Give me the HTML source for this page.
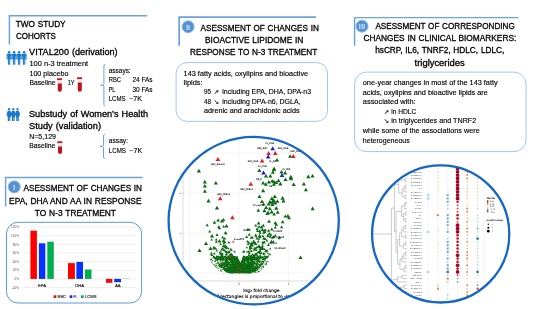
<!DOCTYPE html>
<html lang="en"><head><meta charset="utf-8"><title>Graphical abstract</title>
<style>html,body{margin:0;padding:0;background:#fff;overflow:hidden}svg{display:block}</style>
</head><body>
<svg width="550" height="309" viewBox="0 0 550 309" font-family='"Liberation Sans", "DejaVu Sans", sans-serif'>
<rect width="550" height="309" fill="#fff"/>
<path d="M9.4 44.6 V15.7 H147.2" fill="none" stroke="#6aa3de" stroke-width="1.45"/>
<text x="15.8" y="27.4" font-size="9.0" text-anchor="start" fill="#000" stroke="#000" stroke-width="0.31" textLength="49.8" lengthAdjust="spacingAndGlyphs" word-spacing="0.5">TWO STUDY</text>
<text x="16.1" y="39.3" font-size="9.0" text-anchor="start" fill="#000" stroke="#000" stroke-width="0.31" textLength="39.8" lengthAdjust="spacingAndGlyphs">COHORTS</text>
<text x="29.1" y="55.2" font-size="9.0" text-anchor="start" fill="#000" stroke="#000" stroke-width="0.31" textLength="88.5" lengthAdjust="spacingAndGlyphs" word-spacing="0.5">VITAL200 (derivation)</text>
<text x="29.4" y="66.0" font-size="7.25" text-anchor="start" fill="#000" stroke="#000" stroke-width="0.14" textLength="58.8" lengthAdjust="spacingAndGlyphs">100 n-3 treatment</text>
<text x="29.4" y="75.7" font-size="7.25" text-anchor="start" fill="#000" stroke="#000" stroke-width="0.14" textLength="39.1" lengthAdjust="spacingAndGlyphs">100 placebo</text>
<text x="29.4" y="85.2" font-size="7.25" text-anchor="start" fill="#000" stroke="#000" stroke-width="0.14" textLength="26.1" lengthAdjust="spacingAndGlyphs">Baseline</text>
<text x="67.7" y="85.2" font-size="7.25" text-anchor="start" fill="#000" stroke="#000" stroke-width="0.14" textLength="6.9" lengthAdjust="spacingAndGlyphs">1Y</text>
<rect x="57.0" y="78.3" width="5.1" height="2.0" rx="0.3" fill="#c9151c"/>
<rect x="57.76" y="80.30" width="4.08" height="3.4" fill="#f8e4e4"/>
<path d="M57.76 83.60 h4.08 v6.16 a2.04 2.04 0 0 1 -4.08 0 z" fill="#bd141b"/>
<rect x="77.0" y="77.3" width="5.1" height="2.0" rx="0.3" fill="#c9151c"/>
<rect x="77.76" y="79.30" width="4.08" height="3.4" fill="#f8e4e4"/>
<path d="M77.76 82.60 h4.08 v7.16 a2.04 2.04 0 0 1 -4.08 0 z" fill="#bd141b"/>
<text x="29.0" y="116.6" font-size="9.0" text-anchor="start" fill="#000" stroke="#000" stroke-width="0.31" textLength="119.0" lengthAdjust="spacingAndGlyphs" word-spacing="0.5">Substudy of Women’s Health</text>
<text x="29.0" y="128.7" font-size="9.0" text-anchor="start" fill="#000" stroke="#000" stroke-width="0.31" textLength="72.0" lengthAdjust="spacingAndGlyphs" word-spacing="0.5">Study (validation)</text>
<text x="29.2" y="138.7" font-size="7.25" text-anchor="start" fill="#000" stroke="#000" stroke-width="0.14" textLength="26.8" lengthAdjust="spacingAndGlyphs">N=5,129</text>
<text x="29.2" y="148.3" font-size="7.25" text-anchor="start" fill="#000" stroke="#000" stroke-width="0.14" textLength="26.1" lengthAdjust="spacingAndGlyphs">Baseline</text>
<rect x="57.3" y="141.2" width="5.0" height="2.0" rx="0.3" fill="#c9151c"/>
<rect x="58.05" y="143.20" width="4.00" height="3.4" fill="#f8e4e4"/>
<path d="M58.05 146.50 h4.00 v5.60 a2.00 2.00 0 0 1 -4.00 0 z" fill="#bd141b"/>
<path d="M105.2 64.5 q-1.3 0 -1.3 1.4 V84.4 q0 0.9 -3.3 0.9 q3.3 0 3.3 0.9 V104.7 q0 1.4 1.3 1.4" fill="none" stroke="#5b9bd5" stroke-width="0.9"/>
<text x="108.7" y="72.5" font-size="7.25" text-anchor="start" fill="#000" stroke="#000" stroke-width="0.14" textLength="22.0" lengthAdjust="spacingAndGlyphs">assays:</text>
<text x="108.7" y="82.1" font-size="7.25" text-anchor="start" fill="#000" stroke="#000" stroke-width="0.14" textLength="12.3" lengthAdjust="spacingAndGlyphs">RBC</text>
<text x="132.4" y="82.1" font-size="7.25" text-anchor="start" fill="#000" stroke="#000" stroke-width="0.14" textLength="20.2" lengthAdjust="spacingAndGlyphs">24 FAs</text>
<text x="108.7" y="91.6" font-size="7.25" text-anchor="start" fill="#000" stroke="#000" stroke-width="0.14" textLength="6.6" lengthAdjust="spacingAndGlyphs">PL</text>
<text x="132.4" y="91.6" font-size="7.25" text-anchor="start" fill="#000" stroke="#000" stroke-width="0.14" textLength="20.2" lengthAdjust="spacingAndGlyphs">30 FAs</text>
<text x="108.7" y="101.0" font-size="7.25" text-anchor="start" fill="#000" stroke="#000" stroke-width="0.14" textLength="17.0" lengthAdjust="spacingAndGlyphs">LCMS</text>
<text x="129.0" y="101.0" font-size="7.25" text-anchor="start" fill="#000" stroke="#000" stroke-width="0.14" textLength="12.9" lengthAdjust="spacingAndGlyphs">~7K</text>
<path d="M104.8 134.4 q-1.3 0 -1.3 1.4 V145.5 q0 0.9 -3.3 0.9 q3.3 0 3.3 0.9 V157.1 q0 1.4 1.3 1.4" fill="none" stroke="#5b9bd5" stroke-width="0.9"/>
<text x="108.8" y="143.2" font-size="7.25" text-anchor="start" fill="#000" stroke="#000" stroke-width="0.14" textLength="19.2" lengthAdjust="spacingAndGlyphs">assay:</text>
<text x="108.8" y="153.1" font-size="7.25" text-anchor="start" fill="#000" stroke="#000" stroke-width="0.14" textLength="17.2" lengthAdjust="spacingAndGlyphs">LCMS</text>
<text x="129.2" y="153.1" font-size="7.25" text-anchor="start" fill="#000" stroke="#000" stroke-width="0.14" textLength="13.0" lengthAdjust="spacingAndGlyphs">~7K</text>
<g fill="#1878cc"><circle cx="9.10" cy="52.20" r="1.25"/><path d="M6.65 54.55 q0 -0.8 0.8 -0.8 h3.3 q0.8 0 0.8 0.8 v4.9 h-1.0 v-3.6 h-0.25 v8.8 h-1.05 v-5.4 h-0.3 v5.4 h-1.05 v-8.8 h-0.25 v3.6 h-1.0 z"/></g>
<g fill="#1878cc"><circle cx="14.10" cy="52.20" r="1.25"/><path d="M11.65 54.55 q0 -0.8 0.8 -0.8 h3.3 q0.8 0 0.8 0.8 v4.9 h-1.0 v-3.6 h-0.25 v8.8 h-1.05 v-5.4 h-0.3 v5.4 h-1.05 v-8.8 h-0.25 v3.6 h-1.0 z"/></g>
<g fill="#1878cc"><circle cx="19.10" cy="52.20" r="1.25"/><path d="M16.65 54.55 q0 -0.8 0.8 -0.8 h3.3 q0.8 0 0.8 0.8 v4.9 h-1.0 v-3.6 h-0.25 v8.8 h-1.05 v-5.4 h-0.3 v5.4 h-1.05 v-8.8 h-0.25 v3.6 h-1.0 z"/></g>
<g fill="#1878cc"><circle cx="24.10" cy="52.20" r="1.25"/><path d="M21.65 54.55 q0 -0.8 0.8 -0.8 h3.3 q0.8 0 0.8 0.8 v4.9 h-1.0 v-3.6 h-0.25 v8.8 h-1.05 v-5.4 h-0.3 v5.4 h-1.05 v-8.8 h-0.25 v3.6 h-1.0 z"/></g>
<g fill="#1878cc"><circle cx="9.10" cy="109.20" r="1.15"/><path d="M7.80 110.70L10.40 110.70L11.80 114.60L11.05 115.20L10.65 117.30L10.40 117.30L10.40 121.10L9.25 121.10L9.25 117.50L8.95 117.50L8.95 121.10L7.80 121.10L7.80 117.30L7.55 117.30L7.15 115.20L6.40 114.60z"/></g>
<g fill="#1878cc"><circle cx="13.30" cy="109.20" r="1.15"/><path d="M12.00 110.70L14.60 110.70L16.00 114.60L15.25 115.20L14.85 117.30L14.60 117.30L14.60 121.10L13.45 121.10L13.45 117.50L13.15 117.50L13.15 121.10L12.00 121.10L12.00 117.30L11.75 117.30L11.35 115.20L10.60 114.60z"/></g>
<g fill="#1878cc"><circle cx="17.50" cy="109.20" r="1.15"/><path d="M16.20 110.70L18.80 110.70L20.20 114.60L19.45 115.20L19.05 117.30L18.80 117.30L18.80 121.10L17.65 121.10L17.65 117.50L17.35 117.50L17.35 121.10L16.20 121.10L16.20 117.30L15.95 117.30L15.55 115.20L14.80 114.60z"/></g>
<path d="M5.6 206.6 V177.5 H142.7" fill="none" stroke="#6aa3de" stroke-width="1.45"/>
<circle cx="14.2" cy="186.9" r="6.1" fill="#5592d3" stroke="#9cc0e8" stroke-width="0.9"/>
<text x="14.2" y="189.8" font-size="8.0" text-anchor="middle" fill="#fff">I</text>
<text x="23.5" y="191.1" font-size="9.0" text-anchor="start" fill="#000" stroke="#000" stroke-width="0.31" textLength="118.5" lengthAdjust="spacingAndGlyphs" word-spacing="0.5">ASESSMENT OF CHANGES IN</text>
<text x="9.1" y="203.6" font-size="9.0" text-anchor="start" fill="#000" stroke="#000" stroke-width="0.31" textLength="132.4" lengthAdjust="spacingAndGlyphs" word-spacing="0.5">EPA, DHA AND AA IN RESPONSE</text>
<text x="34.8" y="216.0" font-size="9.0" text-anchor="start" fill="#000" stroke="#000" stroke-width="0.31" textLength="81.2" lengthAdjust="spacingAndGlyphs" word-spacing="0.5">TO N-3 TREATMENT</text>
<rect x="6.5" y="222.3" width="135.1" height="80.7" rx="11.5" ry="11.5" fill="#fff" stroke="#5b9bd5" stroke-width="1"/>
<line x1="23.5" x2="136" y1="227.12" y2="227.12" stroke="#dedede" stroke-width="0.5"/>
<text x="19.2" y="228.2" font-size="3.2" text-anchor="end" fill="#555">120%</text>
<line x1="23.5" x2="136" y1="235.75" y2="235.75" stroke="#dedede" stroke-width="0.5"/>
<text x="19.2" y="236.8" font-size="3.2" text-anchor="end" fill="#555">100%</text>
<line x1="23.5" x2="136" y1="244.38" y2="244.38" stroke="#dedede" stroke-width="0.5"/>
<text x="19.2" y="245.5" font-size="3.2" text-anchor="end" fill="#555">80%</text>
<line x1="23.5" x2="136" y1="253.01" y2="253.01" stroke="#dedede" stroke-width="0.5"/>
<text x="19.2" y="254.1" font-size="3.2" text-anchor="end" fill="#555">60%</text>
<line x1="23.5" x2="136" y1="261.64" y2="261.64" stroke="#dedede" stroke-width="0.5"/>
<text x="19.2" y="262.7" font-size="3.2" text-anchor="end" fill="#555">40%</text>
<line x1="23.5" x2="136" y1="270.27" y2="270.27" stroke="#dedede" stroke-width="0.5"/>
<text x="19.2" y="271.4" font-size="3.2" text-anchor="end" fill="#555">20%</text>
<line x1="23.5" x2="136" y1="278.90" y2="278.90" stroke="#dedede" stroke-width="0.5"/>
<text x="19.2" y="280.0" font-size="3.2" text-anchor="end" fill="#555">0%</text>
<line x1="23.5" x2="136" y1="287.53" y2="287.53" stroke="#dedede" stroke-width="0.5"/>
<text x="19.2" y="288.6" font-size="3.2" text-anchor="end" fill="#555">-20%</text>
<rect x="30.4" y="230.70" width="6.50" height="48.20" fill="#ff0000" opacity="1"/>
<rect x="38.9" y="243.30" width="6.40" height="35.60" fill="#0433ff" opacity="1"/>
<rect x="47.3" y="241.70" width="6.50" height="37.20" fill="#00b050" opacity="1"/>
<rect x="68.0" y="263.11" width="6.90" height="15.79" fill="#ff0000" opacity="1"/>
<rect x="76.4" y="261.90" width="6.60" height="17.00" fill="#0433ff" opacity="1"/>
<rect x="84.9" y="269.49" width="6.60" height="9.41" fill="#00b050" opacity="1"/>
<rect x="106.0" y="278.90" width="6.40" height="3.88" fill="#ff0000" opacity="1"/>
<rect x="114.2" y="278.90" width="6.80" height="3.28" fill="#0433ff" opacity="1"/>
<rect x="122.6" y="278.21" width="6.80" height="0.69" fill="#00b050" opacity="0.35"/>
<text x="42.1" y="287.4" font-size="4.3" text-anchor="middle" fill="#111" stroke="#111" stroke-width="0.12">EPA</text>
<text x="79.7" y="287.4" font-size="4.3" text-anchor="middle" fill="#111" stroke="#111" stroke-width="0.12">DHA</text>
<text x="117.8" y="287.4" font-size="4.3" text-anchor="middle" fill="#111" stroke="#111" stroke-width="0.12">AA</text>
<rect x="53.6" y="295.3" width="2.7" height="2.7" fill="#ff0000"/>
<text x="57.6" y="297.9" font-size="4.3" text-anchor="start" fill="#111" textLength="8.2" lengthAdjust="spacingAndGlyphs" stroke="#111" stroke-width="0.12">RBC</text>
<rect x="69.6" y="295.3" width="2.7" height="2.7" fill="#0433ff"/>
<text x="73.6" y="297.9" font-size="4.3" text-anchor="start" fill="#111" textLength="3.6" lengthAdjust="spacingAndGlyphs" stroke="#111" stroke-width="0.12">PL</text>
<rect x="81.0" y="295.3" width="2.7" height="2.7" fill="#00b050"/>
<text x="85.0" y="297.9" font-size="4.3" text-anchor="start" fill="#111" textLength="11.4" lengthAdjust="spacingAndGlyphs" stroke="#111" stroke-width="0.12">LCMS</text>
<path d="M179.2 45.8 V17.2 H316.1" fill="none" stroke="#6aa3de" stroke-width="1.8"/>
<circle cx="188.1" cy="26.8" r="6.1" fill="#5592d3" stroke="#9cc0e8" stroke-width="0.9"/>
<text x="185.9" y="29.5" font-size="7.6" text-anchor="start" fill="#fff" textLength="4.4" lengthAdjust="spacingAndGlyphs">II</text>
<text x="200.6" y="30.6" font-size="9.0" text-anchor="start" fill="#000" stroke="#000" stroke-width="0.31" textLength="118.2" lengthAdjust="spacingAndGlyphs" word-spacing="0.5">ASESSMENT OF CHANGES IN</text>
<text x="205.0" y="42.9" font-size="9.0" text-anchor="start" fill="#000" stroke="#000" stroke-width="0.31" textLength="98.4" lengthAdjust="spacingAndGlyphs" word-spacing="0.5">BIOACTIVE LIPIDOME IN</text>
<text x="190.1" y="55.0" font-size="9.0" text-anchor="start" fill="#000" stroke="#000" stroke-width="0.31" textLength="127.1" lengthAdjust="spacingAndGlyphs" word-spacing="0.5">RESPONSE TO N-3 TREATMENT</text>
<rect x="176.1" y="62.6" width="151.4" height="58.8" rx="11" ry="11" fill="#fff" stroke="#a4c6ea" stroke-width="1"/>
<text x="183.6" y="75.7" font-size="7.25" text-anchor="start" fill="#000" stroke="#000" stroke-width="0.14" textLength="124.6" lengthAdjust="spacingAndGlyphs">143 fatty acids, oxylipins and bioactive</text>
<text x="183.6" y="85.0" font-size="7.25" text-anchor="start" fill="#000" stroke="#000" stroke-width="0.14" textLength="19.0" lengthAdjust="spacingAndGlyphs">lipids:</text>
<text x="204.0" y="94.4" font-size="7.25" text-anchor="start" fill="#000" stroke="#000" stroke-width="0.14" textLength="7.0" lengthAdjust="spacingAndGlyphs">95</text>
<text x="213.7" y="94.3" font-size="6.4" text-anchor="start" fill="#000" stroke="#000" stroke-width="0.13" font-family='"DejaVu Sans", sans-serif'>↗</text>
<text x="222.3" y="94.4" font-size="7.25" text-anchor="start" fill="#000" stroke="#000" stroke-width="0.14" textLength="88.8" lengthAdjust="spacingAndGlyphs">including EPA, DHA, DPA-n3</text>
<text x="204.0" y="103.7" font-size="7.25" text-anchor="start" fill="#000" stroke="#000" stroke-width="0.14" textLength="7.0" lengthAdjust="spacingAndGlyphs">48</text>
<text x="213.7" y="103.6" font-size="6.4" text-anchor="start" fill="#000" stroke="#000" stroke-width="0.13" font-family='"DejaVu Sans", sans-serif'>↘</text>
<text x="222.3" y="103.7" font-size="7.25" text-anchor="start" fill="#000" stroke="#000" stroke-width="0.14" textLength="78.2" lengthAdjust="spacingAndGlyphs">including DPA-n6, DGLA,</text>
<text x="204.0" y="113.1" font-size="7.25" text-anchor="start" fill="#000" stroke="#000" stroke-width="0.14" textLength="95.6" lengthAdjust="spacingAndGlyphs">adrenic and arachidonic acids</text>
<path d="M354.6 45.8 V17.6 H518.4" fill="none" stroke="#6aa3de" stroke-width="1.45"/>
<circle cx="362.0" cy="26.2" r="6.1" fill="#5592d3" stroke="#9cc0e8" stroke-width="0.9"/>
<text x="358.8" y="28.9" font-size="7.6" text-anchor="start" fill="#fff" textLength="6.4" lengthAdjust="spacingAndGlyphs">III</text>
<text x="375.4" y="28.9" font-size="9.0" text-anchor="start" fill="#000" stroke="#000" stroke-width="0.31" textLength="139.4" lengthAdjust="spacingAndGlyphs" word-spacing="0.5">ASESSMENT OF CORRESPONDING</text>
<text x="363.5" y="41.0" font-size="9.0" text-anchor="start" fill="#000" stroke="#000" stroke-width="0.31" textLength="152.8" lengthAdjust="spacingAndGlyphs" word-spacing="0.5">CHANGES IN CLINICAL BIOMARKERS:</text>
<text x="375.2" y="53.3" font-size="9.0" text-anchor="start" fill="#000" stroke="#000" stroke-width="0.31" textLength="129.1" lengthAdjust="spacingAndGlyphs" word-spacing="0.5">hsCRP, IL6, TNRF2, HDLC, LDLC,</text>
<text x="414.6" y="66.2" font-size="9.0" text-anchor="start" fill="#000" stroke="#000" stroke-width="0.31" textLength="50.1" lengthAdjust="spacingAndGlyphs">triglycerides</text>
<rect x="354.6" y="72.1" width="171.4" height="79.5" rx="12" ry="12" fill="#fff" stroke="#a4c6ea" stroke-width="1"/>
<text x="362.8" y="85.2" font-size="7.25" text-anchor="start" fill="#000" stroke="#000" stroke-width="0.14" textLength="134.9" lengthAdjust="spacingAndGlyphs">one-year changes in most of the 143 fatty</text>
<text x="362.8" y="94.8" font-size="7.25" text-anchor="start" fill="#000" stroke="#000" stroke-width="0.14" textLength="125.0" lengthAdjust="spacingAndGlyphs">acids, oxylipins and bioactive lipids are</text>
<text x="362.8" y="104.3" font-size="7.25" text-anchor="start" fill="#000" stroke="#000" stroke-width="0.14" textLength="52.8" lengthAdjust="spacingAndGlyphs">associated with:</text>
<text x="383.7" y="113.9" font-size="6.4" text-anchor="start" fill="#000" stroke="#000" stroke-width="0.13" font-family='"DejaVu Sans", sans-serif'>↗</text>
<text x="391.2" y="113.9" font-size="7.25" text-anchor="start" fill="#000" stroke="#000" stroke-width="0.14" textLength="25.1" lengthAdjust="spacingAndGlyphs">in HDLC</text>
<text x="383.7" y="123.4" font-size="6.4" text-anchor="start" fill="#000" stroke="#000" stroke-width="0.13" font-family='"DejaVu Sans", sans-serif'>↘</text>
<text x="391.2" y="123.4" font-size="7.25" text-anchor="start" fill="#000" stroke="#000" stroke-width="0.14" textLength="85.1" lengthAdjust="spacingAndGlyphs">in triglycerides and TNRF2</text>
<text x="362.8" y="133.0" font-size="7.25" text-anchor="start" fill="#000" stroke="#000" stroke-width="0.14" textLength="117.0" lengthAdjust="spacingAndGlyphs">while some of the associations were</text>
<text x="362.8" y="142.6" font-size="7.25" text-anchor="start" fill="#000" stroke="#000" stroke-width="0.14" textLength="47.0" lengthAdjust="spacingAndGlyphs">heterogeneous</text>
<clipPath id="cv"><ellipse cx="253.7" cy="220.65" rx="85.1" ry="83.75"/></clipPath>
<g clip-path="url(#cv)">
<rect x="160" y="130" width="190" height="180" fill="#fff"/>
<line x1="189.7" x2="189.7" y1="130" y2="281" stroke="#e9e9e9" stroke-width="0.5"/>
<line x1="239.0" x2="239.0" y1="130" y2="281" stroke="#e9e9e9" stroke-width="0.5"/>
<line x1="288.3" x2="288.3" y1="130" y2="281" stroke="#e9e9e9" stroke-width="0.5"/>
<line x1="337.6" x2="337.6" y1="130" y2="281" stroke="#e9e9e9" stroke-width="0.5"/>
<line x1="183" x2="345" y1="153.0" y2="153.0" stroke="#e9e9e9" stroke-width="0.5"/>
<line x1="183" x2="345" y1="193.0" y2="193.0" stroke="#e9e9e9" stroke-width="0.5"/>
<line x1="183" x2="345" y1="233.0" y2="233.0" stroke="#e9e9e9" stroke-width="0.5"/>
<line x1="183" x2="345" y1="273.0" y2="273.0" stroke="#e9e9e9" stroke-width="0.5"/>
<line x1="183" x2="345" y1="281" y2="281" stroke="#c4c4c4" stroke-width="0.6"/>
<line x1="183" x2="183" y1="130" y2="281" stroke="#c4c4c4" stroke-width="0.6"/>
<line x1="239.0" x2="239.0" y1="281" y2="282.5" stroke="#999" stroke-width="0.4"/>
<line x1="288.3" x2="288.3" y1="281" y2="282.5" stroke="#999" stroke-width="0.4"/>
<line x1="181.8" x2="183" y1="153.0" y2="153.0" stroke="#999" stroke-width="0.4"/>
<line x1="181.8" x2="183" y1="193.0" y2="193.0" stroke="#999" stroke-width="0.4"/>
<line x1="181.8" x2="183" y1="233.0" y2="233.0" stroke="#999" stroke-width="0.4"/>
<line x1="181.8" x2="183" y1="273.0" y2="273.0" stroke="#999" stroke-width="0.4"/>
<path d="M242.4 271.6h1.1v1.1h-1.1zM234.8 271.8h1.0v1.0h-1.0zM229.5 271.3h1.0v1.0h-1.0zM242.4 271.1h0.9v0.9h-0.9zM256.7 264.5h1.2v1.2h-1.2zM222.5 258.0h1.0v1.0h-1.0zM236.9 259.6h0.9v0.9h-0.9zM243.8 262.5h1.0v1.0h-1.0zM236.4 269.7h1.1v1.1h-1.1zM238.8 269.2h1.1v1.1h-1.1zM248.0 261.5h0.9v0.9h-0.9zM242.3 265.2h1.2v1.2h-1.2zM241.0 271.4h1.0v1.0h-1.0zM248.1 270.5h1.0v1.0h-1.0zM254.2 262.9h1.2v1.2h-1.2zM236.2 261.5h1.1v1.1h-1.1zM249.6 256.9h1.0v1.0h-1.0zM245.2 271.7h1.1v1.1h-1.1zM258.9 264.7h1.0v1.0h-1.0zM265.1 259.3h1.0v1.0h-1.0zM237.5 261.5h0.9v0.9h-0.9zM235.5 266.7h1.2v1.2h-1.2zM249.4 258.0h1.2v1.2h-1.2zM245.2 268.6h1.0v1.0h-1.0zM253.1 269.8h0.9v0.9h-0.9zM223.8 267.2h1.0v1.0h-1.0zM233.3 266.3h1.0v1.0h-1.0zM244.0 256.7h1.1v1.1h-1.1zM253.6 270.6h1.2v1.2h-1.2zM241.2 261.7h1.2v1.2h-1.2zM232.1 262.7h0.9v0.9h-0.9zM233.6 269.7h0.9v0.9h-0.9zM238.2 270.9h0.9v0.9h-0.9zM237.0 272.1h1.2v1.2h-1.2zM235.6 267.5h1.0v1.0h-1.0zM236.1 258.6h1.2v1.2h-1.2zM228.7 271.0h1.0v1.0h-1.0zM237.5 260.5h0.9v0.9h-0.9zM264.2 260.1h1.1v1.1h-1.1zM236.2 264.4h1.2v1.2h-1.2zM229.9 267.2h0.9v0.9h-0.9zM251.5 264.1h1.2v1.2h-1.2zM243.2 256.1h1.2v1.2h-1.2zM246.1 259.2h1.1v1.1h-1.1zM238.2 272.2h0.9v0.9h-0.9zM227.9 268.5h1.1v1.1h-1.1zM250.3 256.0h1.2v1.2h-1.2zM237.0 269.6h0.9v0.9h-0.9zM242.0 259.6h1.2v1.2h-1.2zM233.4 262.2h1.2v1.2h-1.2zM252.5 259.7h1.1v1.1h-1.1zM232.4 270.0h1.2v1.2h-1.2zM248.8 266.7h1.0v1.0h-1.0zM255.5 260.4h0.9v0.9h-0.9zM243.9 259.6h0.9v0.9h-0.9zM243.9 256.2h1.1v1.1h-1.1zM232.3 272.2h1.2v1.2h-1.2zM250.0 264.4h1.2v1.2h-1.2zM258.5 265.9h0.9v0.9h-0.9zM231.7 269.2h1.1v1.1h-1.1zM239.3 262.7h1.0v1.0h-1.0zM229.4 263.4h1.2v1.2h-1.2zM259.5 261.5h1.0v1.0h-1.0zM229.3 265.9h0.9v0.9h-0.9zM221.9 263.1h1.1v1.1h-1.1zM240.3 269.5h1.0v1.0h-1.0zM223.5 262.6h0.9v0.9h-0.9zM233.9 260.1h1.0v1.0h-1.0zM255.5 264.5h1.1v1.1h-1.1zM246.2 264.7h1.1v1.1h-1.1zM228.0 256.9h1.1v1.1h-1.1zM243.6 257.0h0.9v0.9h-0.9zM262.3 262.8h0.9v0.9h-0.9zM231.2 271.6h0.9v0.9h-0.9zM253.3 257.8h0.9v0.9h-0.9zM246.5 262.2h0.9v0.9h-0.9zM220.5 256.5h1.0v1.0h-1.0zM222.2 256.0h1.2v1.2h-1.2zM245.6 267.7h0.9v0.9h-0.9zM231.0 261.1h0.8v0.8h-0.8zM229.7 267.7h1.1v1.1h-1.1zM243.4 271.6h1.2v1.2h-1.2zM233.6 268.9h0.9v0.9h-0.9zM265.9 257.6h0.9v0.9h-0.9zM259.4 264.7h0.9v0.9h-0.9zM250.2 263.6h1.1v1.1h-1.1zM242.9 266.5h0.9v0.9h-0.9zM241.7 264.3h1.2v1.2h-1.2zM222.9 258.0h1.0v1.0h-1.0zM229.9 263.9h1.2v1.2h-1.2zM240.5 270.4h0.9v0.9h-0.9zM234.7 271.9h0.9v0.9h-0.9zM243.1 268.4h1.0v1.0h-1.0zM232.1 267.6h0.8v0.8h-0.8zM239.9 267.6h0.9v0.9h-0.9zM238.2 260.1h0.9v0.9h-0.9zM235.4 259.0h1.0v1.0h-1.0zM249.4 261.5h1.2v1.2h-1.2zM250.3 262.6h1.0v1.0h-1.0zM224.2 269.7h0.9v0.9h-0.9zM225.1 268.9h0.9v0.9h-0.9zM246.9 258.3h1.1v1.1h-1.1zM238.5 267.2h0.9v0.9h-0.9zM232.5 268.7h1.2v1.2h-1.2zM227.5 256.5h1.0v1.0h-1.0zM237.7 272.4h1.0v1.0h-1.0zM228.3 264.8h0.8v0.8h-0.8zM238.0 271.5h1.0v1.0h-1.0zM237.8 269.7h1.1v1.1h-1.1zM240.4 264.7h1.1v1.1h-1.1zM235.4 267.7h1.2v1.2h-1.2zM219.8 259.1h1.1v1.1h-1.1zM258.1 260.9h1.1v1.1h-1.1zM245.0 270.7h1.0v1.0h-1.0zM258.8 258.1h1.1v1.1h-1.1zM240.4 265.5h1.1v1.1h-1.1zM239.6 269.3h0.9v0.9h-0.9zM242.4 264.7h1.1v1.1h-1.1zM229.2 272.2h1.2v1.2h-1.2zM250.6 264.8h1.1v1.1h-1.1zM242.0 269.6h0.9v0.9h-0.9zM236.8 261.1h0.9v0.9h-0.9zM238.1 268.0h1.0v1.0h-1.0zM246.9 262.5h0.9v0.9h-0.9zM224.2 267.2h1.1v1.1h-1.1zM235.6 271.8h0.9v0.9h-0.9zM252.0 261.4h1.1v1.1h-1.1zM236.9 265.7h0.9v0.9h-0.9zM251.4 269.4h1.2v1.2h-1.2zM238.1 261.7h1.2v1.2h-1.2zM239.2 270.0h0.9v0.9h-0.9zM246.4 270.6h1.0v1.0h-1.0zM242.1 270.9h1.2v1.2h-1.2zM260.6 263.5h1.2v1.2h-1.2zM238.8 272.3h0.8v0.8h-0.8zM229.0 270.5h1.0v1.0h-1.0zM239.4 263.7h0.8v0.8h-0.8zM239.7 263.5h1.1v1.1h-1.1zM259.0 264.5h1.0v1.0h-1.0zM262.7 260.7h1.0v1.0h-1.0zM239.4 263.8h1.0v1.0h-1.0zM243.0 269.1h0.9v0.9h-0.9zM233.3 256.6h1.2v1.2h-1.2zM240.2 266.1h1.2v1.2h-1.2zM251.6 271.4h1.1v1.1h-1.1zM235.3 260.5h1.1v1.1h-1.1zM240.6 271.4h1.0v1.0h-1.0zM236.7 268.3h1.1v1.1h-1.1zM247.5 268.2h1.1v1.1h-1.1zM238.8 270.9h0.9v0.9h-0.9zM234.1 269.4h1.2v1.2h-1.2zM260.9 261.5h0.9v0.9h-0.9zM238.4 271.6h0.9v0.9h-0.9zM235.7 263.7h1.2v1.2h-1.2zM239.9 267.9h1.0v1.0h-1.0zM229.6 271.7h1.0v1.0h-1.0zM244.9 262.6h1.2v1.2h-1.2zM238.9 269.8h0.9v0.9h-0.9zM248.6 258.6h1.2v1.2h-1.2zM233.4 272.0h1.1v1.1h-1.1zM248.9 272.4h1.0v1.0h-1.0zM246.7 259.1h1.2v1.2h-1.2zM232.4 270.5h1.0v1.0h-1.0zM241.1 260.8h1.1v1.1h-1.1zM229.7 264.1h0.9v0.9h-0.9zM253.4 268.4h1.2v1.2h-1.2zM234.7 269.0h1.1v1.1h-1.1zM246.7 271.1h0.9v0.9h-0.9zM226.8 268.7h1.1v1.1h-1.1zM237.9 268.9h1.0v1.0h-1.0zM253.8 264.7h0.9v0.9h-0.9zM236.2 256.6h1.1v1.1h-1.1zM239.2 265.3h1.0v1.0h-1.0zM237.8 263.6h1.2v1.2h-1.2zM239.5 268.5h1.1v1.1h-1.1zM237.2 260.6h1.1v1.1h-1.1zM246.6 268.0h1.2v1.2h-1.2zM239.6 270.6h1.1v1.1h-1.1zM233.1 270.0h0.9v0.9h-0.9zM216.1 257.9h1.2v1.2h-1.2zM233.9 256.4h0.9v0.9h-0.9zM231.9 271.8h1.0v1.0h-1.0zM256.4 255.8h1.2v1.2h-1.2zM227.4 269.4h1.2v1.2h-1.2zM240.0 269.3h1.0v1.0h-1.0zM237.4 270.5h0.8v0.8h-0.8zM241.5 271.1h1.2v1.2h-1.2zM230.7 267.3h1.2v1.2h-1.2zM235.3 265.4h1.0v1.0h-1.0zM249.5 269.9h1.0v1.0h-1.0zM237.8 261.4h1.1v1.1h-1.1zM238.5 272.2h0.9v0.9h-0.9zM246.7 257.8h1.0v1.0h-1.0zM236.1 256.7h1.1v1.1h-1.1zM238.8 269.7h0.8v0.8h-0.8zM255.7 257.2h1.1v1.1h-1.1zM237.7 266.3h1.2v1.2h-1.2zM240.7 268.7h0.9v0.9h-0.9zM250.4 269.9h1.2v1.2h-1.2zM244.8 259.1h1.1v1.1h-1.1zM232.9 267.2h1.2v1.2h-1.2zM234.3 269.8h1.1v1.1h-1.1zM239.9 267.5h1.0v1.0h-1.0zM243.4 258.0h1.2v1.2h-1.2zM239.4 267.7h1.1v1.1h-1.1zM235.7 269.3h1.0v1.0h-1.0zM250.7 258.7h1.1v1.1h-1.1zM229.6 258.9h1.0v1.0h-1.0zM248.8 269.9h0.9v0.9h-0.9zM235.9 270.4h1.2v1.2h-1.2zM232.0 256.0h1.0v1.0h-1.0zM235.7 259.4h1.1v1.1h-1.1zM235.2 259.2h1.2v1.2h-1.2zM240.2 272.2h1.0v1.0h-1.0zM244.5 263.4h1.2v1.2h-1.2zM235.5 258.4h1.0v1.0h-1.0zM240.9 271.5h1.1v1.1h-1.1zM257.2 266.7h1.0v1.0h-1.0zM235.6 263.2h1.1v1.1h-1.1zM234.7 272.3h1.0v1.0h-1.0zM237.0 269.8h1.2v1.2h-1.2zM245.7 271.8h0.9v0.9h-0.9zM249.9 271.4h0.9v0.9h-0.9zM247.7 266.5h1.0v1.0h-1.0zM231.1 263.8h1.0v1.0h-1.0zM216.6 256.8h1.2v1.2h-1.2zM244.3 269.8h0.8v0.8h-0.8zM244.8 266.2h1.2v1.2h-1.2zM222.8 267.5h0.8v0.8h-0.8zM251.3 262.3h1.2v1.2h-1.2zM228.1 264.7h0.9v0.9h-0.9zM232.4 264.5h1.2v1.2h-1.2zM248.9 256.6h0.9v0.9h-0.9zM232.5 256.9h1.2v1.2h-1.2zM243.1 266.7h1.2v1.2h-1.2zM240.3 264.2h0.9v0.9h-0.9zM238.2 261.6h1.2v1.2h-1.2zM233.0 269.5h1.0v1.0h-1.0zM230.1 269.0h1.1v1.1h-1.1zM241.0 272.1h1.1v1.1h-1.1zM240.0 271.5h1.1v1.1h-1.1zM242.7 263.3h1.0v1.0h-1.0zM228.3 262.1h1.0v1.0h-1.0zM233.5 272.1h1.1v1.1h-1.1zM247.2 260.0h1.0v1.0h-1.0zM239.5 268.0h0.9v0.9h-0.9zM232.5 265.9h1.0v1.0h-1.0zM232.3 262.7h0.9v0.9h-0.9zM241.7 271.9h1.0v1.0h-1.0zM222.7 256.7h0.9v0.9h-0.9zM260.7 257.9h0.9v0.9h-0.9zM265.9 256.9h1.2v1.2h-1.2zM245.2 257.3h0.9v0.9h-0.9zM236.9 260.8h0.9v0.9h-0.9zM246.3 270.6h1.0v1.0h-1.0zM244.8 269.7h0.9v0.9h-0.9zM231.2 270.1h0.9v0.9h-0.9zM240.1 265.7h1.2v1.2h-1.2zM231.3 264.4h1.1v1.1h-1.1zM224.6 258.0h1.1v1.1h-1.1zM221.7 256.0h1.1v1.1h-1.1zM230.0 259.7h0.9v0.9h-0.9zM226.8 260.0h1.0v1.0h-1.0zM239.2 264.5h0.9v0.9h-0.9zM243.1 256.2h1.1v1.1h-1.1zM246.9 268.1h0.8v0.8h-0.8zM245.4 266.1h1.0v1.0h-1.0zM241.1 271.3h0.9v0.9h-0.9zM238.7 268.8h0.9v0.9h-0.9zM238.1 270.0h1.1v1.1h-1.1zM245.7 265.4h0.9v0.9h-0.9zM243.5 269.2h0.9v0.9h-0.9zM251.7 259.9h1.0v1.0h-1.0zM231.8 272.3h1.1v1.1h-1.1zM248.4 265.8h1.2v1.2h-1.2zM243.3 269.0h1.2v1.2h-1.2zM228.1 269.0h0.9v0.9h-0.9zM243.2 272.3h1.1v1.1h-1.1zM234.7 263.1h1.0v1.0h-1.0zM242.0 261.5h0.9v0.9h-0.9zM236.7 258.1h1.2v1.2h-1.2zM247.7 272.3h1.2v1.2h-1.2zM240.3 268.3h0.9v0.9h-0.9zM228.8 269.2h0.9v0.9h-0.9zM248.4 258.7h1.1v1.1h-1.1zM225.6 263.3h1.0v1.0h-1.0zM236.9 262.8h1.2v1.2h-1.2zM228.2 258.2h0.8v0.8h-0.8zM240.3 262.5h1.1v1.1h-1.1zM232.6 258.2h1.0v1.0h-1.0zM241.3 264.0h1.1v1.1h-1.1zM261.6 260.7h1.2v1.2h-1.2zM233.5 261.0h1.1v1.1h-1.1zM221.2 265.7h1.1v1.1h-1.1zM220.5 266.9h0.9v0.9h-0.9zM250.3 267.5h0.9v0.9h-0.9zM242.7 263.0h1.1v1.1h-1.1zM240.4 271.9h1.1v1.1h-1.1zM252.0 258.0h0.9v0.9h-0.9zM253.7 257.3h1.2v1.2h-1.2zM234.5 272.0h1.2v1.2h-1.2zM244.0 262.5h1.2v1.2h-1.2zM234.3 271.2h1.1v1.1h-1.1zM233.8 268.0h1.0v1.0h-1.0zM232.3 261.2h1.0v1.0h-1.0zM238.9 261.2h1.0v1.0h-1.0zM231.6 266.4h1.0v1.0h-1.0zM251.0 267.3h1.1v1.1h-1.1zM246.6 271.3h1.2v1.2h-1.2zM238.3 272.4h0.9v0.9h-0.9zM237.8 266.2h1.0v1.0h-1.0zM238.0 268.3h1.2v1.2h-1.2zM233.8 257.0h1.0v1.0h-1.0zM236.4 271.1h1.1v1.1h-1.1zM224.7 259.3h1.1v1.1h-1.1zM236.7 266.6h1.0v1.0h-1.0zM253.5 270.3h1.2v1.2h-1.2zM233.2 257.7h1.0v1.0h-1.0zM238.9 262.2h0.9v0.9h-0.9zM251.8 260.3h1.1v1.1h-1.1zM237.0 268.0h0.9v0.9h-0.9zM248.0 270.2h1.0v1.0h-1.0zM252.2 263.4h0.9v0.9h-0.9zM219.7 264.6h1.0v1.0h-1.0zM244.9 258.9h0.9v0.9h-0.9zM235.7 264.6h0.9v0.9h-0.9zM233.5 269.9h1.2v1.2h-1.2zM240.5 271.6h1.0v1.0h-1.0zM244.4 259.7h1.1v1.1h-1.1zM246.0 271.2h0.9v0.9h-0.9zM237.3 272.1h1.0v1.0h-1.0zM243.8 262.6h1.0v1.0h-1.0zM225.0 262.4h1.0v1.0h-1.0zM238.6 265.9h1.1v1.1h-1.1zM218.0 262.6h1.1v1.1h-1.1zM252.4 258.5h1.1v1.1h-1.1zM251.7 265.5h1.0v1.0h-1.0zM236.7 260.0h1.1v1.1h-1.1zM243.2 269.0h1.0v1.0h-1.0zM226.4 261.4h1.2v1.2h-1.2zM236.0 262.2h1.2v1.2h-1.2zM248.8 272.0h1.1v1.1h-1.1zM232.3 259.9h1.2v1.2h-1.2zM244.4 264.2h1.1v1.1h-1.1zM240.4 265.9h1.2v1.2h-1.2zM250.0 269.5h1.1v1.1h-1.1zM238.6 263.3h0.9v0.9h-0.9zM230.6 268.7h1.0v1.0h-1.0zM239.0 268.2h1.0v1.0h-1.0zM236.9 269.5h1.1v1.1h-1.1zM248.8 264.5h0.9v0.9h-0.9zM236.7 270.8h1.2v1.2h-1.2zM249.3 262.6h1.0v1.0h-1.0zM246.5 267.4h1.1v1.1h-1.1zM242.6 260.2h1.0v1.0h-1.0zM236.4 259.0h1.0v1.0h-1.0zM252.0 268.4h1.0v1.0h-1.0zM239.6 272.3h1.1v1.1h-1.1zM229.4 269.1h1.0v1.0h-1.0zM250.4 262.1h1.0v1.0h-1.0zM241.3 262.1h0.9v0.9h-0.9zM250.0 270.5h1.2v1.2h-1.2zM259.2 267.2h0.8v0.8h-0.8zM226.0 270.1h0.9v0.9h-0.9zM235.6 260.1h1.0v1.0h-1.0zM252.2 269.7h1.2v1.2h-1.2zM257.6 259.0h1.1v1.1h-1.1zM253.7 268.8h1.1v1.1h-1.1zM250.8 260.6h1.0v1.0h-1.0zM230.5 269.3h0.9v0.9h-0.9zM231.3 271.8h1.0v1.0h-1.0zM232.6 264.2h1.2v1.2h-1.2zM230.7 258.9h1.0v1.0h-1.0zM253.6 266.3h1.0v1.0h-1.0zM245.5 271.5h1.1v1.1h-1.1zM241.4 263.9h1.2v1.2h-1.2zM238.1 259.2h1.0v1.0h-1.0zM218.6 258.7h1.1v1.1h-1.1zM237.9 260.6h1.0v1.0h-1.0zM251.9 269.3h1.0v1.0h-1.0zM237.9 265.3h1.2v1.2h-1.2zM234.9 264.9h0.9v0.9h-0.9zM257.9 256.2h1.1v1.1h-1.1zM237.5 268.7h1.1v1.1h-1.1zM248.6 260.0h0.9v0.9h-0.9zM243.5 271.9h1.0v1.0h-1.0zM219.3 264.2h1.2v1.2h-1.2zM251.2 257.5h1.1v1.1h-1.1zM249.1 262.7h1.1v1.1h-1.1zM227.5 261.8h1.0v1.0h-1.0zM248.5 271.3h0.9v0.9h-0.9zM256.7 261.1h1.0v1.0h-1.0zM243.8 259.8h1.1v1.1h-1.1zM239.5 269.6h1.0v1.0h-1.0zM248.4 257.2h0.9v0.9h-0.9zM237.3 260.5h1.1v1.1h-1.1zM241.1 267.7h0.8v0.8h-0.8zM250.0 256.2h1.0v1.0h-1.0zM231.1 271.2h1.1v1.1h-1.1zM238.5 272.3h1.1v1.1h-1.1zM234.4 256.6h0.9v0.9h-0.9zM236.3 261.1h0.9v0.9h-0.9zM243.8 270.1h0.9v0.9h-0.9zM242.3 262.2h0.9v0.9h-0.9zM255.5 260.6h1.0v1.0h-1.0zM247.0 261.2h0.8v0.8h-0.8zM236.7 262.3h1.2v1.2h-1.2zM247.4 270.2h1.2v1.2h-1.2zM235.8 271.8h1.0v1.0h-1.0zM249.4 270.5h1.2v1.2h-1.2zM235.0 262.4h1.1v1.1h-1.1zM248.4 256.9h1.2v1.2h-1.2zM244.8 268.5h0.9v0.9h-0.9zM255.2 266.3h1.1v1.1h-1.1zM242.4 260.2h1.1v1.1h-1.1zM243.7 267.0h1.1v1.1h-1.1zM249.7 257.8h1.2v1.2h-1.2zM239.7 268.7h1.1v1.1h-1.1zM240.5 263.1h0.9v0.9h-0.9zM249.1 263.7h0.9v0.9h-0.9zM255.7 258.9h1.1v1.1h-1.1zM231.9 264.0h1.2v1.2h-1.2zM235.0 260.4h1.2v1.2h-1.2zM241.3 267.3h0.9v0.9h-0.9zM226.2 260.2h1.2v1.2h-1.2zM244.1 260.2h0.9v0.9h-0.9zM240.9 261.8h1.2v1.2h-1.2zM251.2 269.8h0.9v0.9h-0.9zM238.3 263.8h1.0v1.0h-1.0zM249.3 270.6h0.9v0.9h-0.9zM244.0 267.1h0.9v0.9h-0.9zM228.1 263.1h1.0v1.0h-1.0zM253.0 271.5h0.9v0.9h-0.9zM219.9 260.9h0.9v0.9h-0.9zM241.0 267.7h1.2v1.2h-1.2zM242.0 269.6h0.9v0.9h-0.9zM221.6 266.4h0.9v0.9h-0.9zM251.9 265.3h1.2v1.2h-1.2zM243.9 271.7h1.1v1.1h-1.1zM243.9 268.9h1.1v1.1h-1.1zM242.9 257.0h1.1v1.1h-1.1zM231.2 256.4h1.2v1.2h-1.2zM233.1 272.0h0.9v0.9h-0.9zM252.9 258.9h0.9v0.9h-0.9zM257.2 260.1h1.1v1.1h-1.1zM236.4 260.3h1.2v1.2h-1.2zM240.2 269.8h1.1v1.1h-1.1zM239.7 270.4h0.9v0.9h-0.9zM235.2 270.3h0.9v0.9h-0.9zM230.6 261.2h0.9v0.9h-0.9zM228.2 257.3h0.9v0.9h-0.9zM258.3 266.7h1.0v1.0h-1.0zM231.7 257.2h1.2v1.2h-1.2zM232.3 259.2h1.0v1.0h-1.0zM247.9 270.7h0.9v0.9h-0.9zM254.6 269.0h1.2v1.2h-1.2zM234.4 266.5h0.9v0.9h-0.9zM237.4 270.5h1.0v1.0h-1.0zM221.0 257.2h0.9v0.9h-0.9zM243.3 262.1h0.9v0.9h-0.9zM239.5 269.9h0.9v0.9h-0.9zM242.6 256.6h1.2v1.2h-1.2zM230.7 268.3h1.2v1.2h-1.2zM224.9 256.3h0.8v0.8h-0.8zM245.6 267.7h0.9v0.9h-0.9zM258.8 265.8h1.0v1.0h-1.0zM240.1 270.6h1.1v1.1h-1.1zM244.0 261.3h0.9v0.9h-0.9zM235.1 271.4h1.1v1.1h-1.1zM231.8 262.9h1.1v1.1h-1.1zM240.2 267.1h0.9v0.9h-0.9zM225.1 260.6h0.9v0.9h-0.9zM246.3 267.6h1.2v1.2h-1.2zM232.2 257.6h1.0v1.0h-1.0zM248.7 268.8h0.9v0.9h-0.9zM235.2 267.1h1.1v1.1h-1.1zM231.6 264.6h1.0v1.0h-1.0zM244.9 259.2h1.2v1.2h-1.2zM239.4 265.2h1.0v1.0h-1.0zM239.9 263.3h1.0v1.0h-1.0zM243.4 264.4h1.1v1.1h-1.1zM214.0 257.8h0.9v0.9h-0.9zM236.6 259.4h0.9v0.9h-0.9zM227.1 271.5h1.1v1.1h-1.1zM248.7 264.5h1.1v1.1h-1.1zM256.1 269.5h0.9v0.9h-0.9zM227.8 264.7h1.0v1.0h-1.0zM232.5 263.3h1.2v1.2h-1.2zM232.8 263.6h1.1v1.1h-1.1zM249.5 266.8h1.0v1.0h-1.0zM256.0 263.2h1.0v1.0h-1.0zM223.8 267.1h1.0v1.0h-1.0zM233.6 256.2h1.2v1.2h-1.2zM255.6 269.7h1.0v1.0h-1.0zM249.5 257.2h0.9v0.9h-0.9zM227.5 264.2h0.9v0.9h-0.9zM233.3 265.0h0.8v0.8h-0.8zM256.8 256.8h1.1v1.1h-1.1zM260.1 257.1h1.2v1.2h-1.2zM225.9 261.4h0.9v0.9h-0.9zM242.9 257.5h1.1v1.1h-1.1zM239.9 263.4h1.0v1.0h-1.0zM227.8 262.3h0.9v0.9h-0.9zM260.6 263.4h1.0v1.0h-1.0zM253.9 269.5h0.9v0.9h-0.9zM234.3 268.5h0.9v0.9h-0.9zM233.7 264.1h1.2v1.2h-1.2zM249.9 269.7h1.1v1.1h-1.1zM231.6 264.1h1.1v1.1h-1.1zM231.4 269.5h1.0v1.0h-1.0zM238.3 265.4h0.8v0.8h-0.8zM227.9 263.8h1.0v1.0h-1.0zM224.0 256.1h1.0v1.0h-1.0zM239.1 262.8h1.0v1.0h-1.0zM234.1 266.8h1.0v1.0h-1.0zM239.4 262.4h1.1v1.1h-1.1zM235.1 267.7h1.0v1.0h-1.0zM246.1 259.2h1.0v1.0h-1.0zM252.2 260.4h1.1v1.1h-1.1zM257.3 257.2h0.9v0.9h-0.9zM242.5 272.3h1.1v1.1h-1.1zM250.0 263.7h1.0v1.0h-1.0zM245.9 258.2h1.1v1.1h-1.1zM231.9 261.1h1.0v1.0h-1.0zM232.4 264.0h1.0v1.0h-1.0zM247.6 265.0h1.0v1.0h-1.0zM224.1 266.5h0.9v0.9h-0.9zM228.2 257.4h1.0v1.0h-1.0zM245.8 258.8h1.2v1.2h-1.2zM243.0 272.4h0.9v0.9h-0.9zM249.9 264.9h1.2v1.2h-1.2zM241.7 266.0h1.0v1.0h-1.0zM252.2 266.5h1.0v1.0h-1.0zM247.6 261.8h1.1v1.1h-1.1zM234.7 267.1h1.0v1.0h-1.0zM252.0 256.5h1.0v1.0h-1.0zM234.9 262.7h1.2v1.2h-1.2zM246.7 270.3h1.0v1.0h-1.0zM250.1 259.1h1.0v1.0h-1.0zM256.1 258.6h1.2v1.2h-1.2zM253.5 265.7h0.9v0.9h-0.9zM242.9 270.1h0.9v0.9h-0.9zM251.5 263.0h1.0v1.0h-1.0zM225.6 265.5h1.2v1.2h-1.2zM239.4 265.5h0.8v0.8h-0.8zM246.4 262.1h0.9v0.9h-0.9zM221.8 262.0h0.9v0.9h-0.9zM247.3 263.7h1.0v1.0h-1.0zM230.0 270.3h1.1v1.1h-1.1zM236.2 264.5h1.2v1.2h-1.2zM242.8 260.2h0.9v0.9h-0.9zM222.8 260.1h1.0v1.0h-1.0zM238.6 269.7h0.9v0.9h-0.9zM229.0 265.7h1.0v1.0h-1.0zM232.4 257.9h1.1v1.1h-1.1zM250.4 269.1h0.9v0.9h-0.9zM242.6 259.6h1.0v1.0h-1.0zM225.0 262.3h1.2v1.2h-1.2zM229.0 256.9h0.9v0.9h-0.9zM227.6 267.6h1.2v1.2h-1.2zM229.8 259.8h0.9v0.9h-0.9zM235.6 256.5h1.0v1.0h-1.0zM248.2 271.0h1.1v1.1h-1.1zM232.2 270.8h1.2v1.2h-1.2zM233.3 269.2h0.9v0.9h-0.9zM238.4 264.4h1.0v1.0h-1.0zM232.8 261.4h0.9v0.9h-0.9zM237.5 266.6h1.2v1.2h-1.2zM258.7 266.2h1.0v1.0h-1.0zM241.5 270.1h1.2v1.2h-1.2zM249.5 269.4h1.0v1.0h-1.0zM229.2 257.7h1.1v1.1h-1.1zM228.4 268.8h1.1v1.1h-1.1zM235.1 264.7h1.1v1.1h-1.1zM220.2 258.7h1.0v1.0h-1.0zM232.9 266.9h0.9v0.9h-0.9zM229.1 258.7h1.0v1.0h-1.0zM242.4 267.7h1.0v1.0h-1.0zM235.8 271.7h1.0v1.0h-1.0zM240.7 269.8h1.0v1.0h-1.0zM244.9 260.0h1.2v1.2h-1.2zM236.4 272.1h1.1v1.1h-1.1zM244.0 267.4h1.0v1.0h-1.0zM231.5 258.8h1.0v1.0h-1.0zM253.0 269.4h0.9v0.9h-0.9zM253.9 270.9h0.9v0.9h-0.9zM231.4 269.9h1.0v1.0h-1.0zM237.9 264.1h0.9v0.9h-0.9zM241.8 265.1h1.1v1.1h-1.1zM240.3 269.4h0.8v0.8h-0.8zM250.6 260.1h1.0v1.0h-1.0zM258.8 267.2h0.9v0.9h-0.9zM234.7 259.8h0.9v0.9h-0.9zM225.6 261.1h1.0v1.0h-1.0zM248.4 259.1h1.0v1.0h-1.0zM219.4 256.6h1.1v1.1h-1.1zM252.8 258.9h1.1v1.1h-1.1zM243.1 266.2h1.0v1.0h-1.0zM240.8 271.2h1.1v1.1h-1.1zM254.9 267.4h1.1v1.1h-1.1zM244.1 262.5h1.1v1.1h-1.1zM239.9 269.0h0.9v0.9h-0.9zM236.3 270.7h1.1v1.1h-1.1zM236.4 264.7h1.0v1.0h-1.0zM246.4 267.5h1.0v1.0h-1.0zM244.0 267.6h1.2v1.2h-1.2zM243.6 260.4h0.9v0.9h-0.9zM233.0 260.2h1.2v1.2h-1.2zM228.2 268.2h1.0v1.0h-1.0zM238.9 270.5h1.1v1.1h-1.1zM236.5 271.1h1.0v1.0h-1.0zM230.7 271.7h0.8v0.8h-0.8zM241.8 262.7h0.9v0.9h-0.9zM245.6 271.1h1.0v1.0h-1.0zM245.7 272.2h1.2v1.2h-1.2zM242.4 263.4h1.2v1.2h-1.2zM235.6 270.8h0.9v0.9h-0.9zM246.1 258.9h1.0v1.0h-1.0zM245.5 257.3h0.9v0.9h-0.9zM252.9 258.8h1.1v1.1h-1.1zM242.9 268.1h1.0v1.0h-1.0zM245.5 267.1h1.2v1.2h-1.2zM240.0 266.5h1.2v1.2h-1.2zM242.7 258.2h1.2v1.2h-1.2zM228.1 268.0h1.1v1.1h-1.1zM239.5 265.7h0.9v0.9h-0.9zM215.1 259.8h1.0v1.0h-1.0zM230.7 261.1h0.8v0.8h-0.8zM250.5 266.2h1.0v1.0h-1.0zM256.4 263.2h1.0v1.0h-1.0zM245.5 259.1h1.2v1.2h-1.2zM230.8 268.3h1.0v1.0h-1.0zM231.4 271.4h1.0v1.0h-1.0zM236.2 256.3h1.2v1.2h-1.2zM257.8 261.1h1.2v1.2h-1.2zM219.6 259.5h1.1v1.1h-1.1zM243.6 265.2h1.1v1.1h-1.1zM227.4 267.1h1.2v1.2h-1.2zM246.3 265.9h0.9v0.9h-0.9zM241.0 268.5h1.1v1.1h-1.1zM250.6 266.7h0.9v0.9h-0.9zM233.7 257.9h1.1v1.1h-1.1zM224.7 269.5h1.1v1.1h-1.1zM227.0 264.7h1.1v1.1h-1.1zM237.9 266.0h1.1v1.1h-1.1zM227.1 266.1h0.9v0.9h-0.9zM258.4 259.7h1.1v1.1h-1.1zM232.4 256.0h1.1v1.1h-1.1zM224.7 268.5h1.2v1.2h-1.2zM251.2 260.1h0.9v0.9h-0.9zM239.4 269.0h0.8v0.8h-0.8zM243.3 269.6h1.0v1.0h-1.0zM242.6 263.3h1.2v1.2h-1.2zM250.0 257.4h1.2v1.2h-1.2zM231.7 260.2h1.1v1.1h-1.1zM254.3 269.6h1.0v1.0h-1.0zM241.8 272.0h1.1v1.1h-1.1zM215.6 258.3h1.2v1.2h-1.2zM257.2 266.3h0.9v0.9h-0.9zM225.0 258.6h1.1v1.1h-1.1zM238.4 262.4h0.9v0.9h-0.9zM241.2 269.3h1.1v1.1h-1.1zM243.9 264.2h1.1v1.1h-1.1zM243.8 256.9h0.8v0.8h-0.8zM243.0 258.3h1.2v1.2h-1.2zM235.0 270.0h1.2v1.2h-1.2zM235.5 270.3h1.2v1.2h-1.2zM230.8 258.2h1.1v1.1h-1.1zM231.9 257.9h1.1v1.1h-1.1zM235.8 270.3h1.0v1.0h-1.0zM227.1 267.0h0.8v0.8h-0.8zM242.6 268.2h0.8v0.8h-0.8zM232.4 270.5h1.1v1.1h-1.1zM241.0 269.8h1.1v1.1h-1.1zM247.7 256.6h1.2v1.2h-1.2zM252.4 258.1h1.1v1.1h-1.1zM242.6 263.2h1.0v1.0h-1.0zM243.4 257.0h1.1v1.1h-1.1zM222.4 259.3h1.1v1.1h-1.1zM225.7 263.4h1.0v1.0h-1.0zM239.1 269.2h1.0v1.0h-1.0zM228.5 268.9h0.9v0.9h-0.9zM239.1 271.3h0.8v0.8h-0.8zM232.3 263.8h1.0v1.0h-1.0zM232.0 271.7h1.0v1.0h-1.0zM245.7 257.1h1.0v1.0h-1.0zM255.0 262.7h0.9v0.9h-0.9zM245.5 267.3h1.1v1.1h-1.1zM228.1 258.4h0.9v0.9h-0.9zM218.7 263.0h0.8v0.8h-0.8zM237.8 269.2h1.1v1.1h-1.1zM237.8 264.6h1.2v1.2h-1.2zM249.7 269.8h1.1v1.1h-1.1zM226.6 259.2h1.2v1.2h-1.2zM236.8 270.8h0.9v0.9h-0.9zM259.8 256.9h0.9v0.9h-0.9zM235.2 260.5h1.1v1.1h-1.1zM227.4 271.2h1.0v1.0h-1.0zM231.5 262.8h1.0v1.0h-1.0zM226.5 265.1h0.8v0.8h-0.8zM240.3 266.8h1.2v1.2h-1.2zM252.9 267.3h0.9v0.9h-0.9zM235.1 270.6h1.1v1.1h-1.1zM224.4 263.2h1.1v1.1h-1.1zM249.7 262.2h1.1v1.1h-1.1zM231.8 261.2h1.1v1.1h-1.1zM254.2 267.0h1.1v1.1h-1.1zM228.9 264.4h1.2v1.2h-1.2zM238.3 272.3h1.0v1.0h-1.0zM230.3 256.1h0.9v0.9h-0.9zM254.3 270.1h0.9v0.9h-0.9zM242.3 265.0h0.9v0.9h-0.9zM242.6 267.7h0.9v0.9h-0.9zM247.2 270.4h0.9v0.9h-0.9zM254.5 267.7h1.2v1.2h-1.2zM225.7 259.3h1.0v1.0h-1.0zM239.9 263.8h0.9v0.9h-0.9zM240.2 268.7h1.2v1.2h-1.2zM236.2 263.9h1.0v1.0h-1.0zM261.0 263.5h0.9v0.9h-0.9zM228.2 265.9h0.9v0.9h-0.9zM244.7 268.2h1.2v1.2h-1.2zM223.8 262.6h0.9v0.9h-0.9zM226.7 260.2h1.2v1.2h-1.2zM224.6 266.3h1.0v1.0h-1.0zM244.5 263.3h1.0v1.0h-1.0zM243.7 258.1h0.9v0.9h-0.9zM247.0 258.5h0.9v0.9h-0.9zM246.2 256.0h1.0v1.0h-1.0zM244.6 272.2h1.2v1.2h-1.2zM239.2 264.6h0.9v0.9h-0.9zM232.4 267.5h1.2v1.2h-1.2zM253.0 257.9h1.2v1.2h-1.2zM247.1 261.7h0.9v0.9h-0.9zM241.4 270.0h1.0v1.0h-1.0zM241.4 268.8h1.2v1.2h-1.2zM238.7 267.1h0.9v0.9h-0.9zM245.5 270.5h1.1v1.1h-1.1zM242.6 271.2h1.0v1.0h-1.0zM217.4 262.0h1.2v1.2h-1.2zM240.5 265.0h0.9v0.9h-0.9zM236.4 271.9h1.0v1.0h-1.0zM232.9 264.0h1.0v1.0h-1.0zM255.1 263.2h1.1v1.1h-1.1zM240.8 260.8h1.2v1.2h-1.2zM237.8 267.2h1.2v1.2h-1.2zM230.0 266.9h1.0v1.0h-1.0zM217.5 259.1h1.2v1.2h-1.2zM239.5 270.4h0.9v0.9h-0.9zM226.1 258.6h1.2v1.2h-1.2zM242.5 268.1h1.1v1.1h-1.1zM241.5 268.8h1.2v1.2h-1.2zM256.4 263.2h1.1v1.1h-1.1zM240.0 270.5h1.1v1.1h-1.1zM240.3 268.8h1.1v1.1h-1.1zM249.7 261.9h1.0v1.0h-1.0zM231.3 263.0h0.9v0.9h-0.9zM248.9 265.4h1.1v1.1h-1.1zM228.5 270.3h1.2v1.2h-1.2zM241.4 266.2h1.1v1.1h-1.1zM237.0 259.8h1.0v1.0h-1.0zM246.6 259.0h1.2v1.2h-1.2zM237.8 261.1h1.2v1.2h-1.2zM237.7 270.8h0.9v0.9h-0.9zM247.4 264.6h1.0v1.0h-1.0zM234.1 266.6h1.2v1.2h-1.2zM236.1 259.6h1.1v1.1h-1.1zM229.6 261.8h1.0v1.0h-1.0zM232.6 267.6h1.0v1.0h-1.0zM238.9 270.5h1.1v1.1h-1.1zM245.8 268.7h1.0v1.0h-1.0zM237.7 260.8h0.9v0.9h-0.9zM226.8 265.7h1.2v1.2h-1.2zM254.9 266.0h0.9v0.9h-0.9zM248.8 268.3h1.0v1.0h-1.0zM243.3 259.4h1.0v1.0h-1.0zM249.7 269.8h1.2v1.2h-1.2zM248.5 267.0h1.1v1.1h-1.1zM241.7 267.9h1.1v1.1h-1.1zM236.5 257.7h1.1v1.1h-1.1zM226.6 265.0h1.2v1.2h-1.2zM237.7 266.3h1.2v1.2h-1.2zM250.7 259.1h1.1v1.1h-1.1zM244.3 266.7h0.9v0.9h-0.9zM245.4 260.2h0.9v0.9h-0.9zM228.3 271.2h1.2v1.2h-1.2zM243.4 263.9h0.9v0.9h-0.9zM242.4 262.2h1.0v1.0h-1.0zM225.4 262.7h1.2v1.2h-1.2zM245.1 258.4h0.9v0.9h-0.9zM233.8 256.1h0.9v0.9h-0.9zM229.5 268.0h0.9v0.9h-0.9zM248.0 266.4h0.9v0.9h-0.9zM229.9 258.3h1.2v1.2h-1.2zM235.1 271.8h1.1v1.1h-1.1zM233.8 265.6h1.0v1.0h-1.0zM248.0 269.7h1.2v1.2h-1.2zM244.7 271.9h1.0v1.0h-1.0zM250.0 267.9h0.9v0.9h-0.9zM242.0 268.9h1.1v1.1h-1.1zM235.6 257.1h1.0v1.0h-1.0zM252.6 271.1h1.0v1.0h-1.0zM241.9 271.7h1.1v1.1h-1.1zM237.4 258.9h1.1v1.1h-1.1zM243.6 261.9h1.0v1.0h-1.0zM228.8 258.9h0.9v0.9h-0.9zM233.9 271.2h1.2v1.2h-1.2zM243.2 266.4h1.1v1.1h-1.1zM241.0 271.1h0.9v0.9h-0.9zM261.5 264.0h1.2v1.2h-1.2zM241.8 268.7h1.1v1.1h-1.1zM232.9 257.6h1.0v1.0h-1.0zM243.0 256.5h1.0v1.0h-1.0zM235.0 266.9h1.1v1.1h-1.1zM237.7 266.5h1.1v1.1h-1.1zM227.6 261.7h0.9v0.9h-0.9zM242.2 257.6h1.2v1.2h-1.2zM244.4 268.4h1.0v1.0h-1.0zM239.9 271.8h1.0v1.0h-1.0zM251.6 263.1h1.1v1.1h-1.1zM235.2 257.8h1.2v1.2h-1.2zM237.1 258.0h0.9v0.9h-0.9zM218.6 256.4h1.1v1.1h-1.1zM224.7 266.3h1.0v1.0h-1.0zM239.7 264.8h1.0v1.0h-1.0zM223.5 262.6h0.9v0.9h-0.9zM256.7 263.9h0.9v0.9h-0.9zM245.5 271.2h1.1v1.1h-1.1zM231.0 267.0h1.1v1.1h-1.1zM230.1 270.1h1.2v1.2h-1.2zM249.4 265.3h0.9v0.9h-0.9zM223.2 257.8h0.9v0.9h-0.9zM227.6 265.2h0.9v0.9h-0.9zM240.2 267.8h1.0v1.0h-1.0zM236.7 270.9h0.9v0.9h-0.9zM249.4 264.8h1.2v1.2h-1.2zM216.0 257.2h1.1v1.1h-1.1zM242.1 269.7h1.1v1.1h-1.1zM235.4 266.7h1.0v1.0h-1.0zM233.5 258.0h0.9v0.9h-0.9zM246.3 259.9h1.1v1.1h-1.1zM236.4 269.1h1.1v1.1h-1.1zM242.7 262.0h1.2v1.2h-1.2zM239.6 264.4h1.0v1.0h-1.0zM241.2 268.0h1.0v1.0h-1.0zM239.1 270.1h1.1v1.1h-1.1zM237.5 270.9h0.9v0.9h-0.9zM234.6 267.7h1.2v1.2h-1.2zM222.1 262.8h1.2v1.2h-1.2zM240.2 265.0h1.1v1.1h-1.1zM244.4 259.9h0.9v0.9h-0.9zM253.2 266.9h0.9v0.9h-0.9zM254.4 269.3h1.2v1.2h-1.2zM243.0 257.6h1.1v1.1h-1.1zM248.7 266.0h1.2v1.2h-1.2zM255.6 258.0h1.0v1.0h-1.0zM251.7 270.5h1.2v1.2h-1.2zM242.8 269.0h1.2v1.2h-1.2zM239.1 270.3h1.0v1.0h-1.0zM246.4 261.7h1.1v1.1h-1.1zM253.4 261.3h1.2v1.2h-1.2zM250.9 266.5h0.9v0.9h-0.9zM228.9 263.1h1.2v1.2h-1.2zM255.4 270.2h1.0v1.0h-1.0zM244.7 266.3h1.1v1.1h-1.1zM239.4 269.4h0.9v0.9h-0.9zM251.7 268.2h0.9v0.9h-0.9zM224.6 260.7h1.0v1.0h-1.0zM230.3 261.8h0.9v0.9h-0.9zM255.3 268.3h0.9v0.9h-0.9zM230.7 257.9h1.1v1.1h-1.1zM242.4 267.3h1.0v1.0h-1.0zM251.2 269.6h1.2v1.2h-1.2zM236.7 264.6h0.8v0.8h-0.8zM229.0 259.5h0.9v0.9h-0.9zM218.4 264.0h1.1v1.1h-1.1zM232.0 257.1h1.2v1.2h-1.2zM249.0 271.5h1.1v1.1h-1.1zM216.2 258.0h1.1v1.1h-1.1zM231.2 264.5h1.1v1.1h-1.1zM230.2 256.4h0.9v0.9h-0.9zM246.3 261.7h1.1v1.1h-1.1zM255.6 260.2h1.1v1.1h-1.1zM234.6 267.9h0.9v0.9h-0.9zM219.7 260.6h1.1v1.1h-1.1zM233.7 266.7h1.1v1.1h-1.1zM245.0 268.4h1.1v1.1h-1.1zM233.5 256.3h1.1v1.1h-1.1zM234.8 256.5h1.1v1.1h-1.1zM254.1 267.7h0.9v0.9h-0.9zM256.6 265.5h0.9v0.9h-0.9zM248.5 258.3h0.9v0.9h-0.9zM239.5 272.1h1.0v1.0h-1.0zM233.7 256.4h1.2v1.2h-1.2zM243.2 269.9h1.0v1.0h-1.0zM232.0 271.1h0.9v0.9h-0.9zM247.7 268.8h0.9v0.9h-0.9zM245.9 265.7h1.2v1.2h-1.2zM228.5 270.2h1.1v1.1h-1.1zM226.7 263.5h1.1v1.1h-1.1zM239.7 263.5h1.1v1.1h-1.1zM231.9 262.7h0.9v0.9h-0.9zM240.3 267.0h1.0v1.0h-1.0zM242.8 269.0h0.9v0.9h-0.9zM251.3 261.7h1.0v1.0h-1.0zM245.3 271.1h1.0v1.0h-1.0zM255.9 260.7h1.1v1.1h-1.1zM219.2 256.5h1.1v1.1h-1.1zM245.4 267.5h0.9v0.9h-0.9zM248.2 264.4h1.0v1.0h-1.0zM229.5 267.6h0.9v0.9h-0.9zM221.0 262.2h1.2v1.2h-1.2zM233.4 263.7h0.9v0.9h-0.9zM251.2 259.7h1.2v1.2h-1.2zM248.5 264.9h1.2v1.2h-1.2zM252.0 260.4h1.2v1.2h-1.2zM227.6 261.1h1.1v1.1h-1.1zM256.5 266.5h0.9v0.9h-0.9zM225.1 268.2h0.9v0.9h-0.9zM228.5 261.7h1.2v1.2h-1.2zM242.8 271.5h1.2v1.2h-1.2zM230.9 272.3h1.1v1.1h-1.1zM234.7 265.9h1.1v1.1h-1.1zM246.0 271.9h1.2v1.2h-1.2zM245.4 267.6h1.0v1.0h-1.0zM244.4 269.5h1.2v1.2h-1.2zM244.8 264.4h0.9v0.9h-0.9zM258.4 267.7h1.0v1.0h-1.0zM243.1 261.0h1.1v1.1h-1.1zM238.2 266.3h1.1v1.1h-1.1zM242.8 259.8h1.2v1.2h-1.2zM220.1 256.1h0.9v0.9h-0.9zM234.5 261.7h1.1v1.1h-1.1zM239.2 269.2h0.9v0.9h-0.9zM233.2 260.8h1.0v1.0h-1.0zM235.2 269.8h1.1v1.1h-1.1zM242.4 262.2h1.2v1.2h-1.2zM247.2 256.8h1.2v1.2h-1.2zM237.2 270.0h0.8v0.8h-0.8zM255.6 260.3h1.1v1.1h-1.1zM239.0 265.6h1.2v1.2h-1.2zM230.6 272.0h0.9v0.9h-0.9zM253.1 265.3h0.9v0.9h-0.9zM222.9 267.7h1.2v1.2h-1.2zM245.4 259.7h1.0v1.0h-1.0zM237.6 264.9h1.0v1.0h-1.0zM235.3 269.1h0.8v0.8h-0.8zM253.1 256.2h1.0v1.0h-1.0zM248.3 266.8h1.2v1.2h-1.2zM237.0 269.7h1.1v1.1h-1.1zM235.3 272.2h1.2v1.2h-1.2zM237.4 259.3h1.1v1.1h-1.1zM229.0 267.7h1.1v1.1h-1.1zM248.6 269.8h0.9v0.9h-0.9zM247.6 267.0h0.9v0.9h-0.9zM235.5 265.7h1.1v1.1h-1.1zM242.7 261.9h1.0v1.0h-1.0zM225.3 264.5h1.0v1.0h-1.0zM246.5 261.2h0.9v0.9h-0.9zM230.7 270.6h1.2v1.2h-1.2zM252.3 271.2h0.9v0.9h-0.9zM232.6 259.8h1.2v1.2h-1.2zM240.6 264.8h0.9v0.9h-0.9zM262.7 262.9h0.9v0.9h-0.9zM224.7 257.1h0.9v0.9h-0.9zM250.8 257.4h0.9v0.9h-0.9zM219.5 265.8h1.1v1.1h-1.1zM261.2 263.4h1.2v1.2h-1.2zM223.6 263.4h0.9v0.9h-0.9zM244.6 272.3h1.2v1.2h-1.2zM260.3 257.9h1.0v1.0h-1.0zM249.8 271.6h0.9v0.9h-0.9zM249.1 268.4h1.0v1.0h-1.0zM223.3 258.5h1.2v1.2h-1.2zM239.1 271.3h1.1v1.1h-1.1zM237.1 257.1h1.1v1.1h-1.1zM229.6 271.2h1.1v1.1h-1.1zM228.5 267.0h1.0v1.0h-1.0zM255.6 268.5h1.1v1.1h-1.1zM223.0 268.6h0.9v0.9h-0.9zM242.2 264.3h1.0v1.0h-1.0zM249.6 262.3h1.2v1.2h-1.2zM242.6 260.2h1.2v1.2h-1.2zM231.5 261.7h1.2v1.2h-1.2zM226.4 258.1h0.9v0.9h-0.9zM250.0 269.0h1.0v1.0h-1.0zM236.2 267.9h0.9v0.9h-0.9zM266.2 255.9h1.1v1.1h-1.1zM249.7 255.9h1.1v1.1h-1.1zM238.8 272.3h0.9v0.9h-0.9zM247.4 257.4h1.0v1.0h-1.0zM242.1 261.4h1.1v1.1h-1.1zM222.8 258.5h1.0v1.0h-1.0zM246.6 256.6h0.9v0.9h-0.9zM246.7 262.3h1.1v1.1h-1.1zM249.3 261.5h1.2v1.2h-1.2zM236.0 269.6h1.0v1.0h-1.0zM238.4 263.8h1.2v1.2h-1.2zM238.9 267.9h1.1v1.1h-1.1zM246.0 269.1h0.9v0.9h-0.9zM224.5 260.9h0.9v0.9h-0.9zM241.4 265.3h1.1v1.1h-1.1zM265.7 256.8h1.0v1.0h-1.0zM236.5 267.3h0.9v0.9h-0.9zM238.3 266.7h1.2v1.2h-1.2zM243.0 270.2h0.9v0.9h-0.9zM232.5 266.4h1.1v1.1h-1.1zM224.7 257.0h1.0v1.0h-1.0zM245.3 272.0h1.2v1.2h-1.2zM242.8 262.4h1.0v1.0h-1.0zM220.4 265.2h1.2v1.2h-1.2zM248.0 262.2h0.9v0.9h-0.9zM227.5 270.6h1.2v1.2h-1.2zM250.7 269.4h0.9v0.9h-0.9zM230.2 258.7h0.9v0.9h-0.9zM249.1 270.6h1.2v1.2h-1.2zM237.7 267.9h1.0v1.0h-1.0zM245.7 268.5h1.0v1.0h-1.0zM244.8 269.5h0.9v0.9h-0.9zM238.0 264.2h1.0v1.0h-1.0zM249.5 271.8h1.1v1.1h-1.1zM236.2 266.1h0.9v0.9h-0.9zM233.7 261.3h0.9v0.9h-0.9zM231.5 269.3h1.0v1.0h-1.0zM232.2 271.7h1.0v1.0h-1.0zM263.0 262.2h0.9v0.9h-0.9zM244.3 263.8h1.2v1.2h-1.2zM220.7 256.6h1.0v1.0h-1.0zM235.2 270.1h1.2v1.2h-1.2zM238.9 261.8h1.0v1.0h-1.0zM243.9 271.6h1.0v1.0h-1.0zM242.8 267.6h0.9v0.9h-0.9zM246.1 265.3h0.9v0.9h-0.9zM254.4 270.7h1.0v1.0h-1.0zM240.9 266.7h0.9v0.9h-0.9zM253.4 269.6h1.2v1.2h-1.2zM239.9 265.5h1.2v1.2h-1.2zM225.3 268.1h1.1v1.1h-1.1zM255.9 269.2h0.9v0.9h-0.9zM229.4 269.8h1.1v1.1h-1.1zM242.3 258.7h1.0v1.0h-1.0zM240.6 270.3h1.0v1.0h-1.0zM241.3 260.5h1.0v1.0h-1.0zM226.0 258.8h0.9v0.9h-0.9zM240.6 267.9h0.9v0.9h-0.9zM231.3 267.5h1.1v1.1h-1.1zM237.8 267.9h0.9v0.9h-0.9zM240.0 270.4h1.0v1.0h-1.0zM240.1 265.8h0.9v0.9h-0.9zM240.3 271.3h0.9v0.9h-0.9zM244.9 263.5h1.2v1.2h-1.2zM233.0 263.5h1.0v1.0h-1.0zM237.3 259.2h1.1v1.1h-1.1zM223.9 256.8h1.0v1.0h-1.0zM220.7 257.0h0.9v0.9h-0.9zM231.6 256.4h1.2v1.2h-1.2zM238.9 266.8h1.2v1.2h-1.2zM245.0 271.0h0.9v0.9h-0.9zM253.5 262.9h1.2v1.2h-1.2zM219.2 265.1h1.2v1.2h-1.2zM255.1 268.4h1.1v1.1h-1.1zM239.6 267.6h1.1v1.1h-1.1zM232.5 260.7h1.1v1.1h-1.1zM254.6 270.7h1.0v1.0h-1.0zM242.5 262.1h1.1v1.1h-1.1zM250.6 269.2h1.0v1.0h-1.0zM262.7 261.7h1.0v1.0h-1.0zM219.1 258.7h1.0v1.0h-1.0zM245.1 260.3h0.9v0.9h-0.9zM238.8 272.2h0.9v0.9h-0.9zM233.1 266.4h0.9v0.9h-0.9zM260.6 262.5h1.1v1.1h-1.1zM228.1 269.8h1.0v1.0h-1.0zM224.9 265.8h1.2v1.2h-1.2zM241.5 261.7h1.1v1.1h-1.1zM250.2 269.7h1.1v1.1h-1.1zM228.1 268.6h1.2v1.2h-1.2zM255.6 262.5h0.9v0.9h-0.9zM228.3 264.1h1.1v1.1h-1.1zM239.3 270.9h1.1v1.1h-1.1zM236.2 269.4h0.9v0.9h-0.9zM232.6 270.9h1.2v1.2h-1.2zM234.3 264.6h1.0v1.0h-1.0zM238.9 267.4h0.9v0.9h-0.9zM235.9 271.3h1.1v1.1h-1.1zM241.2 269.6h1.2v1.2h-1.2zM238.6 270.5h1.2v1.2h-1.2zM249.0 271.9h0.9v0.9h-0.9zM243.3 269.3h1.2v1.2h-1.2zM249.1 271.3h1.1v1.1h-1.1zM245.6 259.8h0.9v0.9h-0.9zM225.2 261.5h1.1v1.1h-1.1zM244.1 271.1h1.1v1.1h-1.1zM234.9 268.9h1.0v1.0h-1.0zM224.2 260.4h0.9v0.9h-0.9zM236.5 262.5h1.1v1.1h-1.1zM223.7 266.1h1.1v1.1h-1.1zM225.7 269.3h0.9v0.9h-0.9zM242.3 258.1h1.2v1.2h-1.2zM221.3 264.6h1.1v1.1h-1.1zM227.0 271.1h1.0v1.0h-1.0zM235.1 257.1h1.2v1.2h-1.2zM233.4 264.8h1.0v1.0h-1.0zM238.3 263.5h1.1v1.1h-1.1zM239.1 268.6h1.0v1.0h-1.0zM235.3 262.1h0.9v0.9h-0.9zM244.6 260.2h1.0v1.0h-1.0zM229.4 257.2h1.2v1.2h-1.2zM236.5 262.6h1.0v1.0h-1.0zM236.6 256.2h1.2v1.2h-1.2zM247.7 268.3h0.9v0.9h-0.9zM248.0 260.2h1.0v1.0h-1.0zM231.4 256.7h0.9v0.9h-0.9zM234.8 260.3h0.9v0.9h-0.9zM236.8 264.5h1.2v1.2h-1.2zM237.5 270.4h1.1v1.1h-1.1zM231.7 269.0h1.2v1.2h-1.2zM235.7 268.8h1.1v1.1h-1.1zM223.0 256.5h1.1v1.1h-1.1zM226.2 264.9h1.1v1.1h-1.1zM239.4 262.3h0.9v0.9h-0.9zM245.2 267.7h0.9v0.9h-0.9zM240.2 271.2h1.2v1.2h-1.2zM228.6 269.9h1.1v1.1h-1.1zM236.3 259.1h1.2v1.2h-1.2zM245.2 272.2h1.1v1.1h-1.1zM256.6 265.5h1.2v1.2h-1.2zM253.2 268.1h1.0v1.0h-1.0zM233.4 271.1h0.9v0.9h-0.9zM246.5 266.4h1.1v1.1h-1.1zM227.1 257.3h1.2v1.2h-1.2zM250.7 260.8h1.1v1.1h-1.1zM242.8 267.1h1.2v1.2h-1.2zM232.9 264.3h1.0v1.0h-1.0zM243.8 258.7h1.2v1.2h-1.2zM231.5 257.0h1.1v1.1h-1.1zM233.4 258.3h1.1v1.1h-1.1zM226.8 267.0h1.2v1.2h-1.2zM235.9 267.7h0.9v0.9h-0.9zM220.2 263.7h0.9v0.9h-0.9zM237.8 271.7h1.1v1.1h-1.1zM233.0 265.6h1.0v1.0h-1.0zM231.8 262.6h1.2v1.2h-1.2zM216.3 256.5h1.1v1.1h-1.1zM247.5 271.1h1.1v1.1h-1.1zM258.7 262.1h1.0v1.0h-1.0zM257.7 266.4h1.0v1.0h-1.0zM229.5 256.6h1.1v1.1h-1.1zM224.2 262.4h1.0v1.0h-1.0zM255.6 264.8h0.9v0.9h-0.9zM258.3 264.4h0.9v0.9h-0.9zM242.7 260.4h0.9v0.9h-0.9zM216.6 260.1h1.1v1.1h-1.1zM260.9 263.8h1.0v1.0h-1.0zM232.1 264.1h1.0v1.0h-1.0zM254.1 269.3h1.2v1.2h-1.2zM252.6 269.3h1.2v1.2h-1.2zM239.8 265.4h1.2v1.2h-1.2zM225.2 270.6h1.0v1.0h-1.0zM257.1 257.3h1.2v1.2h-1.2zM263.0 261.6h1.1v1.1h-1.1zM241.4 267.5h1.1v1.1h-1.1zM239.4 267.5h1.0v1.0h-1.0zM231.9 272.4h1.0v1.0h-1.0zM236.4 268.9h1.0v1.0h-1.0zM223.5 261.9h1.2v1.2h-1.2zM243.8 260.5h1.1v1.1h-1.1zM252.5 268.1h1.2v1.2h-1.2zM242.9 266.2h0.9v0.9h-0.9zM238.4 262.5h1.1v1.1h-1.1zM246.9 256.0h1.0v1.0h-1.0zM248.6 269.2h0.9v0.9h-0.9zM245.4 268.3h0.9v0.9h-0.9zM231.2 271.5h0.9v0.9h-0.9zM235.1 265.3h1.0v1.0h-1.0zM250.6 265.0h1.2v1.2h-1.2zM246.5 270.7h0.9v0.9h-0.9zM238.6 264.2h1.2v1.2h-1.2zM232.2 267.4h1.1v1.1h-1.1zM234.5 270.4h1.2v1.2h-1.2zM240.9 264.3h1.0v1.0h-1.0zM240.4 262.8h1.0v1.0h-1.0zM247.5 262.1h1.1v1.1h-1.1zM243.4 270.6h1.0v1.0h-1.0zM250.5 261.8h1.0v1.0h-1.0zM254.1 263.4h1.0v1.0h-1.0zM242.0 261.7h0.9v0.9h-0.9zM235.4 265.3h1.0v1.0h-1.0zM225.9 263.7h1.2v1.2h-1.2zM256.0 263.9h1.0v1.0h-1.0zM250.3 268.8h1.0v1.0h-1.0zM230.9 267.2h1.2v1.2h-1.2zM232.2 259.3h0.9v0.9h-0.9zM241.9 272.3h0.9v0.9h-0.9zM223.1 266.9h0.9v0.9h-0.9zM233.2 260.8h1.1v1.1h-1.1zM260.5 256.8h0.9v0.9h-0.9zM252.9 265.6h0.9v0.9h-0.9zM239.6 271.7h1.2v1.2h-1.2zM259.6 260.6h1.2v1.2h-1.2zM236.5 272.1h1.1v1.1h-1.1zM240.8 271.5h0.9v0.9h-0.9zM245.7 256.5h1.0v1.0h-1.0zM252.3 265.7h1.0v1.0h-1.0zM240.0 262.6h1.1v1.1h-1.1zM232.7 270.2h0.9v0.9h-0.9zM230.2 264.4h1.1v1.1h-1.1zM226.7 265.4h1.2v1.2h-1.2zM249.7 263.2h1.0v1.0h-1.0zM234.8 256.9h1.2v1.2h-1.2zM228.9 270.0h1.0v1.0h-1.0zM246.4 272.3h1.2v1.2h-1.2zM237.2 260.5h1.0v1.0h-1.0zM251.6 263.5h1.1v1.1h-1.1zM261.2 256.6h1.1v1.1h-1.1zM226.2 266.3h0.9v0.9h-0.9zM254.4 258.8h1.2v1.2h-1.2zM249.9 267.9h1.1v1.1h-1.1zM238.8 262.5h1.0v1.0h-1.0zM226.3 257.3h0.9v0.9h-0.9zM224.6 259.8h1.1v1.1h-1.1zM247.0 263.5h1.0v1.0h-1.0zM243.8 271.2h1.0v1.0h-1.0zM238.2 261.0h1.0v1.0h-1.0zM241.1 265.2h0.9v0.9h-0.9zM232.3 261.1h0.9v0.9h-0.9zM235.2 257.3h1.2v1.2h-1.2zM246.5 266.2h1.1v1.1h-1.1zM233.8 258.5h1.0v1.0h-1.0zM255.7 264.2h0.9v0.9h-0.9zM239.8 272.0h1.2v1.2h-1.2zM245.5 260.8h0.9v0.9h-0.9zM233.6 259.4h0.9v0.9h-0.9zM232.4 271.3h1.2v1.2h-1.2zM237.8 266.5h1.1v1.1h-1.1zM241.4 268.5h1.2v1.2h-1.2zM242.1 271.2h0.9v0.9h-0.9zM244.9 267.7h0.9v0.9h-0.9zM250.0 268.9h1.2v1.2h-1.2zM235.0 257.6h1.1v1.1h-1.1zM256.7 262.7h1.2v1.2h-1.2zM236.7 271.2h1.2v1.2h-1.2zM245.1 269.3h1.0v1.0h-1.0zM254.0 256.5h1.2v1.2h-1.2zM248.0 266.6h0.9v0.9h-0.9zM227.0 265.0h1.0v1.0h-1.0zM240.9 263.7h1.1v1.1h-1.1zM230.4 258.0h1.0v1.0h-1.0zM232.7 263.4h1.2v1.2h-1.2zM230.5 272.2h0.9v0.9h-0.9zM231.5 268.5h1.1v1.1h-1.1zM262.2 260.9h1.2v1.2h-1.2zM249.2 264.1h1.2v1.2h-1.2zM244.3 268.1h1.2v1.2h-1.2zM231.7 256.5h0.9v0.9h-0.9zM227.3 264.5h0.9v0.9h-0.9zM240.6 265.3h1.1v1.1h-1.1zM253.8 260.9h0.8v0.8h-0.8zM249.9 268.0h1.1v1.1h-1.1zM236.6 266.3h1.2v1.2h-1.2zM224.2 267.9h0.9v0.9h-0.9zM249.7 271.1h1.2v1.2h-1.2zM242.0 268.3h1.2v1.2h-1.2zM219.5 259.3h0.9v0.9h-0.9zM226.3 260.3h0.9v0.9h-0.9zM215.2 258.7h1.1v1.1h-1.1zM249.0 262.8h1.1v1.1h-1.1zM248.3 267.2h1.2v1.2h-1.2zM226.3 269.7h0.9v0.9h-0.9zM247.8 270.4h1.0v1.0h-1.0zM250.6 263.8h1.0v1.0h-1.0zM238.3 267.5h0.9v0.9h-0.9zM240.3 270.3h1.2v1.2h-1.2zM239.7 269.0h1.0v1.0h-1.0zM244.2 269.4h1.1v1.1h-1.1zM245.4 257.3h1.1v1.1h-1.1zM230.5 271.7h0.9v0.9h-0.9zM242.0 267.2h1.0v1.0h-1.0zM243.7 257.1h0.9v0.9h-0.9zM235.0 257.5h1.1v1.1h-1.1zM232.9 270.4h0.9v0.9h-0.9zM253.8 269.3h1.1v1.1h-1.1zM226.4 264.3h1.0v1.0h-1.0zM253.1 264.4h0.9v0.9h-0.9zM249.7 266.0h1.1v1.1h-1.1zM221.8 266.1h1.0v1.0h-1.0zM228.1 271.0h1.1v1.1h-1.1zM230.9 262.0h0.9v0.9h-0.9zM239.5 265.7h1.0v1.0h-1.0zM241.9 258.3h1.2v1.2h-1.2zM236.7 264.9h1.0v1.0h-1.0zM234.8 259.5h1.0v1.0h-1.0zM253.9 259.1h1.0v1.0h-1.0zM232.6 261.6h1.1v1.1h-1.1zM248.9 256.4h0.9v0.9h-0.9zM236.1 268.0h0.9v0.9h-0.9zM257.5 259.9h1.0v1.0h-1.0zM243.0 268.5h1.2v1.2h-1.2zM231.0 272.4h0.9v0.9h-0.9zM242.8 270.4h1.2v1.2h-1.2zM259.7 265.7h1.0v1.0h-1.0zM239.4 269.2h1.2v1.2h-1.2zM240.5 269.3h1.2v1.2h-1.2zM244.3 256.4h1.1v1.1h-1.1zM259.4 261.2h0.9v0.9h-0.9zM228.5 266.9h1.0v1.0h-1.0zM241.3 270.2h1.0v1.0h-1.0zM228.1 262.0h0.9v0.9h-0.9zM240.0 270.1h1.1v1.1h-1.1zM244.8 269.0h1.2v1.2h-1.2zM256.6 265.1h1.0v1.0h-1.0zM252.7 264.8h1.1v1.1h-1.1zM230.8 265.8h1.0v1.0h-1.0zM243.2 260.9h0.9v0.9h-0.9zM231.0 259.9h1.1v1.1h-1.1zM246.3 268.8h0.9v0.9h-0.9zM227.1 271.3h1.2v1.2h-1.2zM254.6 259.2h0.9v0.9h-0.9zM237.5 271.2h1.2v1.2h-1.2zM238.9 269.8h1.0v1.0h-1.0zM251.3 257.7h1.2v1.2h-1.2zM232.5 267.9h1.2v1.2h-1.2zM232.0 270.5h1.0v1.0h-1.0zM222.5 258.0h1.2v1.2h-1.2zM230.6 269.8h1.1v1.1h-1.1zM243.5 266.0h1.0v1.0h-1.0zM243.5 269.0h0.8v0.8h-0.8zM232.3 267.0h1.1v1.1h-1.1zM233.6 261.8h1.1v1.1h-1.1zM240.7 266.1h1.0v1.0h-1.0zM237.9 260.9h1.2v1.2h-1.2zM241.4 269.1h0.9v0.9h-0.9zM226.7 262.1h1.1v1.1h-1.1zM234.8 268.1h1.0v1.0h-1.0zM239.6 263.4h0.9v0.9h-0.9zM247.3 269.1h1.1v1.1h-1.1zM239.2 272.1h1.2v1.2h-1.2zM242.7 265.4h1.2v1.2h-1.2zM232.6 267.0h0.9v0.9h-0.9zM252.2 263.9h1.0v1.0h-1.0zM252.2 270.7h0.9v0.9h-0.9zM240.1 271.8h1.0v1.0h-1.0zM229.2 272.3h0.9v0.9h-0.9zM231.9 264.9h1.0v1.0h-1.0zM245.0 264.6h1.2v1.2h-1.2zM234.0 267.0h1.2v1.2h-1.2zM229.5 258.2h1.0v1.0h-1.0zM247.0 268.6h0.9v0.9h-0.9zM251.8 266.9h0.9v0.9h-0.9zM233.0 267.7h1.2v1.2h-1.2zM229.5 266.2h1.2v1.2h-1.2zM233.3 262.1h1.1v1.1h-1.1zM232.2 266.6h0.9v0.9h-0.9zM242.6 267.3h1.1v1.1h-1.1zM229.1 269.3h1.2v1.2h-1.2zM233.7 265.5h0.9v0.9h-0.9zM226.2 261.9h1.1v1.1h-1.1zM239.2 266.1h0.9v0.9h-0.9zM254.2 267.0h1.1v1.1h-1.1zM247.6 270.8h1.0v1.0h-1.0zM248.4 264.1h1.1v1.1h-1.1zM237.4 266.5h1.2v1.2h-1.2zM252.7 260.3h1.0v1.0h-1.0zM265.0 257.3h0.9v0.9h-0.9zM248.2 272.0h1.2v1.2h-1.2zM224.1 258.4h0.9v0.9h-0.9zM242.8 265.1h0.8v0.8h-0.8zM248.2 261.6h1.1v1.1h-1.1zM246.7 269.7h1.2v1.2h-1.2zM238.7 271.9h0.9v0.9h-0.9zM241.9 271.2h0.9v0.9h-0.9zM241.9 259.7h1.2v1.2h-1.2zM247.6 265.9h1.2v1.2h-1.2zM244.3 260.9h0.9v0.9h-0.9zM217.5 256.5h1.1v1.1h-1.1zM224.7 260.8h1.0v1.0h-1.0zM252.9 265.3h0.9v0.9h-0.9zM247.8 259.1h0.9v0.9h-0.9zM242.1 267.5h0.9v0.9h-0.9zM234.8 264.8h1.0v1.0h-1.0zM215.5 257.2h1.1v1.1h-1.1zM233.2 267.4h1.1v1.1h-1.1zM246.5 266.5h1.0v1.0h-1.0zM227.1 264.4h1.2v1.2h-1.2zM221.5 259.7h1.0v1.0h-1.0zM238.2 264.5h1.0v1.0h-1.0zM235.8 263.6h0.9v0.9h-0.9zM240.4 270.1h1.2v1.2h-1.2zM240.1 266.8h1.1v1.1h-1.1zM227.6 258.3h1.2v1.2h-1.2zM252.2 259.2h1.0v1.0h-1.0zM228.5 270.9h1.0v1.0h-1.0zM261.8 263.2h0.9v0.9h-0.9zM233.2 270.0h1.1v1.1h-1.1zM232.5 265.4h1.1v1.1h-1.1zM250.8 271.9h1.2v1.2h-1.2zM235.4 271.9h1.1v1.1h-1.1zM228.7 259.9h1.0v1.0h-1.0zM245.2 269.3h1.1v1.1h-1.1zM234.1 271.6h1.1v1.1h-1.1zM247.6 270.5h1.1v1.1h-1.1zM240.5 263.5h0.9v0.9h-0.9zM235.3 271.5h0.9v0.9h-0.9zM230.0 268.2h1.0v1.0h-1.0zM233.9 259.8h1.1v1.1h-1.1zM234.6 267.9h0.9v0.9h-0.9zM244.5 259.9h1.2v1.2h-1.2zM240.5 268.3h1.2v1.2h-1.2zM237.3 268.5h0.9v0.9h-0.9zM228.5 265.8h1.1v1.1h-1.1zM243.8 265.4h0.9v0.9h-0.9zM222.3 260.7h1.1v1.1h-1.1zM228.2 263.5h0.9v0.9h-0.9zM221.1 263.8h1.2v1.2h-1.2zM246.9 272.2h1.1v1.1h-1.1zM226.9 270.1h1.0v1.0h-1.0zM254.1 260.6h0.9v0.9h-0.9zM249.0 272.2h1.0v1.0h-1.0zM228.5 263.2h1.0v1.0h-1.0zM229.6 259.8h1.0v1.0h-1.0zM250.7 259.5h0.9v0.9h-0.9zM240.3 272.2h1.1v1.1h-1.1zM236.2 270.1h1.0v1.0h-1.0zM229.6 264.5h1.0v1.0h-1.0zM240.0 269.2h1.0v1.0h-1.0zM236.2 262.3h1.2v1.2h-1.2zM213.8 256.5h1.0v1.0h-1.0zM237.7 260.1h0.9v0.9h-0.9zM238.1 262.5h1.0v1.0h-1.0zM232.9 257.0h1.2v1.2h-1.2zM230.0 263.9h1.0v1.0h-1.0zM250.5 268.1h1.1v1.1h-1.1zM242.1 271.7h1.2v1.2h-1.2zM246.5 272.2h1.0v1.0h-1.0zM234.6 265.5h0.8v0.8h-0.8zM235.8 271.4h0.9v0.9h-0.9zM245.6 270.6h1.2v1.2h-1.2zM233.4 259.0h0.9v0.9h-0.9zM243.6 271.2h1.2v1.2h-1.2zM251.3 271.0h0.9v0.9h-0.9zM247.2 263.4h1.1v1.1h-1.1zM237.9 267.0h1.0v1.0h-1.0zM251.5 268.1h0.9v0.9h-0.9zM242.6 265.6h0.9v0.9h-0.9zM236.6 264.8h1.0v1.0h-1.0zM238.1 260.6h0.9v0.9h-0.9zM249.3 257.8h1.2v1.2h-1.2zM247.2 263.1h0.9v0.9h-0.9zM242.5 263.0h1.2v1.2h-1.2zM243.7 270.2h0.9v0.9h-0.9zM241.3 270.5h1.0v1.0h-1.0zM240.9 271.5h1.0v1.0h-1.0zM244.3 261.8h0.9v0.9h-0.9zM230.7 266.2h1.0v1.0h-1.0zM263.5 257.5h1.1v1.1h-1.1zM250.4 269.8h1.2v1.2h-1.2zM247.3 259.9h1.2v1.2h-1.2zM221.2 259.3h1.1v1.1h-1.1zM243.9 258.9h1.2v1.2h-1.2zM238.0 268.8h1.0v1.0h-1.0zM257.3 258.1h1.2v1.2h-1.2zM237.0 264.1h0.9v0.9h-0.9zM234.6 271.2h0.9v0.9h-0.9zM241.3 268.8h1.2v1.2h-1.2zM232.9 268.8h1.0v1.0h-1.0zM229.1 272.1h1.2v1.2h-1.2zM239.0 272.3h1.2v1.2h-1.2zM238.8 271.5h1.1v1.1h-1.1zM247.5 264.9h0.9v0.9h-0.9zM233.7 256.0h1.2v1.2h-1.2zM214.2 256.4h0.8v0.8h-0.8zM244.2 264.0h1.2v1.2h-1.2zM222.3 262.4h0.9v0.9h-0.9zM245.1 263.6h1.2v1.2h-1.2zM243.7 263.1h1.2v1.2h-1.2zM235.0 257.3h1.0v1.0h-1.0zM227.9 267.4h1.1v1.1h-1.1zM252.9 256.9h1.2v1.2h-1.2zM233.8 265.5h1.1v1.1h-1.1zM241.9 261.6h0.9v0.9h-0.9zM244.3 258.0h0.9v0.9h-0.9zM232.1 256.7h1.2v1.2h-1.2zM231.1 259.7h1.1v1.1h-1.1zM227.5 271.0h1.0v1.0h-1.0zM216.2 259.2h1.0v1.0h-1.0zM249.8 260.0h1.1v1.1h-1.1zM237.0 268.3h1.0v1.0h-1.0zM251.2 267.7h1.1v1.1h-1.1zM248.7 269.8h1.0v1.0h-1.0zM235.4 266.2h1.2v1.2h-1.2zM240.1 262.5h1.2v1.2h-1.2zM228.6 266.8h0.9v0.9h-0.9zM246.6 271.7h1.1v1.1h-1.1zM231.6 271.1h1.1v1.1h-1.1zM248.2 263.3h0.9v0.9h-0.9zM256.4 259.7h0.9v0.9h-0.9zM251.7 262.0h1.0v1.0h-1.0zM256.3 266.9h1.1v1.1h-1.1zM230.8 268.3h1.1v1.1h-1.1zM246.5 257.2h1.1v1.1h-1.1zM245.8 263.7h1.2v1.2h-1.2zM250.7 260.8h1.2v1.2h-1.2zM241.9 266.4h1.1v1.1h-1.1zM255.2 270.3h1.0v1.0h-1.0zM243.1 271.7h1.2v1.2h-1.2zM254.1 268.2h1.0v1.0h-1.0zM237.1 261.9h1.1v1.1h-1.1zM246.8 256.7h1.2v1.2h-1.2zM245.3 269.1h1.0v1.0h-1.0zM246.8 270.1h1.1v1.1h-1.1zM246.0 257.2h0.8v0.8h-0.8zM241.3 270.7h1.2v1.2h-1.2zM228.2 263.9h1.2v1.2h-1.2zM231.7 270.8h1.0v1.0h-1.0zM243.5 263.6h0.9v0.9h-0.9zM236.0 259.2h1.2v1.2h-1.2zM228.5 256.9h1.2v1.2h-1.2zM240.0 264.7h0.9v0.9h-0.9zM240.3 264.6h1.1v1.1h-1.1zM225.5 258.6h1.2v1.2h-1.2zM214.7 257.1h1.1v1.1h-1.1zM232.3 269.0h1.1v1.1h-1.1zM229.3 258.4h1.2v1.2h-1.2zM240.6 271.3h1.2v1.2h-1.2zM255.4 266.7h0.9v0.9h-0.9zM236.5 259.4h0.9v0.9h-0.9zM223.0 265.2h1.2v1.2h-1.2zM241.9 271.5h1.1v1.1h-1.1zM236.5 269.0h1.1v1.1h-1.1zM232.7 272.1h1.0v1.0h-1.0zM232.5 259.8h1.1v1.1h-1.1zM242.5 271.0h1.0v1.0h-1.0zM227.8 268.1h1.1v1.1h-1.1zM237.9 260.7h1.1v1.1h-1.1zM231.1 266.9h1.2v1.2h-1.2zM250.1 258.5h0.9v0.9h-0.9zM235.8 271.2h1.0v1.0h-1.0zM239.2 261.5h1.0v1.0h-1.0zM234.0 258.8h1.2v1.2h-1.2zM243.5 260.6h1.2v1.2h-1.2zM243.5 268.1h1.0v1.0h-1.0zM237.2 258.7h1.2v1.2h-1.2zM250.4 265.2h1.2v1.2h-1.2zM254.4 258.1h1.0v1.0h-1.0zM257.1 268.7h1.2v1.2h-1.2zM243.9 269.5h1.1v1.1h-1.1zM231.2 266.5h0.9v0.9h-0.9zM234.9 256.4h0.9v0.9h-0.9zM224.5 265.1h1.1v1.1h-1.1zM258.6 264.1h0.9v0.9h-0.9zM224.5 263.5h1.1v1.1h-1.1zM213.0 256.2h1.0v1.0h-1.0zM230.6 257.0h1.1v1.1h-1.1zM229.7 268.0h1.0v1.0h-1.0zM237.1 257.1h1.1v1.1h-1.1zM238.9 268.9h1.2v1.2h-1.2zM243.0 269.2h1.2v1.2h-1.2zM251.6 271.7h0.9v0.9h-0.9zM244.4 261.7h1.0v1.0h-1.0zM223.7 269.2h1.1v1.1h-1.1zM249.0 269.5h0.9v0.9h-0.9zM242.6 263.5h1.0v1.0h-1.0zM239.7 270.6h0.9v0.9h-0.9zM232.2 261.2h1.0v1.0h-1.0zM256.6 261.9h1.1v1.1h-1.1zM229.8 256.3h1.1v1.1h-1.1zM248.0 262.6h0.9v0.9h-0.9zM243.6 272.3h1.0v1.0h-1.0zM246.1 259.9h1.1v1.1h-1.1zM242.1 268.7h1.1v1.1h-1.1zM233.0 260.3h1.1v1.1h-1.1zM228.3 256.2h0.8v0.8h-0.8zM266.6 256.7h1.1v1.1h-1.1zM226.7 268.9h1.2v1.2h-1.2zM251.0 260.4h1.0v1.0h-1.0zM223.3 263.8h0.8v0.8h-0.8zM235.9 262.0h1.1v1.1h-1.1zM247.0 262.0h0.9v0.9h-0.9zM248.0 263.2h1.1v1.1h-1.1zM237.1 271.4h1.0v1.0h-1.0zM248.1 263.7h0.9v0.9h-0.9zM240.5 271.3h0.9v0.9h-0.9zM235.0 264.7h0.9v0.9h-0.9zM222.2 259.4h1.1v1.1h-1.1zM255.5 267.1h1.2v1.2h-1.2zM238.4 268.9h0.9v0.9h-0.9zM239.5 263.2h0.8v0.8h-0.8zM235.5 257.8h0.9v0.9h-0.9zM232.5 271.0h1.0v1.0h-1.0zM235.3 263.6h1.0v1.0h-1.0zM235.5 264.4h1.1v1.1h-1.1zM241.4 262.6h1.1v1.1h-1.1zM230.9 267.8h0.9v0.9h-0.9zM229.5 257.2h1.2v1.2h-1.2zM230.9 261.5h0.9v0.9h-0.9zM221.4 262.5h1.1v1.1h-1.1zM235.7 262.8h1.0v1.0h-1.0zM246.3 272.0h0.9v0.9h-0.9zM239.2 271.1h1.1v1.1h-1.1zM231.7 262.7h1.2v1.2h-1.2zM224.0 267.5h1.1v1.1h-1.1zM217.0 260.4h1.2v1.2h-1.2zM235.5 256.4h1.2v1.2h-1.2zM243.7 270.9h1.2v1.2h-1.2zM251.8 260.4h1.1v1.1h-1.1zM219.4 258.3h1.1v1.1h-1.1zM225.1 261.1h1.0v1.0h-1.0zM239.8 269.1h1.2v1.2h-1.2zM236.9 259.8h1.0v1.0h-1.0zM237.6 271.5h1.2v1.2h-1.2zM240.4 268.2h1.2v1.2h-1.2zM216.2 257.7h1.1v1.1h-1.1zM248.0 272.2h1.2v1.2h-1.2zM252.4 268.3h0.9v0.9h-0.9zM245.0 268.8h0.9v0.9h-0.9zM261.1 263.5h0.9v0.9h-0.9zM264.4 257.5h1.1v1.1h-1.1zM246.9 272.4h1.0v1.0h-1.0zM232.4 256.0h0.9v0.9h-0.9zM258.2 267.6h1.1v1.1h-1.1zM234.5 265.2h0.9v0.9h-0.9zM222.0 257.7h1.0v1.0h-1.0zM238.5 270.0h1.0v1.0h-1.0zM247.7 264.7h1.0v1.0h-1.0zM250.4 269.6h0.8v0.8h-0.8zM235.9 266.4h0.9v0.9h-0.9zM247.4 265.1h1.2v1.2h-1.2zM245.1 268.2h1.1v1.1h-1.1zM224.6 263.0h1.1v1.1h-1.1zM238.9 263.0h1.2v1.2h-1.2zM245.9 271.0h0.9v0.9h-0.9zM252.4 262.1h1.2v1.2h-1.2zM249.8 263.8h1.2v1.2h-1.2zM248.5 265.0h1.1v1.1h-1.1zM251.6 270.5h1.0v1.0h-1.0zM249.3 267.3h1.0v1.0h-1.0zM234.7 267.0h1.2v1.2h-1.2zM241.4 268.0h1.0v1.0h-1.0zM240.9 268.7h0.9v0.9h-0.9zM260.1 263.6h1.0v1.0h-1.0zM237.8 271.8h1.2v1.2h-1.2zM236.0 261.4h1.2v1.2h-1.2zM233.6 266.9h0.9v0.9h-0.9zM245.8 271.0h1.1v1.1h-1.1zM258.9 259.6h1.0v1.0h-1.0zM242.0 271.7h1.2v1.2h-1.2zM242.6 265.7h1.2v1.2h-1.2zM227.3 263.1h1.0v1.0h-1.0zM234.1 257.2h1.1v1.1h-1.1zM234.7 263.7h1.0v1.0h-1.0zM235.0 259.4h0.9v0.9h-0.9zM241.6 260.0h1.0v1.0h-1.0zM248.7 271.1h1.0v1.0h-1.0zM229.8 272.0h0.9v0.9h-0.9zM249.9 270.2h1.0v1.0h-1.0zM255.7 267.1h1.1v1.1h-1.1zM225.4 259.6h0.9v0.9h-0.9zM240.8 271.0h0.9v0.9h-0.9zM229.2 269.5h1.0v1.0h-1.0zM226.6 264.8h1.0v1.0h-1.0zM250.2 257.7h1.0v1.0h-1.0zM246.5 264.5h1.1v1.1h-1.1zM236.3 268.8h0.9v0.9h-0.9zM247.0 265.6h1.1v1.1h-1.1zM233.7 270.2h1.0v1.0h-1.0zM234.7 261.3h1.0v1.0h-1.0zM228.6 268.7h0.9v0.9h-0.9zM234.3 269.1h1.0v1.0h-1.0zM228.5 267.3h1.2v1.2h-1.2zM243.7 262.3h0.9v0.9h-0.9zM224.9 268.8h0.9v0.9h-0.9zM258.2 263.5h0.9v0.9h-0.9zM243.2 260.5h1.0v1.0h-1.0zM231.9 258.8h0.9v0.9h-0.9zM245.3 268.4h0.9v0.9h-0.9zM232.1 259.4h1.2v1.2h-1.2zM230.5 268.8h0.9v0.9h-0.9zM251.7 271.5h1.1v1.1h-1.1zM236.2 257.2h0.9v0.9h-0.9zM234.6 262.7h1.1v1.1h-1.1zM246.2 271.1h0.9v0.9h-0.9zM239.5 267.5h1.0v1.0h-1.0zM255.2 264.5h0.9v0.9h-0.9zM245.2 272.2h1.0v1.0h-1.0zM248.4 270.9h1.0v1.0h-1.0zM250.6 261.7h0.9v0.9h-0.9zM232.9 270.4h1.1v1.1h-1.1zM223.6 268.4h0.9v0.9h-0.9zM235.6 264.0h1.1v1.1h-1.1zM237.0 260.0h0.9v0.9h-0.9zM251.0 257.3h1.1v1.1h-1.1zM260.3 258.3h1.1v1.1h-1.1zM234.2 258.3h1.0v1.0h-1.0zM234.8 264.4h0.9v0.9h-0.9zM244.8 258.2h1.0v1.0h-1.0zM222.7 259.4h1.1v1.1h-1.1zM233.5 259.0h1.0v1.0h-1.0zM246.5 267.6h1.0v1.0h-1.0zM256.3 265.4h1.1v1.1h-1.1zM238.5 261.8h1.1v1.1h-1.1zM230.9 258.0h1.2v1.2h-1.2zM236.7 271.5h0.9v0.9h-0.9zM242.6 264.9h1.1v1.1h-1.1zM240.5 268.5h1.1v1.1h-1.1zM220.9 266.2h1.1v1.1h-1.1zM251.9 259.4h1.1v1.1h-1.1zM236.9 269.3h1.2v1.2h-1.2zM238.5 266.3h1.1v1.1h-1.1zM246.7 260.6h1.0v1.0h-1.0zM229.6 268.5h1.2v1.2h-1.2zM236.8 261.1h1.0v1.0h-1.0zM254.6 266.0h1.2v1.2h-1.2zM244.2 259.5h1.1v1.1h-1.1zM249.8 272.2h1.2v1.2h-1.2zM242.5 270.7h1.0v1.0h-1.0zM251.2 259.2h1.0v1.0h-1.0zM225.5 269.6h0.9v0.9h-0.9zM240.5 269.5h0.9v0.9h-0.9zM243.7 258.9h1.1v1.1h-1.1zM238.6 269.2h1.1v1.1h-1.1zM255.4 260.2h1.2v1.2h-1.2zM217.6 262.8h1.0v1.0h-1.0zM247.1 258.9h1.2v1.2h-1.2zM232.5 269.6h0.8v0.8h-0.8zM240.4 269.7h1.1v1.1h-1.1zM243.3 263.3h1.0v1.0h-1.0zM241.3 267.0h1.0v1.0h-1.0zM224.7 270.1h1.0v1.0h-1.0zM244.6 258.1h1.2v1.2h-1.2zM244.2 265.2h0.9v0.9h-0.9zM242.1 271.3h0.8v0.8h-0.8zM223.6 265.6h1.1v1.1h-1.1zM225.2 257.5h1.0v1.0h-1.0zM227.3 269.5h1.2v1.2h-1.2zM224.0 263.0h1.1v1.1h-1.1zM249.9 257.2h0.9v0.9h-0.9zM265.5 256.1h0.9v0.9h-0.9zM213.8 256.0h0.9v0.9h-0.9zM248.6 257.0h1.2v1.2h-1.2zM243.3 268.9h1.2v1.2h-1.2zM250.2 268.9h1.0v1.0h-1.0zM241.0 270.0h1.1v1.1h-1.1zM242.4 271.6h1.1v1.1h-1.1zM236.3 270.7h0.9v0.9h-0.9zM221.9 258.7h1.2v1.2h-1.2zM240.2 267.6h0.9v0.9h-0.9zM243.1 261.9h1.2v1.2h-1.2zM250.6 269.6h1.2v1.2h-1.2zM232.9 264.3h1.1v1.1h-1.1zM226.2 269.1h1.0v1.0h-1.0zM257.9 263.7h0.8v0.8h-0.8zM226.6 268.2h1.2v1.2h-1.2zM248.6 258.2h0.9v0.9h-0.9zM256.7 265.2h0.8v0.8h-0.8zM239.3 270.3h1.1v1.1h-1.1zM233.2 261.6h0.9v0.9h-0.9zM239.0 267.9h1.2v1.2h-1.2zM236.0 270.4h1.0v1.0h-1.0zM247.6 267.8h1.2v1.2h-1.2zM241.7 266.8h1.2v1.2h-1.2zM235.6 260.6h1.1v1.1h-1.1zM243.5 260.4h1.0v1.0h-1.0zM236.0 261.7h1.1v1.1h-1.1zM234.1 264.0h1.2v1.2h-1.2zM242.9 264.3h1.0v1.0h-1.0zM242.2 269.4h1.1v1.1h-1.1zM253.7 265.9h1.2v1.2h-1.2zM253.3 269.0h1.0v1.0h-1.0zM245.6 271.7h1.0v1.0h-1.0zM256.2 257.0h1.1v1.1h-1.1zM237.5 271.8h0.9v0.9h-0.9zM242.1 264.1h0.9v0.9h-0.9zM240.8 268.1h1.2v1.2h-1.2zM248.5 268.8h1.2v1.2h-1.2zM229.1 268.9h1.0v1.0h-1.0zM231.2 268.2h1.1v1.1h-1.1zM247.8 271.0h1.2v1.2h-1.2zM230.4 265.9h1.2v1.2h-1.2zM247.6 257.4h1.1v1.1h-1.1zM238.1 261.7h1.1v1.1h-1.1zM245.2 268.1h0.9v0.9h-0.9zM229.1 267.5h1.0v1.0h-1.0zM233.9 256.2h1.2v1.2h-1.2zM239.5 271.5h1.1v1.1h-1.1zM240.7 263.7h1.2v1.2h-1.2zM238.6 262.4h1.2v1.2h-1.2zM240.9 270.0h1.2v1.2h-1.2zM233.4 256.2h1.0v1.0h-1.0zM245.9 259.6h1.1v1.1h-1.1zM257.2 256.5h0.9v0.9h-0.9zM241.3 270.1h1.0v1.0h-1.0zM223.7 264.5h0.9v0.9h-0.9zM264.9 257.8h1.1v1.1h-1.1zM222.9 264.3h1.1v1.1h-1.1zM242.1 260.0h1.0v1.0h-1.0zM249.3 266.5h1.1v1.1h-1.1zM226.6 270.4h1.0v1.0h-1.0zM242.1 262.3h1.1v1.1h-1.1zM237.6 262.5h1.2v1.2h-1.2zM245.2 266.8h0.9v0.9h-0.9zM235.0 258.4h1.1v1.1h-1.1zM234.4 264.9h0.9v0.9h-0.9zM237.4 265.0h1.0v1.0h-1.0zM250.9 263.3h1.2v1.2h-1.2zM232.7 272.3h1.2v1.2h-1.2zM238.5 270.1h1.1v1.1h-1.1zM234.9 272.2h1.0v1.0h-1.0zM232.2 269.8h0.8v0.8h-0.8zM239.6 270.4h1.0v1.0h-1.0zM231.7 272.1h1.2v1.2h-1.2zM244.8 265.2h0.8v0.8h-0.8zM237.6 270.0h1.2v1.2h-1.2zM261.2 263.9h1.0v1.0h-1.0zM235.2 262.9h1.1v1.1h-1.1zM241.8 264.6h1.0v1.0h-1.0zM241.4 261.2h1.2v1.2h-1.2zM239.2 264.2h0.9v0.9h-0.9zM243.6 259.2h1.2v1.2h-1.2zM234.4 257.1h0.9v0.9h-0.9zM226.6 266.4h0.9v0.9h-0.9zM246.7 270.1h0.9v0.9h-0.9zM242.3 265.2h1.2v1.2h-1.2zM254.0 268.6h1.1v1.1h-1.1zM236.3 271.5h1.0v1.0h-1.0zM246.5 262.3h0.9v0.9h-0.9zM242.5 272.2h0.9v0.9h-0.9zM253.1 262.9h0.9v0.9h-0.9zM241.0 266.7h1.0v1.0h-1.0zM247.2 266.7h1.0v1.0h-1.0zM258.4 259.0h1.1v1.1h-1.1zM244.6 262.4h1.2v1.2h-1.2zM223.3 262.4h1.0v1.0h-1.0zM236.8 260.2h0.9v0.9h-0.9zM236.9 261.7h1.1v1.1h-1.1zM251.0 255.8h1.2v1.2h-1.2zM238.6 260.9h1.0v1.0h-1.0zM225.1 270.5h1.0v1.0h-1.0zM231.6 265.3h0.9v0.9h-0.9zM238.2 267.2h1.0v1.0h-1.0zM227.7 270.4h0.8v0.8h-0.8zM239.9 263.2h1.0v1.0h-1.0zM245.1 265.0h1.2v1.2h-1.2zM232.9 270.8h0.9v0.9h-0.9zM233.0 256.5h1.0v1.0h-1.0zM247.3 256.5h1.1v1.1h-1.1zM224.2 269.8h1.2v1.2h-1.2zM250.5 263.6h0.9v0.9h-0.9zM240.1 269.9h1.2v1.2h-1.2zM230.1 268.5h1.2v1.2h-1.2zM238.6 260.3h0.9v0.9h-0.9zM232.1 259.8h0.9v0.9h-0.9zM255.0 259.4h0.9v0.9h-0.9zM248.8 267.3h1.2v1.2h-1.2zM219.2 263.5h0.9v0.9h-0.9zM236.2 271.9h0.9v0.9h-0.9zM249.1 270.5h1.0v1.0h-1.0zM230.7 271.2h0.9v0.9h-0.9zM253.9 262.4h1.2v1.2h-1.2zM247.5 263.4h0.9v0.9h-0.9zM235.7 270.7h1.0v1.0h-1.0zM244.2 265.6h1.0v1.0h-1.0zM249.9 268.0h1.2v1.2h-1.2zM252.1 257.2h1.2v1.2h-1.2zM230.8 268.9h1.1v1.1h-1.1zM244.0 270.7h1.0v1.0h-1.0zM219.4 265.0h1.0v1.0h-1.0zM244.2 259.9h0.9v0.9h-0.9zM234.6 263.1h0.9v0.9h-0.9zM239.8 270.6h1.2v1.2h-1.2zM229.5 271.9h0.9v0.9h-0.9zM248.6 267.3h1.1v1.1h-1.1zM235.3 264.7h1.1v1.1h-1.1zM229.1 267.6h1.2v1.2h-1.2zM247.6 271.0h0.9v0.9h-0.9zM247.2 256.4h1.2v1.2h-1.2zM242.3 271.0h1.2v1.2h-1.2zM240.8 266.1h0.9v0.9h-0.9zM228.6 270.5h1.1v1.1h-1.1zM225.7 270.9h1.2v1.2h-1.2zM225.9 267.8h1.2v1.2h-1.2zM253.4 263.3h1.1v1.1h-1.1zM228.4 262.9h1.1v1.1h-1.1zM238.3 270.0h1.1v1.1h-1.1zM228.0 270.8h0.9v0.9h-0.9zM236.3 256.5h1.1v1.1h-1.1zM227.8 263.5h1.2v1.2h-1.2zM247.1 256.1h1.1v1.1h-1.1zM232.1 263.6h1.0v1.0h-1.0zM224.3 263.7h1.0v1.0h-1.0zM242.5 260.2h1.0v1.0h-1.0zM234.2 264.8h1.1v1.1h-1.1zM233.9 260.3h1.0v1.0h-1.0zM244.5 257.6h1.2v1.2h-1.2zM233.8 271.6h1.1v1.1h-1.1zM259.4 263.8h1.0v1.0h-1.0zM243.0 270.4h1.0v1.0h-1.0zM243.4 271.2h0.9v0.9h-0.9zM225.1 270.4h1.1v1.1h-1.1zM260.3 256.8h1.0v1.0h-1.0zM249.9 268.5h1.0v1.0h-1.0zM229.3 267.4h0.9v0.9h-0.9zM244.4 264.8h1.0v1.0h-1.0zM224.6 270.1h1.1v1.1h-1.1zM247.4 262.3h1.0v1.0h-1.0zM250.7 263.2h0.9v0.9h-0.9zM237.4 259.1h1.1v1.1h-1.1zM247.9 258.4h1.1v1.1h-1.1zM253.3 270.5h1.0v1.0h-1.0zM236.5 258.4h1.1v1.1h-1.1zM231.4 271.7h1.1v1.1h-1.1zM253.2 270.3h1.1v1.1h-1.1zM236.0 267.8h0.9v0.9h-0.9zM242.8 262.6h1.2v1.2h-1.2zM240.5 271.7h1.2v1.2h-1.2zM217.2 262.7h1.1v1.1h-1.1zM233.6 256.2h1.1v1.1h-1.1zM230.3 262.1h1.1v1.1h-1.1zM233.2 268.6h1.0v1.0h-1.0zM238.3 266.7h1.1v1.1h-1.1zM232.8 268.6h1.2v1.2h-1.2zM238.0 271.6h1.0v1.0h-1.0zM257.1 259.3h0.9v0.9h-0.9zM235.9 262.1h1.0v1.0h-1.0zM226.6 261.3h0.9v0.9h-0.9zM247.0 264.7h1.1v1.1h-1.1zM221.7 264.1h1.1v1.1h-1.1zM230.6 255.9h1.2v1.2h-1.2zM241.1 270.8h1.2v1.2h-1.2zM243.5 263.1h1.1v1.1h-1.1zM222.2 258.3h1.1v1.1h-1.1zM239.1 268.3h1.0v1.0h-1.0zM220.7 257.5h1.1v1.1h-1.1zM252.4 271.0h1.0v1.0h-1.0zM240.7 266.9h1.0v1.0h-1.0zM240.2 269.3h1.2v1.2h-1.2zM247.0 256.5h1.0v1.0h-1.0zM235.2 271.5h1.0v1.0h-1.0zM240.3 264.8h1.0v1.0h-1.0zM236.0 258.7h1.2v1.2h-1.2zM217.0 256.2h1.1v1.1h-1.1zM247.9 264.4h1.2v1.2h-1.2zM246.7 267.9h0.8v0.8h-0.8zM242.6 271.7h0.9v0.9h-0.9zM254.1 266.3h1.0v1.0h-1.0zM246.4 271.7h1.1v1.1h-1.1zM240.9 270.9h1.1v1.1h-1.1zM258.2 256.6h1.1v1.1h-1.1zM243.5 259.1h1.2v1.2h-1.2zM229.7 267.6h1.0v1.0h-1.0zM250.7 260.0h1.0v1.0h-1.0zM236.5 267.9h0.9v0.9h-0.9zM240.0 269.4h1.0v1.0h-1.0zM247.4 266.0h1.0v1.0h-1.0zM249.6 268.6h1.1v1.1h-1.1zM234.4 264.8h1.2v1.2h-1.2zM239.1 271.9h1.2v1.2h-1.2zM226.5 262.0h0.9v0.9h-0.9zM224.0 264.8h1.1v1.1h-1.1zM230.4 264.6h1.0v1.0h-1.0zM244.1 270.0h0.9v0.9h-0.9zM248.7 271.9h1.1v1.1h-1.1zM237.1 258.1h1.0v1.0h-1.0zM247.8 268.5h1.1v1.1h-1.1zM236.3 261.3h1.0v1.0h-1.0zM252.2 262.1h1.0v1.0h-1.0zM236.5 271.1h0.9v0.9h-0.9zM242.4 267.9h1.2v1.2h-1.2zM234.1 269.2h0.9v0.9h-0.9zM249.1 268.9h1.2v1.2h-1.2zM251.8 265.9h1.1v1.1h-1.1zM233.8 267.1h1.2v1.2h-1.2zM231.0 262.6h0.9v0.9h-0.9zM236.9 267.2h1.0v1.0h-1.0zM220.2 264.9h0.9v0.9h-0.9zM244.4 256.5h1.2v1.2h-1.2zM251.0 259.0h0.8v0.8h-0.8zM258.6 260.9h1.1v1.1h-1.1zM220.1 262.6h0.9v0.9h-0.9zM232.2 258.3h1.1v1.1h-1.1zM242.2 268.8h1.1v1.1h-1.1zM236.7 262.4h1.1v1.1h-1.1zM221.3 267.1h1.0v1.0h-1.0zM221.6 266.4h1.0v1.0h-1.0zM242.5 269.5h1.1v1.1h-1.1zM244.0 265.1h0.9v0.9h-0.9zM239.1 261.9h1.0v1.0h-1.0zM249.6 271.8h1.2v1.2h-1.2zM243.6 267.5h1.0v1.0h-1.0zM248.8 267.0h1.1v1.1h-1.1zM261.5 263.3h0.9v0.9h-0.9zM240.5 272.4h0.8v0.8h-0.8zM233.9 262.2h1.1v1.1h-1.1zM254.5 270.6h1.2v1.2h-1.2zM239.2 263.0h0.9v0.9h-0.9zM234.2 266.6h0.9v0.9h-0.9zM249.6 269.4h1.1v1.1h-1.1zM246.8 261.1h1.2v1.2h-1.2zM226.3 261.4h1.0v1.0h-1.0zM254.6 262.5h0.9v0.9h-0.9zM251.3 256.4h1.2v1.2h-1.2zM249.6 258.8h1.2v1.2h-1.2zM224.0 265.1h1.2v1.2h-1.2zM247.0 272.2h0.8v0.8h-0.8zM229.5 271.1h1.2v1.2h-1.2zM222.2 267.4h1.1v1.1h-1.1zM250.7 266.3h1.1v1.1h-1.1zM262.9 259.3h1.0v1.0h-1.0zM232.0 261.7h0.9v0.9h-0.9zM248.1 264.2h1.0v1.0h-1.0zM218.4 264.0h1.1v1.1h-1.1zM225.2 260.0h1.2v1.2h-1.2zM226.2 258.4h0.9v0.9h-0.9zM246.1 265.9h1.0v1.0h-1.0zM250.2 266.7h1.0v1.0h-1.0zM241.7 268.1h1.1v1.1h-1.1zM228.5 271.9h1.2v1.2h-1.2zM242.9 269.9h0.9v0.9h-0.9zM227.6 270.0h1.2v1.2h-1.2zM237.0 265.1h0.9v0.9h-0.9zM239.6 263.3h1.0v1.0h-1.0zM238.4 266.4h1.1v1.1h-1.1zM226.5 263.7h1.0v1.0h-1.0zM240.4 266.5h0.9v0.9h-0.9zM226.0 260.9h1.2v1.2h-1.2zM230.2 265.4h1.2v1.2h-1.2zM243.8 260.6h1.1v1.1h-1.1zM237.5 266.1h1.1v1.1h-1.1zM253.5 269.2h1.2v1.2h-1.2zM244.5 256.2h1.0v1.0h-1.0zM247.1 271.9h1.2v1.2h-1.2zM240.6 270.9h1.1v1.1h-1.1zM237.4 271.0h1.0v1.0h-1.0zM230.1 260.7h1.0v1.0h-1.0zM245.7 258.9h0.9v0.9h-0.9zM258.4 262.2h0.9v0.9h-0.9zM229.4 269.4h0.9v0.9h-0.9zM246.5 263.6h1.2v1.2h-1.2zM234.1 258.7h1.0v1.0h-1.0zM244.8 266.5h1.1v1.1h-1.1zM245.4 270.7h1.0v1.0h-1.0zM239.9 267.6h1.1v1.1h-1.1zM238.1 266.7h1.0v1.0h-1.0zM239.9 270.3h1.1v1.1h-1.1zM236.0 269.7h0.9v0.9h-0.9zM247.4 260.8h0.9v0.9h-0.9zM245.6 272.2h1.2v1.2h-1.2zM243.2 265.0h1.1v1.1h-1.1zM236.3 257.6h1.1v1.1h-1.1zM256.4 266.0h1.1v1.1h-1.1zM248.1 258.2h0.9v0.9h-0.9zM243.8 261.7h1.0v1.0h-1.0zM246.2 259.5h1.2v1.2h-1.2zM252.5 261.7h1.0v1.0h-1.0zM236.6 264.9h0.9v0.9h-0.9zM241.2 264.1h1.1v1.1h-1.1zM259.1 261.2h1.1v1.1h-1.1zM250.7 269.6h1.0v1.0h-1.0zM239.3 270.1h1.2v1.2h-1.2zM257.5 257.9h0.9v0.9h-0.9zM243.5 267.1h1.0v1.0h-1.0zM251.9 270.8h0.8v0.8h-0.8zM236.0 271.1h1.2v1.2h-1.2zM239.9 270.9h1.1v1.1h-1.1zM214.8 257.8h0.9v0.9h-0.9zM248.7 261.6h1.0v1.0h-1.0zM224.6 266.4h1.1v1.1h-1.1zM235.0 265.5h0.8v0.8h-0.8zM237.9 266.8h0.9v0.9h-0.9zM243.9 259.7h1.0v1.0h-1.0zM243.2 256.0h1.1v1.1h-1.1zM219.2 256.4h1.0v1.0h-1.0zM222.1 265.1h1.1v1.1h-1.1zM228.5 256.0h1.1v1.1h-1.1zM250.3 258.8h0.9v0.9h-0.9zM254.3 261.5h0.9v0.9h-0.9zM229.7 268.7h1.1v1.1h-1.1zM248.6 263.3h1.2v1.2h-1.2zM233.3 268.7h0.9v0.9h-0.9zM254.7 269.4h1.0v1.0h-1.0zM252.4 258.2h1.2v1.2h-1.2zM231.4 269.0h1.0v1.0h-1.0zM239.5 270.2h1.0v1.0h-1.0zM237.5 268.3h0.9v0.9h-0.9zM234.6 271.1h1.2v1.2h-1.2zM242.0 260.7h1.1v1.1h-1.1zM237.9 261.4h0.9v0.9h-0.9zM216.0 256.4h1.1v1.1h-1.1zM232.7 271.3h1.1v1.1h-1.1zM248.9 269.3h1.0v1.0h-1.0zM228.1 258.2h1.1v1.1h-1.1zM234.8 258.0h1.2v1.2h-1.2zM252.9 263.0h1.0v1.0h-1.0zM239.5 267.6h0.9v0.9h-0.9zM227.5 264.2h1.2v1.2h-1.2zM241.2 265.7h1.1v1.1h-1.1zM233.1 264.7h1.1v1.1h-1.1zM248.8 261.9h0.9v0.9h-0.9zM231.7 268.1h1.0v1.0h-1.0zM248.2 260.8h1.0v1.0h-1.0zM240.4 262.8h0.9v0.9h-0.9zM264.6 263.8h0.9v0.9h-0.9zM260.1 265.0h0.9v0.9h-0.9zM231.5 273.0h0.7v0.7h-0.7zM218.8 266.2h0.7v0.7h-0.7zM254.4 272.0h0.6v0.6h-0.6zM223.7 269.2h0.6v0.6h-0.6zM230.2 272.4h0.9v0.9h-0.9zM211.5 260.7h0.6v0.6h-0.6zM216.8 267.2h0.7v0.7h-0.7zM257.9 271.4h0.8v0.8h-0.8zM262.4 266.5h0.6v0.6h-0.6zM250.3 271.8h0.8v0.8h-0.8zM212.1 260.2h0.7v0.7h-0.7zM226.3 270.5h0.8v0.8h-0.8zM247.9 269.7h0.7v0.7h-0.7zM261.6 263.5h0.8v0.8h-0.8zM261.6 266.3h0.6v0.6h-0.6zM216.9 266.4h0.7v0.7h-0.7zM225.6 269.6h0.9v0.9h-0.9zM259.9 269.8h0.8v0.8h-0.8zM252.1 270.9h0.8v0.8h-0.8zM222.3 269.2h0.7v0.7h-0.7zM262.9 266.9h0.9v0.9h-0.9zM263.4 266.4h0.6v0.6h-0.6zM224.7 269.2h0.8v0.8h-0.8zM248.0 271.9h0.6v0.6h-0.6zM259.0 266.2h0.6v0.6h-0.6zM261.3 268.6h0.9v0.9h-0.9zM227.7 272.2h0.8v0.8h-0.8zM259.2 271.2h0.7v0.7h-0.7zM231.1 270.2h0.6v0.6h-0.6zM255.8 270.2h0.6v0.6h-0.6zM250.7 272.5h0.6v0.6h-0.6zM218.8 264.1h0.6v0.6h-0.6zM226.7 271.1h0.9v0.9h-0.9zM257.3 268.1h0.8v0.8h-0.8zM224.7 270.7h0.7v0.7h-0.7zM216.3 265.3h0.9v0.9h-0.9zM258.4 267.1h0.8v0.8h-0.8zM226.4 272.3h0.8v0.8h-0.8zM265.2 264.7h0.6v0.6h-0.6zM261.8 264.9h0.7v0.7h-0.7zM262.9 266.3h0.8v0.8h-0.8zM220.4 270.6h0.6v0.6h-0.6zM224.1 268.1h0.7v0.7h-0.7zM254.2 272.0h0.8v0.8h-0.8zM248.8 273.0h0.7v0.7h-0.7zM262.3 262.6h0.7v0.7h-0.7zM216.4 263.2h0.7v0.7h-0.7zM266.4 263.2h0.7v0.7h-0.7zM230.0 269.1h0.7v0.7h-0.7zM215.2 265.4h0.8v0.8h-0.8zM216.0 265.0h0.6v0.6h-0.6zM257.0 270.4h0.9v0.9h-0.9zM256.8 267.8h0.8v0.8h-0.8zM218.4 264.7h0.6v0.6h-0.6zM225.6 271.2h0.7v0.7h-0.7zM218.2 265.1h0.8v0.8h-0.8zM226.5 268.5h0.6v0.6h-0.6zM254.8 271.6h0.9v0.9h-0.9zM228.3 270.4h0.8v0.8h-0.8zM224.7 270.0h0.8v0.8h-0.8zM261.6 266.0h0.7v0.7h-0.7zM265.7 264.6h0.7v0.7h-0.7zM251.3 272.1h0.9v0.9h-0.9zM265.7 261.3h0.8v0.8h-0.8zM215.5 266.5h0.8v0.8h-0.8zM219.5 267.3h0.7v0.7h-0.7zM254.7 270.0h0.8v0.8h-0.8zM219.9 266.3h0.9v0.9h-0.9zM255.7 272.1h0.6v0.6h-0.6zM266.1 262.3h0.9v0.9h-0.9zM219.9 268.7h0.8v0.8h-0.8zM217.4 268.5h0.8v0.8h-0.8zM266.9 260.8h0.9v0.9h-0.9zM262.6 266.8h0.8v0.8h-0.8zM231.5 269.2h0.9v0.9h-0.9zM249.5 271.9h0.8v0.8h-0.8zM266.0 263.7h0.8v0.8h-0.8zM256.2 268.2h0.9v0.9h-0.9zM262.9 265.8h0.8v0.8h-0.8zM260.7 268.3h0.7v0.7h-0.7zM258.2 270.8h0.9v0.9h-0.9zM261.3 267.1h0.6v0.6h-0.6zM258.0 271.3h0.9v0.9h-0.9zM215.8 267.2h0.7v0.7h-0.7zM256.7 271.7h0.7v0.7h-0.7zM254.9 269.5h0.8v0.8h-0.8zM267.9 261.5h0.8v0.8h-0.8zM260.7 264.3h0.7v0.7h-0.7zM247.8 272.4h0.7v0.7h-0.7zM218.2 268.2h0.8v0.8h-0.8zM214.6 264.5h0.9v0.9h-0.9zM224.0 270.0h0.7v0.7h-0.7zM225.6 271.5h0.7v0.7h-0.7zM265.9 264.3h0.6v0.6h-0.6zM219.9 266.6h0.9v0.9h-0.9zM251.1 269.4h0.9v0.9h-0.9zM227.8 269.3h0.8v0.8h-0.8zM248.3 270.3h0.7v0.7h-0.7zM247.7 269.0h0.8v0.8h-0.8zM221.7 267.3h0.9v0.9h-0.9zM221.8 266.3h0.7v0.7h-0.7zM219.6 266.4h0.9v0.9h-0.9zM260.3 267.9h0.7v0.7h-0.7zM247.9 273.0h0.6v0.6h-0.6zM231.2 270.3h0.8v0.8h-0.8zM213.4 264.1h0.8v0.8h-0.8zM260.7 265.5h0.7v0.7h-0.7zM257.8 266.4h0.8v0.8h-0.8zM221.3 269.4h0.8v0.8h-0.8zM248.6 269.5h0.6v0.6h-0.6zM220.2 266.1h0.9v0.9h-0.9zM212.1 260.1h0.8v0.8h-0.8zM221.7 269.5h0.9v0.9h-0.9zM264.6 260.7h0.7v0.7h-0.7zM262.8 266.1h0.8v0.8h-0.8zM257.6 269.2h0.8v0.8h-0.8zM221.7 269.7h0.9v0.9h-0.9zM249.3 270.3h0.8v0.8h-0.8zM214.2 261.0h0.9v0.9h-0.9zM221.4 270.7h0.7v0.7h-0.7zM214.4 265.7h0.7v0.7h-0.7zM216.1 264.4h0.7v0.7h-0.7zM254.7 271.5h0.8v0.8h-0.8zM211.3 261.8h0.9v0.9h-0.9zM262.5 264.2h0.8v0.8h-0.8zM214.9 261.0h0.9v0.9h-0.9zM215.5 263.3h0.7v0.7h-0.7zM263.1 266.8h0.9v0.9h-0.9zM223.3 273.0h0.6v0.6h-0.6zM254.9 268.1h0.7v0.7h-0.7zM223.8 269.6h0.7v0.7h-0.7zM213.5 264.5h0.8v0.8h-0.8zM212.1 262.7h0.8v0.8h-0.8zM249.4 270.9h0.6v0.6h-0.6zM220.6 271.0h0.7v0.7h-0.7zM264.8 262.7h0.8v0.8h-0.8zM218.2 264.6h0.7v0.7h-0.7zM258.6 265.8h0.7v0.7h-0.7zM220.0 269.8h0.7v0.7h-0.7zM255.4 268.9h0.6v0.6h-0.6z" fill="#0b6b12"/>
<path d="M248.8 247.3h2.9L250.2 244.8zM257.6 252.6h2.8L258.9 250.2zM252.2 258.6h2.6L253.5 256.3zM273.7 228.5h3.2L275.3 225.7zM246.1 242.4h2.8L247.5 239.9zM249.6 244.5h3.1L251.1 241.9zM253.1 249.9h2.5L254.3 247.7zM254.2 226.6h3.1L255.8 223.9zM247.0 260.0h2.1L248.1 258.1zM256.5 211.8h3.7L258.3 208.6zM251.3 255.5h2.4L252.5 253.4zM254.5 254.6h2.4L255.7 252.5zM263.7 256.9h2.4L264.9 254.8zM262.2 239.6h2.7L263.6 237.2zM272.3 215.4h3.6L274.1 212.3zM249.5 257.4h2.4L250.7 255.3zM266.4 258.1h2.1L267.5 256.3zM256.8 242.5h2.9L258.3 240.0zM254.0 244.4h3.1L255.6 241.7zM258.0 232.1h3.3L259.7 229.2zM259.1 249.9h2.9L260.6 247.4zM242.0 252.7h2.8L243.4 250.3zM280.0 228.3h3.3L281.6 225.4zM261.8 205.6h3.7L263.6 202.4zM257.5 253.2h2.3L258.6 251.2zM261.9 258.0h2.4L263.1 255.8zM273.5 224.2h3.6L275.3 221.0zM250.3 258.7h2.3L251.4 256.8zM254.9 237.4h2.8L256.3 235.0zM253.6 258.7h2.5L254.9 256.5zM259.3 248.4h2.7L260.7 246.0zM266.3 258.2h2.4L267.5 256.1zM261.4 244.6h2.6L262.7 242.3zM264.5 252.4h2.6L265.8 250.1zM248.5 248.4h2.7L249.9 246.0zM248.8 258.9h2.5L250.1 256.7zM280.9 223.3h3.7L282.7 220.1zM252.8 242.4h2.6L254.1 240.1zM270.1 230.4h3.4L271.8 227.4zM265.4 241.5h2.8L266.8 239.0zM251.3 258.4h2.3L252.5 256.4zM262.5 231.8h3.1L264.0 229.1zM262.4 254.9h2.7L263.7 252.6zM261.4 243.1h2.8L262.8 240.7zM256.6 256.6h2.2L257.7 254.7zM254.0 258.6h2.4L255.2 256.6zM255.1 251.0h2.4L256.3 248.9zM256.0 231.9h2.9L257.4 229.3zM258.6 258.2h2.1L259.6 256.4zM247.7 235.7h3.0L249.2 233.0zM260.1 250.1h2.6L261.4 247.9zM258.8 250.1h2.3L260.0 248.0zM250.2 246.5h2.5L251.5 244.3zM252.2 243.8h3.1L253.7 241.1zM259.1 256.4h2.5L260.4 254.3zM246.6 259.3h2.6L247.9 257.0zM252.9 250.7h2.6L254.2 248.4zM261.2 237.3h3.3L262.8 234.4zM247.4 256.4h2.6L248.7 254.1zM257.5 227.7h3.2L259.1 224.9zM250.4 259.7h2.1L251.5 257.9zM261.5 260.3h2.1L262.5 258.4zM258.6 257.3h2.6L259.9 255.0zM270.9 238.7h3.1L272.5 236.0zM265.3 251.4h2.5L266.5 249.2zM249.8 251.7h2.4L251.0 249.6zM252.7 259.0h2.4L253.9 256.9zM263.4 239.9h3.2L265.0 237.1zM259.0 252.0h2.4L260.2 249.8zM247.3 252.5h2.9L248.8 250.0zM254.6 245.0h2.8L256.0 242.5zM253.4 244.5h2.6L254.7 242.2zM257.6 239.7h2.8L259.0 237.3zM272.2 238.0h3.1L273.7 235.3zM275.7 213.8h4.0L277.7 210.3zM272.0 242.5h2.7L273.4 240.1zM255.7 254.6h2.3L256.8 252.6zM256.9 260.1h2.1L257.9 258.2zM251.7 243.5h2.7L253.0 241.2zM264.9 258.2h2.2L266.0 256.3zM258.7 254.0h2.5L260.0 251.9zM253.3 249.4h2.5L254.5 247.2zM278.2 238.4h3.1L279.7 235.7zM257.7 246.4h2.6L259.0 244.2zM270.0 242.2h2.7L271.4 239.8zM253.4 256.4h2.4L254.6 254.3zM263.1 249.9h2.4L264.3 247.8zM253.6 257.2h2.1L254.7 255.3zM259.0 255.9h2.2L260.1 254.0zM257.3 258.6h2.1L258.3 256.8zM249.1 246.5h2.8L250.5 244.0zM245.7 248.3h2.4L246.9 246.2zM250.1 249.1h2.7L251.4 246.7zM255.0 255.8h2.7L256.4 253.4zM262.5 254.1h2.6L263.8 251.9zM242.7 256.9h2.3L243.9 254.9zM268.9 237.7h3.0L270.4 235.1zM252.3 256.4h2.4L253.5 254.3zM253.7 249.2h2.6L255.0 247.0zM261.2 248.5h2.4L262.4 246.4zM259.7 249.5h2.4L261.0 247.4zM245.9 252.5h2.3L247.0 250.5zM258.2 236.3h2.9L259.6 233.7zM263.4 233.1h3.0L264.9 230.4zM269.0 249.5h2.4L270.2 247.4zM260.7 231.0h3.3L262.3 228.1zM247.9 230.8h3.0L249.4 228.2zM258.5 233.7h3.1L260.1 231.0zM267.6 234.8h3.2L269.2 232.0zM249.8 238.7h3.0L251.2 236.1zM250.7 238.6h3.1L252.3 235.9zM245.0 238.0h3.2L246.6 235.2zM250.3 252.1h2.5L251.6 249.8zM255.3 260.0h2.2L256.4 258.1zM256.9 247.4h2.4L258.1 245.3zM287.2 219.3h3.7L289.1 216.1zM255.5 239.6h2.9L256.9 237.1zM261.7 257.4h2.3L262.8 255.4zM248.8 255.8h2.2L249.9 253.8zM267.0 256.8h2.2L268.2 254.9zM252.2 257.2h2.7L253.6 254.9zM266.2 236.5h3.0L267.7 233.8zM260.0 253.9h2.7L261.3 251.5zM250.3 244.7h3.0L251.8 242.1zM255.7 229.9h3.1L257.2 227.2zM247.9 254.1h2.3L249.0 252.0zM258.2 248.1h2.9L259.7 245.6zM248.6 249.8h2.5L249.9 247.6zM283.5 217.6h3.7L285.3 214.4zM274.5 225.8h3.6L276.3 222.6zM269.3 235.7h3.0L270.9 233.0zM254.1 249.4h2.6L255.4 247.1zM267.2 222.8h3.7L269.1 219.5zM249.5 259.3h2.6L250.8 257.1zM274.2 209.7h4.1L276.3 206.1zM266.6 237.2h3.2L268.1 234.4zM273.9 236.5h2.9L275.4 234.0zM277.6 239.2h2.7L278.9 236.9zM253.1 249.3h2.4L254.3 247.2zM266.2 214.3h4.0L268.2 210.8zM262.8 243.6h2.9L264.2 241.1zM259.7 228.4h3.5L261.5 225.3zM247.9 254.0h2.8L249.3 251.6zM250.4 256.4h2.3L251.6 254.4zM253.5 255.7h2.7L254.9 253.3zM246.8 245.0h2.7L248.1 242.7zM259.1 251.3h2.4L260.3 249.2zM242.9 252.3h2.4L244.2 250.1zM256.8 224.4h3.7L258.7 221.2zM258.3 238.0h3.3L259.9 235.1zM251.5 255.1h2.4L252.7 253.1zM258.9 249.8h2.6L260.2 247.5zM267.0 245.9h3.0L268.4 243.3zM261.7 259.7h2.5L263.0 257.5zM255.3 248.6h2.9L256.8 246.1zM266.8 254.3h2.4L268.0 252.2zM251.4 259.3h2.2L252.5 257.4zM254.0 258.7h2.4L255.2 256.6zM269.8 243.0h3.1L271.3 240.3zM251.3 246.6h2.8L252.7 244.2zM258.1 238.1h3.2L259.7 235.2zM262.9 242.9h2.7L264.3 240.6zM252.2 242.3h2.9L253.6 239.8zM261.7 249.9h2.9L263.1 247.4zM247.4 243.6h2.9L248.8 241.1zM260.6 247.9h2.9L262.1 245.4zM246.8 259.6h2.5L248.0 257.4zM267.0 231.8h3.2L268.6 229.1zM263.6 231.3h3.3L265.2 228.4zM254.1 236.3h3.2L255.7 233.5zM253.5 259.9h2.3L254.6 257.9zM250.7 259.3h2.4L251.9 257.2zM251.1 259.1h2.5L252.4 256.9zM271.4 202.0h4.2L273.5 198.3zM280.4 199.8h4.3L282.6 196.1zM264.3 251.6h2.5L265.6 249.4zM259.5 258.2h2.5L260.7 256.0zM261.2 248.9h2.7L262.6 246.6zM265.8 251.8h2.8L267.2 249.3zM246.4 230.5h3.1L247.9 227.8zM268.7 255.3h2.5L269.9 253.1zM260.2 248.6h2.5L261.5 246.4zM262.1 233.7h3.3L263.8 230.8zM263.3 259.7h2.5L264.5 257.5zM262.5 258.5h2.1L263.5 256.6zM256.3 253.3h2.3L257.5 251.3zM257.9 236.9h2.8L259.3 234.4zM261.6 226.8h3.4L263.3 223.8zM270.2 203.8h4.2L272.3 200.1zM261.3 246.9h2.6L262.6 244.6zM215.8 257.2h2.2L216.9 255.3zM225.1 249.0h2.7L226.5 246.7zM214.9 242.8h2.9L216.3 240.3zM231.4 256.3h2.4L232.6 254.2zM225.6 255.1h2.3L226.7 253.0zM216.1 258.6h2.3L217.3 256.6zM222.1 258.3h2.2L223.2 256.3zM227.3 259.6h2.5L228.6 257.4zM223.8 248.2h2.6L225.1 246.0zM218.0 259.1h2.5L219.3 256.9zM222.5 247.3h2.7L223.8 244.8zM220.0 260.3h2.2L221.1 258.4zM228.9 255.8h2.3L230.1 253.8zM224.3 252.2h2.7L225.7 249.9zM233.0 258.4h2.6L234.3 256.1zM217.1 257.7h2.7L218.5 255.4zM219.5 257.5h2.2L220.6 255.6zM221.7 242.2h2.7L223.1 239.8zM226.7 260.0h2.1L227.7 258.1zM210.3 255.8h2.3L211.4 253.8zM227.4 243.5h2.8L228.8 241.1zM217.8 229.2h3.4L219.5 226.2zM218.3 242.5h3.1L219.9 239.8zM223.3 239.6h3.0L224.8 236.9zM219.7 252.5h2.3L220.9 250.4zM220.6 257.8h2.3L221.8 255.8zM214.4 249.2h2.4L215.6 247.1zM221.8 221.0h3.4L223.5 218.1zM215.7 257.1h2.5L216.9 254.9zM224.5 234.5h3.1L226.1 231.8zM226.9 259.3h2.2L228.0 257.4zM221.6 254.6h2.4L222.8 252.6zM220.1 258.6h2.6L221.4 256.3zM217.4 257.8h2.5L218.6 255.6zM223.8 246.6h2.8L225.2 244.1zM223.9 233.7h3.0L225.4 231.0zM212.7 257.3h2.3L213.8 255.3zM212.9 254.4h2.7L214.2 252.1zM222.1 227.6h3.0L223.6 225.0zM221.4 249.3h2.8L222.8 246.9zM212.6 223.8h3.7L214.5 220.6zM215.4 251.6h2.7L216.7 249.3zM229.1 257.1h2.1L230.2 255.2zM220.4 254.5h2.2L221.5 252.5zM223.4 243.1h3.0L224.9 240.5zM229.4 249.8h2.4L230.6 247.7zM221.3 259.2h2.3L222.5 257.2zM225.5 259.5h2.4L226.7 257.4zM214.3 249.6h2.8L215.7 247.2zM219.7 259.0h2.2L220.9 257.0zM210.6 256.1h2.6L211.9 253.8zM227.4 258.3h2.6L228.7 256.0zM224.8 259.8h2.3L226.0 257.8zM217.2 228.1h3.2L218.8 225.2zM222.3 244.3h2.9L223.8 241.7zM220.3 254.9h2.7L221.6 252.6zM215.5 236.1h3.2L217.0 233.3zM212.2 249.6h2.9L213.6 247.0zM210.0 254.2h2.7L211.4 251.8zM224.4 257.4h2.7L225.7 255.0zM216.7 260.1h2.2L217.8 258.2zM218.9 254.5h2.6L220.2 252.2zM223.3 251.2h2.4L224.5 249.1zM219.3 245.0h2.6L220.6 242.8zM222.4 251.0h2.5L223.7 248.8zM228.1 252.6h2.8L229.5 250.1zM218.0 258.2h2.3L219.1 256.2zM214.3 259.6h2.2L215.4 257.7zM230.5 255.3h2.7L231.8 252.9zM227.0 259.9h2.6L228.3 257.6zM219.6 256.9h2.6L220.9 254.7zM208.1 232.6h3.1L209.7 229.9zM216.3 221.6h3.7L218.2 218.4zM229.8 256.3h2.2L230.9 254.4zM234.0 257.7h2.1L235.1 255.9zM226.9 249.3h2.4L228.1 247.2zM230.3 250.9h2.5L231.6 248.7zM220.5 258.0h2.2L221.6 256.1zM220.8 256.0h2.7L222.1 253.7zM222.1 241.3h2.9L223.6 238.7zM212.5 248.3h2.9L214.0 245.8zM220.3 250.4h2.6L221.6 248.1zM225.3 247.9h2.6L226.6 245.6zM218.1 241.6h2.8L219.5 239.1zM210.3 240.5h2.6L211.6 238.2zM230.3 255.0h2.5L231.6 252.8zM212.2 258.2h2.7L213.5 255.9zM209.8 260.2h2.6L211.1 258.0zM225.2 255.4h2.7L226.6 253.0zM221.9 246.8h2.5L223.2 244.6zM225.5 252.8h2.5L226.8 250.6zM217.6 242.4h3.1L219.2 239.7zM214.9 240.4h2.7L216.2 238.0zM230.9 258.2h2.1L232.0 256.3zM224.9 252.3h2.4L226.1 250.2zM218.5 253.2h2.3L219.6 251.2zM226.8 253.4h2.7L228.2 251.1zM219.1 259.1h2.5L220.4 257.0zM226.1 258.4h2.7L227.4 256.1zM229.0 259.7h2.1L230.0 257.9zM221.1 238.6h3.1L222.7 235.8zM227.4 253.1h2.7L228.8 250.8zM224.9 257.8h2.2L226.0 255.9zM227.4 257.5h2.2L228.5 255.6zM228.8 255.5h2.8L230.1 253.1zM224.7 252.7h2.7L226.1 250.3zM224.7 257.0h2.2L225.7 255.1zM227.3 256.9h2.2L228.4 254.9zM225.0 254.8h2.6L226.3 252.5zM205.6 226.2h3.2L207.2 223.5z" fill="#0b6b12"/>
<path d="M196.8 172.4 L201.0 172.4 L198.9 168.8z" fill="#0b6b12"/>
<path d="M202.8 183.4 L206.9 183.4 L204.8 179.8z" fill="#0b6b12"/>
<path d="M202.8 187.5 L206.9 187.5 L204.8 183.9z" fill="#0b6b12"/>
<path d="M202.8 192.8 L206.9 192.8 L204.8 189.2z" fill="#0b6b12"/>
<path d="M213.8 184.6 L217.9 184.6 L215.8 181.0z" fill="#0b6b12"/>
<path d="M206.4 202.4 L210.6 202.4 L208.5 198.8z" fill="#0b6b12"/>
<path d="M214.9 209.4 L219.1 209.4 L217.0 205.8z" fill="#0b6b12"/>
<path d="M275.1 161.6 L279.2 161.6 L277.1 158.0z" fill="#0b6b12"/>
<path d="M288.1 157.8 L292.2 157.8 L290.2 154.2z" fill="#0b6b12"/>
<path d="M272.1 170.3 L276.2 170.3 L274.2 166.7z" fill="#0b6b12"/>
<path d="M268.3 177.6 L272.4 177.6 L270.4 174.0z" fill="#0b6b12"/>
<path d="M263.9 177.6 L268.1 177.6 L266.0 174.0z" fill="#0b6b12"/>
<path d="M288.8 178.8 L292.9 178.8 L290.8 175.2z" fill="#0b6b12"/>
<path d="M306.2 178.2 L310.4 178.2 L308.3 174.6z" fill="#0b6b12"/>
<path d="M310.6 177.6 L314.7 177.6 L312.6 174.0z" fill="#0b6b12"/>
<path d="M301.8 185.5 L305.9 185.5 L303.9 181.9z" fill="#0b6b12"/>
<path d="M291.6 186.1 L295.8 186.1 L293.7 182.5z" fill="#0b6b12"/>
<path d="M303.8 191.3 L307.9 191.3 L305.9 187.7z" fill="#0b6b12"/>
<path d="M274.1 184.0 L278.2 184.0 L276.2 180.4z" fill="#0b6b12"/>
<path d="M276.4 182.2 L280.6 182.2 L278.5 178.6z" fill="#0b6b12"/>
<path d="M271.9 185.8 L276.1 185.8 L274.0 182.2z" fill="#0b6b12"/>
<path d="M278.3 185.4 L282.4 185.4 L280.4 181.8z" fill="#0b6b12"/>
<path d="M270.1 182.6 L274.2 182.6 L272.2 179.0z" fill="#0b6b12"/>
<path d="M261.1 184.6 L265.2 184.6 L263.1 181.0z" fill="#0b6b12"/>
<path d="M266.8 183.6 L270.9 183.6 L268.9 180.0z" fill="#0b6b12"/>
<path d="M261.1 192.2 L265.2 192.2 L263.1 188.6z" fill="#0b6b12"/>
<path d="M310.6 210.2 L314.7 210.2 L312.6 206.6z" fill="#0b6b12"/>
<path d="M269.8 200.0 L273.9 200.0 L271.8 196.4z" fill="#0b6b12"/>
<path d="M271.6 202.2 L275.7 202.2 L273.6 198.6z" fill="#0b6b12"/>
<path d="M267.9 203.4 L272.1 203.4 L270.0 199.8z" fill="#0b6b12"/>
<path d="M273.1 204.6 L277.2 204.6 L275.2 201.0z" fill="#0b6b12"/>
<path d="M270.3 206.0 L274.4 206.0 L272.4 202.4z" fill="#0b6b12"/>
<path d="M266.6 205.6 L270.7 205.6 L268.6 202.0z" fill="#0b6b12"/>
<path d="M272.8 198.0 L276.9 198.0 L274.8 194.4z" fill="#0b6b12"/>
<path d="M275.3 202.8 L279.4 202.8 L277.4 199.2z" fill="#0b6b12"/>
<path d="M281.4 202.4 L285.6 202.4 L283.5 198.8z" fill="#0b6b12"/>
<path d="M285.8 217.6 L289.9 217.6 L287.9 214.0z" fill="#0b6b12"/>
<path d="M264.1 209.0 L268.2 209.0 L266.2 205.4z" fill="#0b6b12"/>
<path d="M267.8 210.2 L271.9 210.2 L269.8 206.6z" fill="#0b6b12"/>
<path d="M262.3 212.2 L266.4 212.2 L264.4 208.6z" fill="#0b6b12"/>
<path d="M269.6 213.4 L273.7 213.4 L271.6 209.8z" fill="#0b6b12"/>
<path d="M265.3 215.0 L269.4 215.0 L267.4 211.4z" fill="#0b6b12"/>
<path d="M298.4 259.1 L302.6 259.1 L300.5 255.5z" fill="#0b6b12"/>
<path d="M219.9 222.6 L224.1 222.6 L222.0 219.0z" fill="#0b6b12"/>
<path d="M224.4 227.6 L228.6 227.6 L226.5 224.0z" fill="#0b6b12"/>
<path d="M209.9 237.6 L214.1 237.6 L212.0 234.0z" fill="#0b6b12"/>
<path d="M203.9 245.1 L208.1 245.1 L206.0 241.5z" fill="#0b6b12"/>
<path d="M197.4 252.1 L201.6 252.1 L199.5 248.5z" fill="#0b6b12"/>
<path d="M208.4 250.1 L212.6 250.1 L210.5 246.5z" fill="#0b6b12"/>
<path d="M279.4 173.6 L283.6 173.6 L281.5 170.0z" fill="#0b6b12"/>
<path d="M283.4 181.1 L287.6 181.1 L285.5 177.5z" fill="#0b6b12"/>
<path d="M257.4 198.1 L261.6 198.1 L259.5 194.5z" fill="#0b6b12"/>
<path d="M259.9 203.1 L264.1 203.1 L262.0 199.5z" fill="#0b6b12"/>
<path d="M257.2 172.0 L261.4 172.0 L259.3 168.4z" fill="#0b6b12"/>
<path d="M271.8 171.2 L275.9 171.2 L273.9 167.6z" fill="#0b6b12"/>
<path d="M270.8 173.8 L274.9 173.8 L272.8 170.2z" fill="#0b6b12"/>
<path d="M288.8 178.5 L292.9 178.5 L290.9 174.9z" fill="#0b6b12"/>
<path d="M288.9 180.2 L293.1 180.2 L291.0 176.6z" fill="#0b6b12"/>
<path d="M283.1 174.4 L287.2 174.4 L285.2 170.8z" fill="#0b6b12"/>
<path d="M263.8 185.8 L267.9 185.8 L265.8 182.2z" fill="#0b6b12"/>
<path d="M271.8 183.3 L275.9 183.3 L273.9 179.7z" fill="#0b6b12"/>
<path d="M215.6 160.9 L220.2 160.9 L217.9 156.9z" fill="#f01818"/>
<path d="M217.9 200.3 L222.5 200.3 L220.2 196.3z" fill="#f01818"/>
<path d="M248.5 185.7 L253.1 185.7 L250.8 181.7z" fill="#f01818"/>
<path d="M230.1 219.2 L234.7 219.2 L232.4 215.2z" fill="#f01818"/>
<path d="M259.8 162.4 L264.4 162.4 L262.1 158.4z" fill="#f01818"/>
<path d="M266.3 155.1 L270.9 155.1 L268.6 151.1z" fill="#f01818"/>
<path d="M273.0 155.1 L277.6 155.1 L275.3 151.1z" fill="#f01818"/>
<path d="M291.0 158.0 L295.6 158.0 L293.3 154.0z" fill="#f01818"/>
<path d="M232.0 242.5 L234.4 242.5 L233.2 240.4z" fill="#f01818"/>
<path d="M229.2 257.5 L231.6 257.5 L230.4 255.4z" fill="#f01818"/>
<path d="M270.4 150.2 L275.0 150.2 L272.7 146.2z" fill="#1a1ae6"/>
<path d="M265.9 158.6 L270.5 158.6 L268.2 154.6z" fill="#1a1ae6"/>
<path d="M261.2 174.6 L265.8 174.6 L263.5 170.6z" fill="#1a1ae6"/>
<path d="M279.7 176.9 L284.3 176.9 L282.0 172.9z" fill="#1a1ae6"/>
<path d="M233.4 252.5 L235.8 252.5 L234.6 250.4z" fill="#1a1ae6"/>
<rect x="239.0" y="272.0" width="1.2" height="1.2" fill="#f01818"/>
<rect x="237.6" y="268.0" width="1.2" height="1.2" fill="#f01818"/>
<rect x="240.4" y="268.79999999999995" width="1.2" height="1.2" fill="#f01818"/>
<rect x="237.0" y="264.59999999999997" width="1.2" height="1.2" fill="#f01818"/>
<text x="218.0" y="165.4" font-size="2.2" text-anchor="middle" fill="#111" font-family='"DejaVu Sans", sans-serif' stroke="#111" stroke-width="0.07">RBC_Adrenic</text>
<text x="223.7" y="195.0" font-size="2.2" text-anchor="middle" fill="#111" font-family='"DejaVu Sans", sans-serif' stroke="#111" stroke-width="0.07">RBC_DPAn6</text>
<text x="246.6" y="190.0" font-size="2.2" text-anchor="middle" fill="#111" font-family='"DejaVu Sans", sans-serif' stroke="#111" stroke-width="0.07">RBC_DPAn3</text>
<text x="253.0" y="161.6" font-size="2.2" text-anchor="middle" fill="#111" font-family='"DejaVu Sans", sans-serif' stroke="#111" stroke-width="0.07">RBC_DHA</text>
<text x="262.0" y="149.2" font-size="2.2" text-anchor="middle" fill="#111" font-family='"DejaVu Sans", sans-serif' stroke="#111" stroke-width="0.07">RBC_EPA</text>
<text x="269.8" y="144.0" font-size="2.2" text-anchor="middle" fill="#111" font-family='"DejaVu Sans", sans-serif' stroke="#111" stroke-width="0.07">PL_DHA</text>
<text x="283.0" y="149.2" font-size="2.2" text-anchor="middle" fill="#111" font-family='"DejaVu Sans", sans-serif' stroke="#111" stroke-width="0.07">RBC_DHA</text>
<text x="295.4" y="152.2" font-size="2.2" text-anchor="middle" fill="#111" font-family='"DejaVu Sans", sans-serif' stroke="#111" stroke-width="0.07">RBC_DPA</text>
<text x="262.6" y="167.2" font-size="2.2" text-anchor="middle" fill="#111" font-family='"DejaVu Sans", sans-serif' stroke="#111" stroke-width="0.07">PL_DHA</text>
<text x="272.6" y="162.2" font-size="2.2" text-anchor="middle" fill="#111" font-family='"DejaVu Sans", sans-serif' stroke="#111" stroke-width="0.07">PL_DA</text>
<text x="286.4" y="170.2" font-size="2.2" text-anchor="middle" fill="#111" font-family='"DejaVu Sans", sans-serif' stroke="#111" stroke-width="0.07">PL_EPA</text>
<text x="259.0" y="179.8" font-size="2.2" text-anchor="middle" fill="#111" font-family='"DejaVu Sans", sans-serif' stroke="#111" stroke-width="0.07">OA_D</text>
<text x="270.6" y="186.6" font-size="2.2" text-anchor="middle" fill="#111" font-family='"DejaVu Sans", sans-serif' stroke="#111" stroke-width="0.07">OA</text>
<text x="258.6" y="205.6" font-size="2.2" text-anchor="middle" fill="#111" font-family='"DejaVu Sans", sans-serif' stroke="#111" stroke-width="0.07">12-oxoETE</text>
<text x="239.0" y="240.4" font-size="2.2" text-anchor="middle" fill="#111" font-family='"DejaVu Sans", sans-serif' stroke="#111" stroke-width="0.07">5-oxoETE</text>
<text x="245.6" y="231.4" font-size="2.2" text-anchor="middle" fill="#111" font-family='"DejaVu Sans", sans-serif' stroke="#111" stroke-width="0.07">DHA</text>
<text x="277.5" y="232.4" font-size="2.2" text-anchor="middle" fill="#111" font-family='"DejaVu Sans", sans-serif' stroke="#111" stroke-width="0.07">11-HEPE</text>
<text x="278.6" y="238.4" font-size="2.2" text-anchor="middle" fill="#111" font-family='"DejaVu Sans", sans-serif' stroke="#111" stroke-width="0.07">17-HDoHE</text>
<text x="272.6" y="244.0" font-size="2.2" text-anchor="middle" fill="#111" font-family='"DejaVu Sans", sans-serif' stroke="#111" stroke-width="0.07">oxylipid</text>
<text x="280.0" y="249.2" font-size="2.2" text-anchor="middle" fill="#111" font-family='"DejaVu Sans", sans-serif' stroke="#111" stroke-width="0.07">20-HDoHE</text>
<text x="238.8" y="285.3" font-size="2.6" text-anchor="middle" fill="#444" font-family='"DejaVu Sans", sans-serif'>0</text>
<text x="288.5" y="285.3" font-size="2.6" text-anchor="middle" fill="#444" font-family='"DejaVu Sans", sans-serif'>1</text>
<text x="181.2" y="193.9" font-size="2.4" text-anchor="end" fill="#555">10</text>
<text x="181.2" y="233.9" font-size="2.4" text-anchor="end" fill="#555">5</text>
<text x="181.2" y="273.9" font-size="2.4" text-anchor="end" fill="#555">0</text>
<g font-family='"DejaVu Sans", sans-serif' fill="#000" stroke="#000" stroke-width="0.12"><text x="243.3" y="291.5" font-size="4.45">log<tspan font-size="3.1" dy="0.9">2</tspan><tspan dy="-0.9"> fold change</tspan></text><text x="204.0" y="297.8" font-size="4.45">Size of rectangles is proportional to -log10(P-value)</text></g>
</g>
<ellipse cx="253.7" cy="220.65" rx="85.1" ry="83.75" fill="none" stroke="#1467c3" stroke-width="2.3"/>
<clipPath id="cd"><circle cx="440.7" cy="233.9" r="68.6"/></clipPath>
<g clip-path="url(#cd)">
<rect x="365" y="160" width="150" height="150" fill="#fff"/>
<line x1="428.3" x2="428.3" y1="160" y2="305" stroke="#f1f1f1" stroke-width="0.4"/>
<line x1="437.9" x2="437.9" y1="160" y2="305" stroke="#f1f1f1" stroke-width="0.4"/>
<line x1="447.7" x2="447.7" y1="160" y2="305" stroke="#f1f1f1" stroke-width="0.4"/>
<line x1="457.6" x2="457.6" y1="160" y2="305" stroke="#f1f1f1" stroke-width="0.4"/>
<line x1="467.2" x2="467.2" y1="160" y2="305" stroke="#f1f1f1" stroke-width="0.4"/>
<line x1="477.6" x2="477.6" y1="160" y2="305" stroke="#f1f1f1" stroke-width="0.4"/>
<line x1="484.2" x2="484.2" y1="160" y2="305" stroke="#e6e6e6" stroke-width="0.5"/>
<text x="421.8" y="165.9" font-size="2.2" text-anchor="end" fill="#333" textLength="11.0" lengthAdjust="spacingAndGlyphs">OX.HETE 0.8</text>
<circle cx="428.3" cy="165.05" r="0.45" fill="#d6ecf5"/>
<rect x="437.28" y="164.43" width="1.24" height="1.24" fill="#fdc98a"/>
<rect x="447.25" y="164.60" width="0.90" height="0.90" fill="#d6ecf5"/>
<circle cx="457.6" cy="165.05" r="1.85" fill="#a50026"/>
<circle cx="467.2" cy="165.05" r="0.95" fill="#f67c3c"/>
<circle cx="477.6" cy="165.05" r="0.6" fill="#fdae61"/>
<text x="421.8" y="169.2" font-size="2.2" text-anchor="end" fill="#333" textLength="11.0" lengthAdjust="spacingAndGlyphs">OX.HEPE 0.7</text>
<circle cx="428.3" cy="168.39" r="0.45" fill="#d6ecf5"/>
<rect x="437.28" y="167.77" width="1.24" height="1.24" fill="#fdc98a"/>
<rect x="447.25" y="167.94" width="0.90" height="0.90" fill="#d6ecf5"/>
<circle cx="457.6" cy="168.39" r="1.85" fill="#a50026"/>
<circle cx="467.2" cy="168.39" r="0.95" fill="#f67c3c"/>
<circle cx="477.6" cy="168.39" r="0.6" fill="#fdae61"/>
<text x="421.8" y="172.5" font-size="2.2" text-anchor="end" fill="#333" textLength="11.0" lengthAdjust="spacingAndGlyphs">OX.DiHO 0.8</text>
<circle cx="428.3" cy="171.73" r="0.45" fill="#d6ecf5"/>
<rect x="437.28" y="171.11" width="1.24" height="1.24" fill="#fdc98a"/>
<rect x="447.25" y="171.28" width="0.90" height="0.90" fill="#d6ecf5"/>
<circle cx="457.6" cy="171.73" r="1.85" fill="#a50026"/>
<circle cx="467.2" cy="171.73" r="0.95" fill="#f67c3c"/>
<circle cx="477.6" cy="171.73" r="0.6" fill="#fdae61"/>
<text x="421.8" y="175.9" font-size="2.2" text-anchor="end" fill="#333" textLength="11.0" lengthAdjust="spacingAndGlyphs">OX.EpOM 0.9</text>
<circle cx="428.3" cy="175.07" r="0.45" fill="#d6ecf5"/>
<rect x="437.28" y="174.45" width="1.24" height="1.24" fill="#fdc98a"/>
<rect x="447.25" y="174.62" width="0.90" height="0.90" fill="#d6ecf5"/>
<circle cx="457.6" cy="175.07" r="1.85" fill="#a50026"/>
<circle cx="467.2" cy="175.07" r="0.95" fill="#f67c3c"/>
<circle cx="477.6" cy="175.07" r="0.6" fill="#fdae61"/>
<text x="421.8" y="179.2" font-size="2.2" text-anchor="end" fill="#333" textLength="11.0" lengthAdjust="spacingAndGlyphs">OX.HODE 0.8</text>
<circle cx="428.3" cy="178.41" r="0.45" fill="#d6ecf5"/>
<rect x="437.28" y="177.79" width="1.24" height="1.24" fill="#fdc98a"/>
<rect x="447.25" y="177.96" width="0.90" height="0.90" fill="#d6ecf5"/>
<circle cx="457.6" cy="178.41" r="1.85" fill="#a50026"/>
<circle cx="467.2" cy="178.41" r="0.95" fill="#f67c3c"/>
<circle cx="477.6" cy="178.41" r="0.6" fill="#fdae61"/>
<text x="421.8" y="182.6" font-size="2.2" text-anchor="end" fill="#333" textLength="11.0" lengthAdjust="spacingAndGlyphs">OX.DiHE 0.8</text>
<circle cx="428.3" cy="181.75" r="0.45" fill="#d6ecf5"/>
<rect x="437.28" y="181.13" width="1.24" height="1.24" fill="#fdc98a"/>
<rect x="447.25" y="181.30" width="0.90" height="0.90" fill="#d6ecf5"/>
<circle cx="457.6" cy="181.75" r="1.85" fill="#a50026"/>
<circle cx="467.2" cy="181.75" r="0.7" fill="#fdae61"/>
<circle cx="477.6" cy="181.75" r="0.6" fill="#fdae61"/>
<text x="421.8" y="185.9" font-size="2.2" text-anchor="end" fill="#333" textLength="11.0" lengthAdjust="spacingAndGlyphs">OX.oxoE 0.6</text>
<circle cx="428.3" cy="185.09" r="0.45" fill="#d6ecf5"/>
<rect x="437.28" y="184.47" width="1.24" height="1.24" fill="#fdc98a"/>
<rect x="447.25" y="184.64" width="0.90" height="0.90" fill="#d6ecf5"/>
<circle cx="457.6" cy="185.09" r="1.85" fill="#a50026"/>
<circle cx="467.2" cy="185.09" r="0.7" fill="#fdae61"/>
<circle cx="477.6" cy="185.09" r="0.6" fill="#fdae61"/>
<text x="421.8" y="189.2" font-size="2.2" text-anchor="end" fill="#333" textLength="3.0" lengthAdjust="spacingAndGlyphs">OXA</text>
<circle cx="428.3" cy="188.43" r="0.45" fill="#d6ecf5"/>
<rect x="437.28" y="187.81" width="1.24" height="1.24" fill="#fdc98a"/>
<rect x="447.25" y="187.98" width="0.90" height="0.90" fill="#d6ecf5"/>
<circle cx="457.6" cy="188.43" r="1.85" fill="#a50026"/>
<circle cx="467.2" cy="188.43" r="0.7" fill="#fdae61"/>
<circle cx="477.6" cy="188.43" r="0.6" fill="#fdae61"/>
<text x="421.8" y="192.6" font-size="2.2" text-anchor="end" fill="#333" textLength="11.0" lengthAdjust="spacingAndGlyphs">OX.HDoH 0.9</text>
<circle cx="428.3" cy="191.77" r="0.45" fill="#d6ecf5"/>
<rect x="437.50" y="191.37" width="0.80" height="0.80" fill="#fee3a4"/>
<rect x="447.25" y="191.32" width="0.90" height="0.90" fill="#d6ecf5"/>
<circle cx="457.6" cy="191.77" r="1.85" fill="#a50026"/>
<circle cx="467.2" cy="191.77" r="0.7" fill="#fdae61"/>
<circle cx="477.6" cy="191.77" r="0.6" fill="#fdae61"/>
<text x="421.8" y="195.9" font-size="2.2" text-anchor="end" fill="#333" textLength="11.0" lengthAdjust="spacingAndGlyphs">OX.EpET 0.8</text>
<rect x="427.2" y="194.01" width="2.2" height="2.2" fill="#a6d3e8"/>
<rect x="437.50" y="194.71" width="0.80" height="0.80" fill="#fee3a4"/>
<rect x="446.70" y="194.11" width="2.00" height="2.00" fill="#6aa6d2"/>
<circle cx="457.6" cy="195.11" r="1.85" fill="#a50026"/>
<circle cx="467.2" cy="195.11" r="0.7" fill="#fdae61"/>
<circle cx="477.6" cy="195.11" r="0.6" fill="#fdae61"/>
<text x="421.8" y="199.3" font-size="2.2" text-anchor="end" fill="#333" textLength="11.0" lengthAdjust="spacingAndGlyphs">OX.HEPE 0.8</text>
<rect x="427.2" y="197.35" width="2.2" height="2.2" fill="#a6d3e8"/>
<rect x="437.50" y="198.05" width="0.80" height="0.80" fill="#fee3a4"/>
<rect x="446.70" y="197.45" width="2.00" height="2.00" fill="#6aa6d2"/>
<circle cx="457.6" cy="198.45" r="1.85" fill="#a50026"/>
<circle cx="467.2" cy="198.45" r="0.7" fill="#fdae61"/>
<circle cx="477.6" cy="198.45" r="0.6" fill="#fdae61"/>
<text x="421.8" y="202.6" font-size="2.2" text-anchor="end" fill="#333" textLength="7.0" lengthAdjust="spacingAndGlyphs">11-HEPE</text>
<circle cx="428.3" cy="201.79" r="0.45" fill="#d6ecf5"/>
<rect x="437.50" y="201.39" width="0.80" height="0.80" fill="#fee3a4"/>
<rect x="446.70" y="200.79" width="2.00" height="2.00" fill="#6aa6d2"/>
<circle cx="457.6" cy="201.79" r="1.3" fill="#c8141e"/>
<circle cx="467.2" cy="201.79" r="0.45" fill="#fee3a4"/>
<circle cx="477.6" cy="201.79" r="0.4" fill="#d6ecf5"/>
<text x="421.8" y="205.9" font-size="2.2" text-anchor="end" fill="#333" textLength="5.0" lengthAdjust="spacingAndGlyphs">PL_DA</text>
<circle cx="428.3" cy="205.13" r="0.45" fill="#d6ecf5"/>
<rect x="437.50" y="204.73" width="0.80" height="0.80" fill="#fee3a4"/>
<rect x="446.90" y="204.33" width="1.60" height="1.60" fill="#a6d3e8"/>
<circle cx="457.6" cy="205.13" r="0.95" fill="#e8432c"/>
<circle cx="467.2" cy="205.13" r="0.7" fill="#fdae61"/>
<circle cx="477.6" cy="205.13" r="0.75" fill="#a6d3e8"/>
<text x="421.8" y="209.3" font-size="2.2" text-anchor="end" fill="#333" textLength="7.0" lengthAdjust="spacingAndGlyphs">PL_DGLA</text>
<circle cx="428.3" cy="208.47" r="0.45" fill="#d6ecf5"/>
<rect x="437.50" y="208.07" width="0.80" height="0.80" fill="#fee3a4"/>
<rect x="446.90" y="207.67" width="1.60" height="1.60" fill="#a6d3e8"/>
<circle cx="457.6" cy="208.47" r="0.95" fill="#e8432c"/>
<circle cx="467.2" cy="208.47" r="0.95" fill="#f67c3c"/>
<circle cx="477.6" cy="208.47" r="0.75" fill="#a6d3e8"/>
<text x="421.8" y="212.6" font-size="2.2" text-anchor="end" fill="#333" textLength="10.0" lengthAdjust="spacingAndGlyphs">OX.TXA 0.8</text>
<circle cx="428.3" cy="211.81" r="0.45" fill="#d6ecf5"/>
<rect x="437.50" y="211.41" width="0.80" height="0.80" fill="#fee3a4"/>
<rect x="447.25" y="211.36" width="0.90" height="0.90" fill="#d6ecf5"/>
<circle cx="457.6" cy="211.81" r="0.95" fill="#e8432c"/>
<circle cx="467.2" cy="211.81" r="0.95" fill="#f67c3c"/>
<circle cx="477.6" cy="211.81" r="0.4" fill="#d6ecf5"/>
<text x="421.8" y="216.0" font-size="2.2" text-anchor="end" fill="#333" textLength="3.0" lengthAdjust="spacingAndGlyphs">DHA</text>
<circle cx="428.3" cy="215.15" r="0.45" fill="#d6ecf5"/>
<rect x="436.90" y="214.15" width="2.00" height="2.00" fill="#f67c3c"/>
<rect x="446.70" y="214.15" width="2.00" height="2.00" fill="#6aa6d2"/>
<circle cx="457.6" cy="215.15" r="1.3" fill="#c8141e"/>
<circle cx="467.2" cy="215.15" r="0.7" fill="#fdae61"/>
<circle cx="477.6" cy="215.15" r="0.75" fill="#a6d3e8"/>
<text x="421.8" y="219.3" font-size="2.2" text-anchor="end" fill="#333" textLength="6.0" lengthAdjust="spacingAndGlyphs">RBC_DA</text>
<circle cx="428.3" cy="218.49" r="0.45" fill="#d6ecf5"/>
<rect x="437.50" y="218.09" width="0.80" height="0.80" fill="#fee3a4"/>
<rect x="446.70" y="217.49" width="2.00" height="2.00" fill="#6aa6d2"/>
<circle cx="457.6" cy="218.49" r="1.3" fill="#c8141e"/>
<circle cx="467.2" cy="218.49" r="0.7" fill="#fdae61"/>
<circle cx="477.6" cy="218.49" r="0.75" fill="#a6d3e8"/>
<text x="421.8" y="222.6" font-size="2.2" text-anchor="end" fill="#333" textLength="8.0" lengthAdjust="spacingAndGlyphs">RBC_DGLA</text>
<circle cx="428.3" cy="221.83" r="0.45" fill="#d6ecf5"/>
<rect x="437.50" y="221.43" width="0.80" height="0.80" fill="#fee3a4"/>
<rect x="446.70" y="220.83" width="2.00" height="2.00" fill="#6aa6d2"/>
<circle cx="457.6" cy="221.83" r="0.95" fill="#e8432c"/>
<circle cx="467.2" cy="221.83" r="0.95" fill="#f67c3c"/>
<circle cx="477.6" cy="221.83" r="0.75" fill="#a6d3e8"/>
<text x="421.8" y="226.0" font-size="2.2" text-anchor="end" fill="#333" textLength="8.0" lengthAdjust="spacingAndGlyphs">PL_DPAn6</text>
<circle cx="428.3" cy="225.17" r="0.45" fill="#d6ecf5"/>
<rect x="437.50" y="224.77" width="0.80" height="0.80" fill="#fee3a4"/>
<rect x="446.70" y="224.17" width="2.00" height="2.00" fill="#6aa6d2"/>
<circle cx="457.6" cy="225.17" r="1.85" fill="#a50026"/>
<circle cx="467.2" cy="225.17" r="0.7" fill="#fdae61"/>
<circle cx="477.6" cy="225.17" r="0.75" fill="#a6d3e8"/>
<text x="421.8" y="229.3" font-size="2.2" text-anchor="end" fill="#333" textLength="11.0" lengthAdjust="spacingAndGlyphs">OX.EpDP 0.9</text>
<circle cx="428.3" cy="228.51" r="0.45" fill="#d6ecf5"/>
<rect x="437.28" y="227.89" width="1.24" height="1.24" fill="#fdc98a"/>
<rect x="446.90" y="227.71" width="1.60" height="1.60" fill="#a6d3e8"/>
<circle cx="457.6" cy="228.51" r="1.85" fill="#a50026"/>
<circle cx="467.2" cy="228.51" r="0.95" fill="#f67c3c"/>
<circle cx="477.6" cy="228.51" r="1.0" fill="#6aa6d2"/>
<text x="421.8" y="232.7" font-size="2.2" text-anchor="end" fill="#333" textLength="11.0" lengthAdjust="spacingAndGlyphs">OX.DiHD 0.9</text>
<rect x="427.2" y="230.75" width="2.2" height="2.2" fill="#a6d3e8"/>
<rect x="437.28" y="231.23" width="1.24" height="1.24" fill="#fdc98a"/>
<rect x="446.70" y="230.85" width="2.00" height="2.00" fill="#6aa6d2"/>
<circle cx="457.6" cy="231.85" r="1.85" fill="#a50026"/>
<circle cx="467.2" cy="231.85" r="0.95" fill="#f67c3c"/>
<circle cx="477.6" cy="231.85" r="0.75" fill="#a6d3e8"/>
<text x="421.8" y="236.0" font-size="2.2" text-anchor="end" fill="#333" textLength="11.0" lengthAdjust="spacingAndGlyphs">OX.HDPA 0.8</text>
<circle cx="428.3" cy="235.19" r="0.45" fill="#d6ecf5"/>
<rect x="437.50" y="234.79" width="0.80" height="0.80" fill="#fee3a4"/>
<rect x="447.25" y="234.74" width="0.90" height="0.90" fill="#d6ecf5"/>
<circle cx="457.6" cy="235.19" r="1.3" fill="#c8141e"/>
<circle cx="467.2" cy="235.19" r="0.7" fill="#fdae61"/>
<circle cx="477.6" cy="235.19" r="0.75" fill="#a6d3e8"/>
<text x="421.8" y="239.3" font-size="2.2" text-anchor="end" fill="#333" textLength="11.0" lengthAdjust="spacingAndGlyphs">OX.oxoO 0.7</text>
<circle cx="428.3" cy="238.53" r="0.45" fill="#d6ecf5"/>
<rect x="437.50" y="238.13" width="0.80" height="0.80" fill="#fee3a4"/>
<rect x="446.90" y="237.73" width="1.60" height="1.60" fill="#a6d3e8"/>
<circle cx="457.6" cy="238.53" r="1.3" fill="#c8141e"/>
<circle cx="467.2" cy="238.53" r="0.7" fill="#fdae61"/>
<circle cx="477.6" cy="238.53" r="1.4" fill="#3f73b8"/>
<text x="421.8" y="242.7" font-size="2.2" text-anchor="end" fill="#333" textLength="12.0" lengthAdjust="spacingAndGlyphs">OX.DiHET 0.8</text>
<circle cx="428.3" cy="241.87" r="0.45" fill="#d6ecf5"/>
<rect x="437.28" y="241.25" width="1.24" height="1.24" fill="#fdc98a"/>
<rect x="446.70" y="240.87" width="2.00" height="2.00" fill="#6aa6d2"/>
<circle cx="457.6" cy="241.87" r="1.3" fill="#c8141e"/>
<circle cx="467.2" cy="241.87" r="0.95" fill="#f67c3c"/>
<circle cx="477.6" cy="241.87" r="0.75" fill="#a6d3e8"/>
<text x="421.8" y="246.0" font-size="2.2" text-anchor="end" fill="#333" textLength="11.0" lengthAdjust="spacingAndGlyphs">OX.HOTr 0.7</text>
<circle cx="428.3" cy="245.21" r="0.45" fill="#d6ecf5"/>
<rect x="437.28" y="244.59" width="1.24" height="1.24" fill="#fdc98a"/>
<rect x="446.70" y="244.21" width="2.00" height="2.00" fill="#6aa6d2"/>
<circle cx="457.6" cy="245.21" r="1.3" fill="#c8141e"/>
<circle cx="467.2" cy="245.21" r="0.7" fill="#fdae61"/>
<circle cx="477.6" cy="245.21" r="0.75" fill="#a6d3e8"/>
<text x="421.8" y="249.4" font-size="2.2" text-anchor="end" fill="#333" textLength="12.0" lengthAdjust="spacingAndGlyphs">OX.EpETr 0.9</text>
<circle cx="428.3" cy="248.55" r="0.45" fill="#d6ecf5"/>
<rect x="437.50" y="248.15" width="0.80" height="0.80" fill="#fee3a4"/>
<rect x="446.70" y="247.55" width="2.00" height="2.00" fill="#6aa6d2"/>
<circle cx="457.6" cy="248.55" r="1.3" fill="#c8141e"/>
<circle cx="467.2" cy="248.55" r="0.7" fill="#fdae61"/>
<circle cx="477.6" cy="248.55" r="0.75" fill="#a6d3e8"/>
<text x="421.8" y="252.7" font-size="2.2" text-anchor="end" fill="#333" textLength="11.0" lengthAdjust="spacingAndGlyphs">OX.HETr 0.8</text>
<circle cx="428.3" cy="251.89" r="0.45" fill="#d6ecf5"/>
<rect x="437.28" y="251.27" width="1.24" height="1.24" fill="#fdc98a"/>
<rect x="446.70" y="250.89" width="2.00" height="2.00" fill="#6aa6d2"/>
<circle cx="457.6" cy="251.89" r="1.3" fill="#c8141e"/>
<circle cx="467.2" cy="251.89" r="0.95" fill="#f67c3c"/>
<circle cx="477.6" cy="251.89" r="0.75" fill="#a6d3e8"/>
<text x="421.8" y="256.0" font-size="2.2" text-anchor="end" fill="#333" textLength="11.0" lengthAdjust="spacingAndGlyphs">OX.EpOD 0.9</text>
<circle cx="428.3" cy="255.23" r="0.45" fill="#d6ecf5"/>
<rect x="437.50" y="254.83" width="0.80" height="0.80" fill="#fee3a4"/>
<rect x="446.90" y="254.43" width="1.60" height="1.60" fill="#a6d3e8"/>
<circle cx="457.6" cy="255.23" r="1.85" fill="#a50026"/>
<circle cx="467.2" cy="255.23" r="0.95" fill="#f67c3c"/>
<circle cx="477.6" cy="255.23" r="0.75" fill="#a6d3e8"/>
<text x="421.8" y="259.4" font-size="2.2" text-anchor="end" fill="#333" textLength="8.0" lengthAdjust="spacingAndGlyphs">PL_DPAn3</text>
<circle cx="428.3" cy="258.57" r="0.45" fill="#d6ecf5"/>
<rect x="437.50" y="258.17" width="0.80" height="0.80" fill="#fee3a4"/>
<rect x="446.70" y="257.57" width="2.00" height="2.00" fill="#6aa6d2"/>
<circle cx="457.6" cy="258.57" r="1.3" fill="#c8141e"/>
<circle cx="467.2" cy="258.57" r="0.95" fill="#f67c3c"/>
<circle cx="477.6" cy="258.57" r="0.75" fill="#a6d3e8"/>
<text x="421.8" y="262.7" font-size="2.2" text-anchor="end" fill="#333" textLength="11.0" lengthAdjust="spacingAndGlyphs">OX.HEDE 0.9</text>
<circle cx="428.3" cy="261.91" r="0.45" fill="#d6ecf5"/>
<rect x="437.50" y="261.51" width="0.80" height="0.80" fill="#fee3a4"/>
<rect x="446.90" y="261.11" width="1.60" height="1.60" fill="#a6d3e8"/>
<circle cx="457.6" cy="261.91" r="1.3" fill="#c8141e"/>
<circle cx="467.2" cy="261.91" r="0.7" fill="#fdae61"/>
<circle cx="477.6" cy="261.91" r="0.75" fill="#a6d3e8"/>
<text x="421.8" y="266.1" font-size="2.2" text-anchor="end" fill="#333" textLength="11.0" lengthAdjust="spacingAndGlyphs">OX.DiOM 0.8</text>
<circle cx="428.3" cy="265.25" r="0.45" fill="#d6ecf5"/>
<rect x="437.50" y="264.85" width="0.80" height="0.80" fill="#fee3a4"/>
<rect x="446.70" y="264.25" width="2.00" height="2.00" fill="#6aa6d2"/>
<circle cx="457.6" cy="265.25" r="1.85" fill="#a50026"/>
<circle cx="467.2" cy="265.25" r="0.95" fill="#f67c3c"/>
<circle cx="477.6" cy="265.25" r="0.75" fill="#a6d3e8"/>
<text x="421.8" y="269.4" font-size="2.2" text-anchor="end" fill="#333" textLength="11.0" lengthAdjust="spacingAndGlyphs">OX.HOME 0.8</text>
<circle cx="428.3" cy="268.59" r="0.45" fill="#d6ecf5"/>
<rect x="437.50" y="268.19" width="0.80" height="0.80" fill="#fee3a4"/>
<rect x="446.70" y="267.59" width="2.00" height="2.00" fill="#6aa6d2"/>
<circle cx="457.6" cy="268.59" r="1.3" fill="#c8141e"/>
<circle cx="467.2" cy="268.59" r="0.7" fill="#fdae61"/>
<circle cx="477.6" cy="268.59" r="0.75" fill="#a6d3e8"/>
<text x="421.8" y="272.7" font-size="2.2" text-anchor="end" fill="#333" textLength="7.0" lengthAdjust="spacingAndGlyphs">RBC_EPA</text>
<rect x="427.2" y="270.83" width="2.2" height="2.2" fill="#a6d3e8"/>
<rect x="437.50" y="271.53" width="0.80" height="0.80" fill="#fee3a4"/>
<rect x="446.45" y="270.68" width="2.50" height="2.50" fill="#3f73b8"/>
<circle cx="457.6" cy="271.93" r="1.85" fill="#a50026"/>
<circle cx="467.2" cy="271.93" r="0.95" fill="#f67c3c"/>
<circle cx="477.6" cy="271.93" r="1.4" fill="#3f73b8"/>
<text x="421.8" y="276.1" font-size="2.2" text-anchor="end" fill="#333" textLength="9.0" lengthAdjust="spacingAndGlyphs">RBC_DPAn6</text>
<circle cx="428.3" cy="275.27" r="0.45" fill="#d6ecf5"/>
<rect x="437.50" y="274.87" width="0.80" height="0.80" fill="#fee3a4"/>
<rect x="446.90" y="274.47" width="1.60" height="1.60" fill="#a6d3e8"/>
<circle cx="457.6" cy="275.27" r="0.95" fill="#e8432c"/>
<circle cx="467.2" cy="275.27" r="0.7" fill="#fdae61"/>
<circle cx="477.6" cy="275.27" r="0.75" fill="#a6d3e8"/>
<text x="421.8" y="279.4" font-size="2.2" text-anchor="end" fill="#333" textLength="11.0" lengthAdjust="spacingAndGlyphs">RBC_Adrenic</text>
<circle cx="428.3" cy="278.61" r="0.45" fill="#d6ecf5"/>
<rect x="437.50" y="278.21" width="0.80" height="0.80" fill="#fee3a4"/>
<rect x="446.70" y="277.61" width="2.00" height="2.00" fill="#f67c3c"/>
<circle cx="457.6" cy="278.61" r="0.9" fill="#6aa6d2"/>
<circle cx="467.2" cy="278.61" r="0.7" fill="#fdae61"/>
<circle cx="477.6" cy="278.61" r="0.4" fill="#d6ecf5"/>
<text x="421.8" y="282.8" font-size="2.2" text-anchor="end" fill="#333" textLength="6.0" lengthAdjust="spacingAndGlyphs">RBC_AA</text>
<circle cx="428.3" cy="281.95" r="0.45" fill="#d6ecf5"/>
<rect x="437.50" y="281.55" width="0.80" height="0.80" fill="#fee3a4"/>
<rect x="446.90" y="281.15" width="1.60" height="1.60" fill="#a6d3e8"/>
<circle cx="457.6" cy="281.95" r="0.9" fill="#6aa6d2"/>
<circle cx="467.2" cy="281.95" r="0.45" fill="#fee3a4"/>
<circle cx="477.6" cy="281.95" r="0.75" fill="#a6d3e8"/>
<text x="421.8" y="286.1" font-size="2.2" text-anchor="end" fill="#333" textLength="11.0" lengthAdjust="spacingAndGlyphs">OX.oxoL 0.6</text>
<circle cx="428.3" cy="285.29" r="0.45" fill="#d6ecf5"/>
<rect x="437.00" y="284.39" width="1.80" height="1.80" fill="#a6d3e8"/>
<rect x="447.25" y="284.84" width="0.90" height="0.90" fill="#d6ecf5"/>
<circle cx="457.6" cy="285.29" r="0.45" fill="#fee3a4"/>
<circle cx="467.2" cy="285.29" r="0.95" fill="#f67c3c"/>
<circle cx="477.6" cy="285.29" r="1.0" fill="#6aa6d2"/>
<text x="421.8" y="289.4" font-size="2.2" text-anchor="end" fill="#333" textLength="11.0" lengthAdjust="spacingAndGlyphs">OX.EpOA 0.8</text>
<circle cx="428.3" cy="288.63" r="0.45" fill="#d6ecf5"/>
<rect x="436.90" y="287.63" width="2.00" height="2.00" fill="#f67c3c"/>
<rect x="447.25" y="288.18" width="0.90" height="0.90" fill="#d6ecf5"/>
<circle cx="457.6" cy="288.63" r="0.45" fill="#fee3a4"/>
<circle cx="467.2" cy="288.63" r="0.7" fill="#fdae61"/>
<circle cx="477.6" cy="288.63" r="1.2" fill="#e8432c"/>
<text x="421.8" y="292.8" font-size="2.2" text-anchor="end" fill="#333" textLength="8.0" lengthAdjust="spacingAndGlyphs">17-HDoHE</text>
<circle cx="428.3" cy="291.97" r="0.45" fill="#d6ecf5"/>
<rect x="437.50" y="291.57" width="0.80" height="0.80" fill="#fee3a4"/>
<rect x="447.25" y="291.52" width="0.90" height="0.90" fill="#d6ecf5"/>
<circle cx="457.6" cy="291.97" r="0.45" fill="#fee3a4"/>
<circle cx="467.2" cy="291.97" r="0.95" fill="#f67c3c"/>
<circle cx="477.6" cy="291.97" r="0.75" fill="#a6d3e8"/>
<text x="421.8" y="296.1" font-size="2.2" text-anchor="end" fill="#333" textLength="6.0" lengthAdjust="spacingAndGlyphs">PL_EPA</text>
<circle cx="428.3" cy="295.31" r="0.45" fill="#d6ecf5"/>
<rect x="437.50" y="294.91" width="0.80" height="0.80" fill="#fee3a4"/>
<rect x="446.90" y="294.51" width="1.60" height="1.60" fill="#a6d3e8"/>
<circle cx="457.6" cy="295.31" r="0.45" fill="#fee3a4"/>
<circle cx="467.2" cy="295.31" r="0.95" fill="#f67c3c"/>
<circle cx="477.6" cy="295.31" r="0.4" fill="#d6ecf5"/>
<text x="421.8" y="299.4" font-size="2.2" text-anchor="end" fill="#333" textLength="5.0" lengthAdjust="spacingAndGlyphs">PL_AA</text>
<circle cx="428.3" cy="298.65" r="0.45" fill="#d6ecf5"/>
<rect x="437.28" y="298.03" width="1.24" height="1.24" fill="#fdc98a"/>
<rect x="446.90" y="297.85" width="1.60" height="1.60" fill="#a6d3e8"/>
<circle cx="457.6" cy="298.65" r="0.45" fill="#fee3a4"/>
<circle cx="467.2" cy="298.65" r="0.7" fill="#fdae61"/>
<circle cx="477.6" cy="298.65" r="0.4" fill="#d6ecf5"/>
<text x="421.8" y="302.8" font-size="2.2" text-anchor="end" fill="#333" textLength="8.0" lengthAdjust="spacingAndGlyphs">oxylipid</text>
<rect x="427.1" y="300.79" width="2.4" height="2.4" fill="#f67c3c"/>
<rect x="437.50" y="301.59" width="0.80" height="0.80" fill="#fee3a4"/>
<rect x="447.25" y="301.54" width="0.90" height="0.90" fill="#d6ecf5"/>
<circle cx="457.6" cy="301.99" r="0.45" fill="#fee3a4"/>
<circle cx="467.2" cy="301.99" r="0.45" fill="#fee3a4"/>
<circle cx="477.6" cy="301.99" r="0.4" fill="#d6ecf5"/>
<path d="M407.0 165.1H405.4V168.4H407.0M405.4 166.7H404.0V171.7H407.0M404.0 169.2H402.3V175.1H407.0M407.0 178.4H405.2V181.8H407.0M402.3 172.1H400.8V180.1H405.2M407.0 185.1H405.3V188.4H407.0M405.3 186.8H404.0V191.8H407.0M407.0 195.1H405.1V198.5H407.0M404.0 189.3H402.1V196.8H405.1M400.8 176.1H398.7V193.0H402.1M407.0 201.8H405.7V205.1H407.0M405.7 203.5H404.3V208.5H407.0M407.0 211.8H405.5V215.2H407.0M407.0 218.5H405.2V221.8H407.0M405.5 213.5H403.5V220.2H405.2M404.3 206.0H401.6V216.8H403.5M407.0 225.2H405.1V228.5H407.0M405.1 226.8H403.2V231.9H407.0M407.0 235.2H405.6V238.5H407.0M403.2 229.3H401.7V236.9H405.6M407.0 241.9H405.3V245.2H407.0M405.3 243.5H403.7V248.6H407.0M401.7 233.1H399.6V246.0H403.7M407.0 251.9H405.6V255.2H407.0M405.6 253.6H403.7V258.6H407.0M403.7 256.1H402.1V261.9H407.0M407.0 265.2H405.7V268.6H407.0M405.7 266.9H404.0V271.9H407.0M402.1 259.0H400.0V269.4H404.0M399.6 239.6H397.6V264.2H400.0M407.0 275.3H402.1V278.6H407.0M402.1 276.9H397.4V281.9H407.0M407.0 285.3H404.2V288.6H407.0M404.2 287.0H400.2V292.0H407.0M407.0 295.3H403.6V298.6H407.0M403.6 297.0H400.5V302.0H407.0M400.2 289.5H395.9V299.5H400.5M397.4 279.4H393.0V294.5H395.9M401.6 211.4H396.0V251.9H397.6M398.7 184.6H394.4V231.6H396.0M394.4 208.1H391.4V287.0H393.0M391.4 234H366" fill="none" stroke="#8c8c8c" stroke-width="0.45"/>
<text x="486.8" y="198.6" font-size="2.2" text-anchor="start" fill="#000" textLength="8.3" lengthAdjust="spacingAndGlyphs" font-family='"DejaVu Sans", sans-serif' stroke="#000" stroke-width="0.08">Effect Size</text>
<linearGradient id="lg" x1="0" y1="0" x2="0" y2="1"><stop offset="0" stop-color="#a50026"/><stop offset="0.25" stop-color="#f46d43"/><stop offset="0.5" stop-color="#ffffbf"/><stop offset="0.75" stop-color="#74add1"/><stop offset="1" stop-color="#313695"/></linearGradient>
<rect x="486.9" y="200.3" width="1.5" height="12.0" fill="url(#lg)"/>
<text x="490.0" y="202.0" font-size="1.9" text-anchor="start" fill="#111" font-family='"DejaVu Sans", sans-serif'>0.25</text>
<text x="490.0" y="204.6" font-size="1.9" text-anchor="start" fill="#111" font-family='"DejaVu Sans", sans-serif'>0.10</text>
<text x="490.0" y="207.2" font-size="1.9" text-anchor="start" fill="#111" font-family='"DejaVu Sans", sans-serif'>0.00</text>
<text x="490.0" y="209.9" font-size="1.9" text-anchor="start" fill="#111" font-family='"DejaVu Sans", sans-serif'>-0.10</text>
<text x="490.0" y="212.5" font-size="1.9" text-anchor="start" fill="#111" font-family='"DejaVu Sans", sans-serif'>-0.25</text>
<text x="486.2" y="220.6" font-size="2.2" text-anchor="start" fill="#000" textLength="17.0" lengthAdjust="spacingAndGlyphs" font-family='"DejaVu Sans", sans-serif' stroke="#000" stroke-width="0.06">-log10(P-value)</text>
<circle cx="488.3" cy="224.2" r="0.7" fill="#000"/>
<text x="491.4" y="224.9" font-size="1.9" text-anchor="start" fill="#111" font-family='"DejaVu Sans", sans-serif'>1</text>
<circle cx="488.3" cy="227.7" r="1.0" fill="#000"/>
<text x="491.4" y="228.4" font-size="1.9" text-anchor="start" fill="#111" font-family='"DejaVu Sans", sans-serif'>2</text>
<circle cx="488.3" cy="231.2" r="1.35" fill="#000"/>
<text x="491.4" y="231.9" font-size="1.9" text-anchor="start" fill="#111" font-family='"DejaVu Sans", sans-serif'>3</text>
</g>
<circle cx="440.7" cy="233.9" r="68.6" fill="none" stroke="#1467c3" stroke-width="2.3"/>
</svg>
</body></html>
